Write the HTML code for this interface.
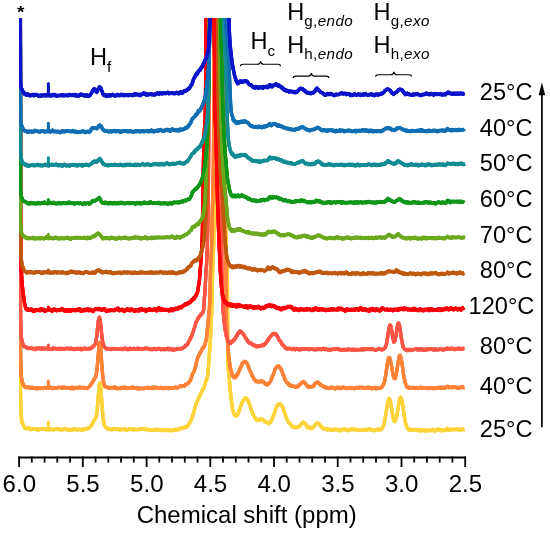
<!DOCTYPE html>
<html lang="en">
<head>
<meta charset="utf-8">
<title>Variable temperature NMR spectra</title>
<style>
html,body{margin:0;padding:0;background:#fff;}
body{width:550px;height:533px;overflow:hidden;}
svg{display:block;}
text{font-family:"Liberation Sans",Arial,Helvetica,sans-serif;font-size:23.6px;fill:#000;}
.sub{font-size:15.2px;letter-spacing:0.4px;}
.it{font-style:italic;}
#curves path{fill:none;stroke-width:3.3;stroke-linejoin:round;stroke-linecap:butt;}
</style>
</head>
<body>
<svg width="550" height="533" viewBox="0 0 550 533">
<rect x="0" y="0" width="550" height="533" fill="#fff"/>
<defs><clipPath id="plot"><rect x="19" y="18" width="448" height="436"/></clipPath></defs>
<g id="curves" clip-path="url(#plot)">
<g stroke="#ffd43a"><path id="c-yellow" d="M20.3 -8.0L20.4 380.2L20.7 404.7L21.1 415.0L21.2 416.2L21.5 418.9L21.9 421.6L22.3 423.3L22.4 423.0L22.7 423.7L23.1 424.8L23.5 425.7L23.9 426.5L24.3 427.0L24.4 427.4L24.7 428.0L25.1 428.0L25.5 428.4L25.9 428.3L26.3 428.5L26.7 428.3L27.1 428.5L27.5 428.1L27.9 428.3L28.3 428.3L28.7 428.4L29.1 428.1L29.5 428.9L29.9 429.3L30.3 429.5L30.7 429.2L31.1 429.4L31.5 429.2L31.9 429.1L32.3 429.3L32.7 428.8L33.1 428.9L33.5 429.1L33.9 428.9L34.3 429.1L34.7 429.2L35.1 429.1L35.5 428.8L35.9 429.0L36.0 429.3L36.3 428.9L36.7 429.6L37.1 429.6L37.5 429.5L37.9 430.0L38.3 429.6L38.7 429.1L39.1 429.4L39.5 429.5L39.9 429.3L40.3 429.4L40.7 429.0L41.1 429.0L41.5 429.0L41.9 428.5L42.3 428.8L42.7 428.7L43.1 428.9L43.5 428.7L43.9 428.8L44.3 428.9L44.7 429.2L45.1 429.4L45.5 429.1L45.9 429.4L46.3 429.8L46.7 429.2L47.1 429.4L47.5 429.3L47.9 429.5L48.3 429.4L48.7 429.2L49.1 429.3L49.5 429.4L49.9 429.7L50.3 429.2L50.7 429.1L51.1 429.1L51.5 429.0L51.9 429.1L52.3 429.1L52.7 429.5L53.1 429.6L53.5 430.0L53.9 429.7L54.3 429.4L54.7 429.3L55.1 429.0L55.5 429.2L55.9 429.1L56.3 429.3L56.7 428.9L57.1 429.2L57.5 428.7L57.9 428.6L58.3 429.1L58.7 429.0L59.1 429.3L59.5 429.8L59.9 429.1L60.3 429.2L60.7 429.5L61.1 429.8L61.5 429.8L61.9 429.9L62.3 429.9L62.7 429.7L63.1 429.1L63.5 429.0L63.9 428.9L64.3 428.7L64.7 429.1L65.1 428.9L65.5 429.4L65.9 429.3L66.3 429.4L66.7 429.4L67.1 429.6L67.5 429.4L67.9 429.7L68.3 430.1L68.7 429.6L69.1 430.1L69.5 429.5L69.9 430.1L70.3 429.7L70.7 430.1L71.1 430.0L71.5 429.6L71.9 430.1L72.3 430.0L72.7 429.4L73.1 429.2L73.5 429.1L73.9 428.9L74.3 429.3L74.7 429.1L75.1 429.3L75.5 429.3L75.9 429.5L76.3 429.4L76.7 430.0L77.1 429.7L77.5 429.8L77.9 429.5L78.3 429.3L78.7 429.4L79.1 429.4L79.5 429.6L79.9 429.5L80.3 429.6L80.7 429.3L81.1 429.4L81.5 429.9L81.9 429.4L82.3 429.3L82.7 429.6L83.1 429.8L83.5 429.1L83.9 429.4L84.3 429.3L84.7 429.0L85.1 429.5L85.5 429.4L85.9 429.3L86.3 428.9L86.7 429.0L87.1 428.6L87.5 428.4L87.9 428.1L88.3 428.0L88.7 428.3L89.1 427.8L89.5 427.7L89.9 427.3L90.3 426.9L90.7 426.4L91.1 426.1L91.5 425.3L91.9 424.6L92.3 423.9L92.7 423.4L93.1 422.5L93.5 421.6L93.9 420.7L94.3 419.8L94.7 419.7L95.1 419.0L95.5 418.0L95.9 417.1L96.3 415.7L96.7 413.5L97.1 410.4L97.5 406.1L97.9 401.6L98.3 395.8L98.7 391.0L99.1 386.6L99.5 383.8L99.9 383.0L100.3 384.0L100.7 386.5L101.1 391.0L101.5 397.2L101.9 402.8L102.3 408.8L102.7 414.1L103.1 417.7L103.5 420.8L103.9 423.5L104.3 425.0L104.7 426.0L105.1 426.7L105.5 427.0L105.9 427.2L106.3 427.8L106.7 427.9L107.1 428.0L107.5 428.7L107.9 428.8L108.3 429.0L108.7 428.8L109.1 429.0L109.5 429.0L109.9 429.1L110.3 429.4L110.7 429.2L111.1 429.5L111.5 429.5L111.9 429.8L112.3 429.0L112.7 429.3L113.1 428.9L113.5 428.8L113.9 428.4L114.3 428.7L114.7 429.0L115.1 429.0L115.5 429.1L115.9 429.1L116.3 429.5L116.7 429.4L117.1 429.0L117.5 429.4L117.9 429.2L118.3 428.8L118.7 429.3L119.1 429.7L119.5 429.3L119.9 429.1L120.3 429.2L120.7 429.7L121.1 429.5L121.5 429.4L121.9 429.3L122.3 429.3L122.7 429.4L123.1 429.4L123.5 429.4L123.9 429.2L124.3 429.5L124.7 429.3L125.1 429.7L125.5 429.2L125.9 429.6L126.3 429.8L126.7 429.7L127.1 430.4L127.5 430.2L127.9 429.6L128.3 429.7L128.7 429.4L129.1 428.7L129.5 429.2L129.9 429.1L130.3 429.2L130.7 428.9L131.1 429.2L131.5 429.2L131.9 429.5L132.3 429.3L132.7 429.2L133.1 429.5L133.5 429.1L133.9 429.2L134.3 428.9L134.7 429.6L135.1 429.5L135.5 429.5L135.9 429.6L136.3 429.6L136.7 429.7L137.1 429.7L137.5 429.6L137.9 429.5L138.3 429.6L138.7 429.2L139.1 428.9L139.5 428.8L139.9 428.8L140.0 429.4L140.3 429.2L140.7 429.1L141.1 429.0L141.5 428.8L141.9 429.0L142.3 429.1L142.7 428.9L143.1 428.9L143.5 429.0L143.9 429.2L144.3 429.0L144.7 429.4L145.1 429.2L145.5 429.6L145.9 429.1L146.3 429.4L146.7 429.6L147.1 429.3L147.5 429.3L147.9 429.6L148.3 429.7L148.7 429.6L149.1 430.0L149.5 430.5L149.9 430.1L150.3 430.2L150.7 430.0L151.1 430.3L151.5 430.0L151.9 429.9L152.3 430.2L152.7 429.7L153.1 430.0L153.5 430.0L153.9 429.8L154.3 429.9L154.7 430.2L155.1 429.7L155.5 429.6L155.9 429.4L156.3 429.7L156.7 429.9L157.1 429.8L157.5 429.4L157.9 429.5L158.3 429.6L158.7 429.8L159.1 429.8L159.5 429.9L159.9 430.0L160.3 429.9L160.7 430.0L161.1 430.1L161.5 430.1L161.9 430.2L162.3 430.4L162.7 430.1L163.1 430.1L163.5 429.8L163.9 430.3L164.3 429.8L164.7 430.0L165.1 430.5L165.5 430.5L165.9 430.4L166.3 430.1L166.7 430.3L167.1 430.0L167.5 430.1L167.9 430.3L168.3 430.0L168.7 430.0L169.1 430.1L169.5 430.4L169.9 430.5L170.0 430.3L170.3 430.6L170.7 430.3L171.1 430.7L171.5 430.6L171.9 430.5L172.3 430.1L172.7 430.3L173.1 430.1L173.5 429.9L173.9 429.8L174.3 429.5L174.7 429.4L175.1 429.9L175.5 429.7L175.9 429.8L176.3 430.0L176.7 429.4L177.1 429.5L177.5 429.7L177.9 429.7L178.3 429.4L178.7 429.6L179.1 429.2L179.5 428.7L179.9 428.5L180.0 428.8L180.3 428.7L180.7 428.1L181.1 428.6L181.5 428.3L181.9 428.3L182.3 427.8L182.7 427.8L183.1 427.5L183.5 428.2L183.9 427.6L184.3 427.8L184.7 427.2L185.1 427.3L185.5 426.8L185.9 427.0L186.3 427.1L186.7 426.5L187.0 426.9L187.1 426.8L187.5 426.2L187.9 425.8L188.3 425.2L188.7 424.6L189.1 423.7L189.5 422.9L189.9 422.3L190.0 422.0L190.3 421.5L190.7 421.1L191.1 420.4L191.5 418.9L191.9 418.2L192.3 416.9L192.5 416.2L192.7 416.0L193.1 414.5L193.5 413.6L193.9 411.6L194.3 410.4L194.7 408.8L195.0 407.6L195.1 407.5L195.2 407.0L195.4 406.5L195.5 406.1L195.6 405.6L195.8 405.3L195.9 405.1L196.0 405.0L196.2 403.9L196.3 403.7L196.4 403.0L196.6 402.9L196.7 402.2L196.8 401.9L197.0 401.9L197.1 402.1L197.2 401.5L197.4 401.1L197.5 400.9L197.6 400.5L197.8 400.2L197.9 399.7L198.0 399.5L198.2 399.4L198.3 399.0L198.4 399.0L198.6 398.3L198.7 397.9L198.8 397.5L199.0 397.8L199.1 397.1L199.2 397.0L199.4 396.5L199.5 396.4L199.6 396.2L199.8 396.1L199.9 395.3L200.0 395.0L200.2 394.6L200.3 394.2L200.4 394.3L200.6 393.9L200.7 393.4L200.8 393.2L201.0 393.1L201.1 393.4L201.2 392.3L201.4 392.7L201.5 392.1L201.6 392.4L201.8 391.7L201.9 391.6L202.0 391.1L202.2 390.7L202.3 390.9L202.4 390.5L202.6 389.9L202.7 389.6L202.8 389.3L203.0 389.4L203.1 389.4L203.2 389.3L203.4 389.1L203.5 388.8L203.6 388.8L203.8 388.4L203.9 388.3L204.0 388.1L204.2 387.0L204.3 386.6L204.4 386.4L204.6 385.7L204.7 385.4L204.8 385.2L205.0 384.2L205.1 384.1L205.2 383.5L205.4 382.8L205.5 382.4L205.6 381.9L205.8 381.3L205.9 381.3L206.0 381.1L206.2 380.9L206.3 380.7L206.4 380.2L206.6 379.9L206.7 379.3L206.8 379.1L207.0 378.5L207.1 377.8L207.2 377.8L207.3 377.5L207.4 376.9L207.5 376.1L207.6 375.4L207.8 373.5L207.9 372.7L208.0 371.7L208.2 370.0L208.3 368.6L208.4 367.7L208.6 365.1L208.7 363.5L208.8 361.9L209.0 359.2L209.1 357.2L209.2 356.2L209.3 354.8L209.4 353.4L209.5 352.1L209.6 350.6L209.8 348.0L209.9 346.8L210.0 345.4L210.2 342.4L210.3 340.5L210.4 339.3L210.6 336.2L210.7 334.4L210.8 332.4L211.0 328.0L211.1 326.3L211.2 323.7L211.4 318.0L211.5 315.9L211.6 312.6L211.7 309.7L211.8 306.6L211.9 303.4L212.0 299.1L212.1 295.2L212.2 291.4L212.3 286.9L212.4 282.0L212.6 273.5L212.7 269.6L212.8 266.7L213.0 261.8L213.1 259.5L213.2 257.3L213.4 252.6L213.5 249.4L213.6 246.3L213.8 238.9L213.9 234.7L214.0 230.4L214.2 220.7L214.3 215.5L214.4 210.6L214.6 199.9L214.7 194.9L214.8 190.9L215.0 182.2L215.1 177.6L215.2 172.0L215.4 159.0L215.5 150.5L215.6 140.3L215.8 82.6L215.9 45.5L216.0 18.2L216.2 -8.0L216.3 -8.0L216.4 -8.0L216.6 -8.0L216.7 -8.0L216.8 -8.0L217.0 -8.0L217.1 -8.0L217.2 -8.0L217.4 -8.0L217.5 -8.0L217.6 -8.0L217.8 -8.0L217.9 -8.0L218.0 -8.0L218.2 -8.0L218.3 -8.0L218.4 -8.0L218.6 -8.0L218.7 -8.0L218.8 -8.0L219.0 -8.0L219.1 -8.0L219.2 -8.0L219.4 -8.0L219.5 -8.0L219.6 -8.0L219.8 -8.0L219.9 -8.0L220.0 -8.0L220.2 -8.0L220.3 -8.0L220.4 -8.0L220.6 -8.0L220.7 -8.0L220.8 -8.0L221.0 -8.0L221.1 -8.0L221.2 -8.0L221.4 -8.0L221.5 -8.0L221.6 -8.0L221.8 -8.0L221.9 -8.0L222.0 -8.0L222.2 -8.0L222.3 -8.0L222.4 -8.0L222.6 -8.0L222.7 -8.0L222.8 -8.0L223.0 -8.0L223.1 -8.0L223.2 -8.0L223.4 -8.0L223.5 -8.0L223.6 -8.0L223.8 -8.0L223.9 -8.0L224.0 -8.0L224.2 18.5L224.3 45.4L224.4 81.0L224.6 140.2L224.7 154.5L224.8 167.0L225.0 185.7L225.1 193.2L225.2 199.9L225.4 212.2L225.5 217.6L225.6 223.1L225.8 232.2L225.9 236.5L226.0 240.0L226.2 247.1L226.3 249.6L226.4 251.8L226.6 255.4L226.7 256.8L226.8 258.3L227.0 260.9L227.1 263.2L227.2 266.1L227.3 270.4L227.4 281.6L227.5 303.3L227.6 328.6L227.8 360.6L227.9 362.5L228.0 364.5L228.2 367.9L228.3 368.9L228.4 369.9L228.6 371.4L228.7 372.7L228.8 373.6L229.0 375.5L229.1 376.7L229.2 377.4L229.4 380.6L229.5 381.6L229.6 383.0L229.8 385.6L229.9 386.7L230.0 387.6L230.2 390.2L230.3 391.1L230.4 392.2L230.6 394.0L230.7 394.9L230.8 395.4L231.0 397.7L231.1 398.2L231.2 399.0L231.4 400.7L231.5 401.0L231.6 401.4L231.8 403.2L231.9 404.0L232.0 405.0L232.2 406.6L232.3 406.9L232.4 408.1L232.6 409.0L232.7 410.0L232.8 410.5L232.9 410.9L233.0 411.2L233.1 411.4L233.2 411.6L233.4 412.1L233.5 412.8L233.6 413.5L233.8 414.1L233.9 414.1L234.0 414.0L234.2 414.0L234.3 414.6L234.4 414.5L234.6 414.9L234.7 415.1L234.8 415.3L235.0 415.3L235.1 415.4L235.2 415.3L235.4 415.6L235.5 416.2L235.6 415.7L235.8 415.7L235.9 415.9L236.0 415.9L236.1 415.5L236.2 415.6L236.3 415.7L236.4 415.5L236.6 415.3L236.7 415.5L236.8 415.0L237.0 415.1L237.1 414.9L237.2 415.3L237.4 414.4L237.5 414.6L237.6 414.5L237.8 414.5L237.9 414.3L238.0 414.2L238.2 413.1L238.3 413.3L238.4 412.8L238.6 412.1L238.7 411.9L238.8 411.3L239.0 410.5L239.1 410.6L239.2 410.2L239.4 410.0L239.5 410.1L239.6 409.9L239.8 409.6L239.9 408.8L240.3 407.2L240.7 406.2L241.0 405.4L241.1 405.1L241.5 404.4L241.9 403.1L242.3 401.7L242.7 401.4L243.1 400.5L243.5 400.1L243.9 399.6L244.3 399.2L244.7 398.4L245.1 398.2L245.4 397.8L245.5 397.8L245.9 398.1L246.3 398.1L246.7 398.9L247.1 399.4L247.5 400.0L247.9 400.3L248.3 401.7L248.7 402.3L249.1 403.1L249.5 404.0L249.9 405.4L250.3 406.6L250.7 407.7L251.0 408.8L251.1 409.1L251.5 410.5L251.9 411.3L252.3 412.4L252.7 413.5L253.1 414.7L253.5 414.8L253.9 415.7L254.3 416.4L254.5 417.1L254.7 417.0L255.1 417.8L255.5 418.5L255.9 418.9L256.3 419.4L256.7 419.9L257.1 419.7L257.2 419.9L257.5 420.1L257.9 420.3L258.3 420.3L258.7 420.0L259.1 420.2L259.5 420.2L259.9 419.9L260.3 419.4L260.7 419.0L261.1 419.1L261.4 418.8L261.5 418.7L261.9 418.8L262.3 419.4L262.7 419.4L263.1 420.0L263.5 420.0L263.9 420.7L264.3 420.6L264.5 420.8L264.7 421.6L265.1 421.6L265.5 421.7L265.9 422.1L266.3 422.4L266.7 422.7L267.1 422.5L267.5 422.4L267.9 422.9L268.3 423.2L268.5 423.3L268.7 423.6L269.1 423.2L269.5 423.1L269.9 422.3L270.3 422.2L270.7 422.0L271.1 421.1L271.5 420.4L271.9 419.6L272.3 419.0L272.7 417.4L273.1 416.5L273.5 415.5L273.9 414.6L274.3 413.3L274.7 412.3L275.0 411.4L275.1 411.0L275.5 409.7L275.9 408.3L276.3 407.4L276.7 406.6L277.1 405.4L277.5 405.0L277.8 405.0L277.9 404.6L278.3 404.7L278.7 404.2L279.1 404.4L279.5 404.5L279.7 404.4L279.9 403.9L280.3 404.3L280.7 404.5L281.1 405.0L281.5 405.7L281.7 405.3L281.9 405.9L282.3 406.3L282.7 407.5L283.1 408.3L283.5 409.4L283.9 410.8L284.3 412.2L284.7 413.3L285.0 414.2L285.1 414.3L285.5 415.1L285.9 416.8L286.3 417.8L286.7 418.7L287.1 419.6L287.5 420.7L287.9 421.2L288.3 421.8L288.5 422.3L288.7 422.8L289.1 422.8L289.5 423.7L289.9 423.7L290.3 423.9L290.7 424.9L291.1 425.2L291.5 425.5L291.9 426.1L292.3 426.7L292.4 426.8L292.7 426.4L293.1 426.6L293.5 426.8L293.9 426.6L294.3 427.1L294.7 427.2L295.1 427.2L295.5 427.3L295.9 427.4L296.3 427.4L296.7 427.2L297.0 427.2L297.1 427.5L297.5 427.1L297.9 427.1L298.3 426.9L298.7 426.6L299.1 426.7L299.5 425.7L299.9 425.7L300.3 425.1L300.7 425.1L301.1 424.6L301.5 423.3L301.9 423.0L302.3 422.9L302.7 422.5L303.1 422.3L303.5 422.2L303.9 422.5L304.3 422.9L304.7 423.1L305.1 423.7L305.5 423.5L305.9 424.8L306.3 425.2L306.7 426.4L307.1 426.9L307.5 427.1L307.9 427.5L308.3 427.1L308.7 427.0L309.1 426.9L309.5 427.4L309.9 427.9L310.3 428.3L310.7 428.3L311.1 428.6L311.5 428.4L311.9 428.1L312.3 428.0L312.7 427.8L313.1 427.2L313.5 426.9L313.9 426.6L314.3 426.3L314.7 425.6L315.1 425.4L315.5 424.4L315.9 424.1L316.3 423.4L316.7 423.4L317.1 423.2L317.5 422.9L317.9 423.5L318.3 423.3L318.7 423.8L319.1 424.1L319.5 424.2L319.9 424.8L320.3 425.6L320.7 426.0L321.1 426.5L321.5 427.0L321.9 427.1L322.3 427.9L322.7 427.8L323.1 428.5L323.5 428.4L323.9 428.5L324.3 428.7L324.7 428.9L325.1 428.8L325.5 428.9L325.9 429.2L326.3 429.1L326.7 429.3L327.1 429.8L327.5 429.3L327.9 429.7L328.3 429.2L328.7 429.6L329.1 429.4L329.5 429.4L329.9 429.6L330.3 429.9L330.7 429.7L331.1 429.8L331.5 429.7L331.9 430.1L332.3 429.8L332.7 429.9L333.1 429.5L333.5 429.8L333.9 429.0L334.3 429.4L334.7 429.8L335.1 429.5L335.5 429.4L335.9 429.5L336.3 429.2L336.7 429.5L337.1 430.0L337.5 429.9L337.9 429.6L338.3 429.8L338.7 430.1L339.1 430.6L339.5 430.3L339.9 430.3L340.3 430.6L340.7 430.6L341.1 430.2L341.5 429.9L341.9 429.7L342.3 429.7L342.7 429.2L343.1 429.7L343.5 429.2L343.9 429.3L344.3 429.5L344.7 429.4L345.1 429.0L345.5 429.6L345.9 429.9L346.3 429.7L346.7 429.9L347.1 430.2L347.5 430.0L347.9 430.6L348.3 429.7L348.7 429.9L349.1 430.0L349.5 429.9L349.9 429.9L350.3 429.8L350.7 429.5L351.1 429.6L351.5 428.9L351.9 429.3L352.3 429.2L352.7 429.5L353.1 429.6L353.5 429.3L353.9 429.4L354.3 429.6L354.7 429.5L355.1 429.3L355.5 430.0L355.9 430.2L356.3 429.5L356.7 430.0L357.1 430.4L357.5 430.1L357.9 430.0L358.3 430.0L358.7 429.9L359.1 430.0L359.5 430.0L359.9 430.3L360.3 430.1L360.7 430.1L361.1 430.0L361.5 430.3L361.9 430.0L362.3 430.1L362.7 430.2L363.1 430.0L363.5 429.9L363.9 429.8L364.3 429.7L364.7 429.7L365.1 429.7L365.5 430.0L365.9 429.6L366.3 430.2L366.7 429.9L367.1 429.7L367.5 429.7L367.9 429.5L368.3 429.6L368.7 429.3L369.1 429.6L369.5 429.2L369.9 429.0L370.3 429.4L370.7 429.2L371.1 429.8L371.5 430.1L371.9 430.2L372.3 429.9L372.7 430.1L373.1 430.6L373.5 430.3L373.9 430.2L374.3 430.2L374.7 430.4L375.1 430.1L375.5 429.8L375.9 429.8L376.3 429.9L376.7 429.6L377.1 429.4L377.5 429.5L377.9 429.2L378.3 429.3L378.7 429.4L379.1 430.0L379.5 429.5L379.9 429.7L380.3 429.7L380.7 429.7L381.1 429.5L381.5 428.9L381.9 428.5L382.3 427.8L382.7 427.4L383.1 426.8L383.5 425.6L383.9 424.0L384.3 422.5L384.7 420.8L385.1 418.9L385.5 416.4L385.9 414.0L386.3 411.1L386.7 408.7L387.1 406.7L387.5 403.6L387.9 401.9L388.3 400.3L388.7 399.1L389.1 398.6L389.5 399.0L389.9 400.0L390.3 401.4L390.7 402.9L391.1 405.4L391.5 407.6L391.9 410.1L392.3 412.8L392.7 415.2L393.1 417.4L393.5 418.8L393.9 420.4L394.3 421.3L394.7 421.5L395.1 421.3L395.5 420.4L395.9 419.4L396.3 418.3L396.7 416.2L397.1 414.5L397.5 412.0L397.9 409.4L398.3 406.4L398.7 404.0L399.1 401.9L399.5 400.1L399.9 398.8L400.0 398.2L400.3 397.7L400.7 397.3L401.1 398.0L401.5 398.9L401.9 400.6L402.3 402.9L402.7 405.0L403.1 407.3L403.5 410.3L403.9 413.0L404.3 415.8L404.7 418.7L405.1 420.7L405.5 422.2L405.9 424.3L406.3 425.7L406.7 426.5L407.1 427.4L407.5 428.2L407.9 428.9L408.3 429.4L408.7 429.8L409.1 430.0L409.5 430.1L409.9 430.1L410.3 430.0L410.7 429.5L411.1 429.7L411.5 429.8L411.9 429.7L412.3 430.0L412.7 429.7L413.1 429.6L413.5 430.1L413.9 430.0L414.3 430.0L414.7 430.2L415.1 430.2L415.5 430.0L415.9 429.4L416.3 429.8L416.7 429.9L417.1 430.0L417.5 430.3L417.9 430.5L418.3 430.1L418.7 429.8L419.1 430.5L419.5 430.0L419.9 430.0L420.3 430.5L420.7 430.7L421.1 430.5L421.5 430.7L421.9 430.3L422.3 430.1L422.7 430.2L423.1 430.4L423.5 430.1L423.9 430.4L424.3 430.4L424.7 431.0L425.1 430.2L425.5 430.6L425.9 430.4L426.3 430.4L426.7 430.6L427.1 430.7L427.5 430.7L427.9 430.4L428.3 430.2L428.7 430.2L429.1 430.4L429.5 430.5L429.9 430.7L430.3 430.5L430.7 430.6L431.1 430.6L431.5 430.2L431.9 429.7L432.3 429.6L432.7 429.5L433.1 430.3L433.5 430.0L433.9 430.7L434.3 430.8L434.7 431.1L435.1 430.9L435.5 430.4L435.9 430.1L436.3 429.8L436.7 429.7L437.1 429.5L437.5 429.6L437.9 429.9L438.3 429.2L438.7 429.6L439.1 429.5L439.5 429.8L439.9 430.2L440.3 430.2L440.7 430.6L441.1 430.1L441.5 430.7L441.9 430.3L442.3 430.6L442.7 430.5L443.1 429.9L443.5 430.1L443.9 430.1L444.3 430.2L444.7 429.9L445.1 430.0L445.5 429.7L445.9 430.4L446.3 430.4L446.7 429.6L447.1 428.9L447.5 428.3L447.9 429.0L448.3 429.8L448.7 429.6L449.1 429.9L449.5 429.9L449.9 429.6L450.3 430.0L450.7 429.3L451.1 429.4L451.5 429.4L451.9 429.5L452.3 429.4L452.7 429.5L453.1 429.4L453.5 429.3L453.9 429.6L454.3 429.5L454.7 429.4L455.1 429.4L455.5 429.6L455.9 429.3L456.3 429.2L456.7 429.0L457.1 429.3L457.5 429.2L457.9 429.5L458.3 428.9L458.7 429.2L459.1 429.6L459.5 429.5L459.9 429.6L460.3 430.1L460.7 429.8L461.1 429.6L461.5 429.4L461.9 429.6L462.3 429.4L462.7 428.9L463.1 429.0L463.5 429.4L463.9 429.6L464.3 429.5"/><use href="#c-yellow" y="0.25"/><use href="#c-yellow" y="-0.25"/></g>
<path d="M48.4 429.8V422.1" stroke="#ffd43a" style="stroke-width:3.0;stroke-linecap:round"/>
<g stroke="#ff8236"><path id="c-orange" d="M20.3 -8.0L20.4 339.9L20.7 363.7L21.1 373.9L21.2 375.1L21.5 377.7L21.9 380.3L22.3 381.7L22.4 381.8L22.7 382.8L23.1 384.2L23.5 384.6L23.9 385.7L24.3 386.3L24.4 386.5L24.7 386.2L25.1 387.1L25.5 386.9L25.9 387.0L26.3 387.2L26.7 387.6L27.1 387.6L27.5 387.6L27.9 387.7L28.3 387.1L28.7 387.0L29.1 387.4L29.5 387.5L29.9 387.8L30.3 387.6L30.7 388.1L31.1 387.9L31.5 388.1L31.9 387.4L32.3 387.7L32.7 387.7L33.1 387.5L33.5 387.8L33.9 388.3L34.3 388.0L34.7 388.0L35.1 388.4L35.5 388.4L35.9 388.4L36.0 388.1L36.3 388.3L36.7 388.6L37.1 388.2L37.5 388.1L37.9 388.4L38.3 388.5L38.7 388.0L39.1 387.8L39.5 388.2L39.9 388.3L40.3 388.4L40.7 388.4L41.1 388.2L41.5 388.0L41.9 388.1L42.3 387.9L42.7 388.0L43.1 387.7L43.5 388.3L43.9 387.9L44.3 387.5L44.7 387.6L45.1 387.7L45.5 387.6L45.9 387.8L46.3 387.9L46.7 388.3L47.1 388.0L47.5 387.9L47.9 387.7L48.3 387.7L48.7 387.9L49.1 387.8L49.5 387.9L49.9 387.3L50.3 387.6L50.7 387.4L51.1 387.6L51.5 387.4L51.9 387.8L52.3 388.3L52.7 388.5L53.1 388.2L53.5 388.2L53.9 387.8L54.3 387.8L54.7 387.7L55.1 388.0L55.5 387.9L55.9 387.8L56.3 387.9L56.7 388.1L57.1 387.9L57.5 387.6L57.9 387.9L58.3 387.4L58.7 387.1L59.1 387.4L59.5 387.4L59.9 387.3L60.3 387.7L60.7 387.6L61.1 387.8L61.5 387.5L61.9 388.2L62.3 387.4L62.7 387.8L63.1 387.3L63.5 387.2L63.9 387.3L64.3 387.5L64.7 387.6L65.1 387.9L65.5 387.6L65.9 387.8L66.3 387.6L66.7 387.9L67.1 387.8L67.5 387.7L67.9 387.7L68.3 387.7L68.7 387.8L69.1 388.0L69.5 388.0L69.9 388.0L70.3 388.4L70.7 387.8L71.1 387.9L71.5 388.2L71.9 387.3L72.3 387.7L72.7 388.0L73.1 387.7L73.5 388.7L73.9 387.7L74.3 388.5L74.7 388.4L75.1 388.2L75.5 388.0L75.9 388.0L76.3 387.7L76.7 388.0L77.1 387.5L77.5 387.5L77.9 387.8L78.3 387.4L78.7 387.6L79.1 387.7L79.5 387.3L79.9 387.9L80.3 387.7L80.7 387.4L81.1 387.7L81.5 387.6L81.9 387.6L82.3 387.7L82.7 387.5L83.1 387.8L83.5 387.5L83.9 388.0L84.3 387.9L84.7 388.2L85.1 388.0L85.5 388.1L85.9 387.9L86.3 388.2L86.7 388.2L87.1 388.3L87.5 387.9L87.9 387.5L88.3 387.3L88.7 387.2L89.1 386.8L89.5 386.7L89.9 386.0L90.3 385.1L90.7 384.6L91.1 384.5L91.5 383.7L91.9 383.0L92.3 382.6L92.7 381.6L93.1 381.0L93.5 380.4L93.9 379.5L94.3 379.5L94.7 378.5L95.1 377.9L95.5 377.0L95.9 376.1L96.3 374.2L96.7 371.8L97.1 368.1L97.5 364.2L97.9 359.0L98.3 354.2L98.7 349.3L99.1 345.1L99.5 343.1L99.9 342.5L100.3 344.4L100.7 348.3L101.1 353.6L101.5 359.8L101.9 365.8L102.3 370.6L102.7 375.5L103.1 378.9L103.5 381.6L103.9 383.4L104.3 384.5L104.7 385.5L105.1 386.7L105.5 386.8L105.9 386.6L106.3 387.2L106.7 387.2L107.1 387.1L107.5 387.2L107.9 387.6L108.3 388.2L108.7 388.2L109.1 388.2L109.5 388.2L109.9 388.2L110.3 387.5L110.7 387.9L111.1 387.8L111.5 387.7L111.9 387.9L112.3 387.9L112.7 387.8L113.1 387.4L113.5 387.4L113.9 387.8L114.3 387.1L114.7 387.0L115.1 387.6L115.5 387.9L115.9 388.2L116.3 388.1L116.7 388.6L117.1 388.3L117.5 388.1L117.9 388.1L118.3 388.1L118.7 388.3L119.1 388.3L119.5 388.3L119.9 388.5L120.3 388.3L120.7 388.4L121.1 387.7L121.5 387.5L121.9 387.9L122.3 387.4L122.7 387.8L123.1 387.9L123.5 387.9L123.9 387.9L124.3 388.2L124.7 387.3L125.1 388.0L125.5 388.3L125.9 387.8L126.3 387.8L126.7 387.9L127.1 388.2L127.5 387.7L127.9 388.0L128.3 388.0L128.7 388.1L129.1 388.0L129.5 388.1L129.9 387.9L130.3 388.0L130.7 387.8L131.1 387.7L131.5 387.7L131.9 387.6L132.3 387.3L132.7 387.9L133.1 387.6L133.5 387.4L133.9 388.1L134.3 387.9L134.7 388.2L135.1 388.2L135.5 388.2L135.9 388.1L136.3 387.9L136.7 388.0L137.1 388.6L137.5 387.8L137.9 388.4L138.3 388.5L138.7 388.2L139.1 388.1L139.5 388.8L139.9 388.2L140.0 388.8L140.3 388.5L140.7 388.3L141.1 388.3L141.5 388.3L141.9 388.4L142.3 388.3L142.7 388.4L143.1 388.5L143.5 388.7L143.9 388.5L144.3 388.1L144.7 388.1L145.1 388.2L145.5 388.0L145.9 387.9L146.3 387.6L146.7 387.6L147.1 387.6L147.5 387.7L147.9 387.6L148.3 388.0L148.7 387.6L149.1 388.3L149.5 387.9L149.9 388.0L150.3 388.0L150.7 387.7L151.1 388.2L151.5 388.2L151.9 388.4L152.3 387.5L152.7 388.2L153.1 387.8L153.5 388.0L153.9 387.3L154.3 387.8L154.7 387.6L155.1 387.7L155.5 387.5L155.9 387.2L156.3 387.7L156.7 387.8L157.1 387.9L157.5 388.2L157.9 388.3L158.3 388.1L158.7 387.8L159.1 387.7L159.5 388.1L159.9 387.9L160.3 387.6L160.7 387.5L161.1 387.6L161.5 387.7L161.9 387.7L162.3 387.7L162.7 388.4L163.1 388.1L163.5 388.0L163.9 388.0L164.3 388.2L164.7 388.4L165.1 388.3L165.5 387.9L165.9 387.9L166.3 387.8L166.7 387.7L167.1 388.1L167.5 387.9L167.9 388.3L168.3 387.7L168.7 388.1L169.1 388.5L169.5 388.4L169.9 388.1L170.0 388.0L170.3 388.0L170.7 387.9L171.1 387.8L171.5 388.1L171.9 388.2L172.3 388.2L172.7 388.1L173.1 387.9L173.5 387.9L173.9 387.8L174.3 387.6L174.7 387.6L175.1 387.4L175.5 387.2L175.9 387.3L176.3 387.7L176.7 387.7L177.1 387.9L177.5 387.6L177.9 387.7L178.3 387.6L178.7 387.2L179.1 386.5L179.5 386.4L179.9 386.3L180.3 386.0L180.7 386.4L181.1 386.4L181.5 386.0L181.9 386.4L182.3 385.8L182.7 385.8L183.1 385.8L183.5 385.7L183.9 386.0L184.3 385.8L184.7 386.0L185.0 385.5L185.1 385.2L185.5 384.8L185.9 384.2L186.3 384.3L186.7 383.9L187.1 384.1L187.5 383.6L187.9 383.7L188.3 383.1L188.7 382.6L189.1 382.0L189.5 381.5L189.7 381.3L189.9 381.2L190.3 380.2L190.7 379.5L191.1 378.9L191.5 377.2L191.9 376.0L192.3 374.7L192.7 373.5L193.1 373.2L193.2 372.8L193.5 372.3L193.9 371.8L194.3 371.0L194.6 369.4L194.7 369.5L195.0 368.4L195.1 368.1L195.2 367.9L195.4 367.2L195.5 367.2L195.6 366.6L195.8 365.6L195.9 365.2L196.0 364.5L196.2 363.5L196.3 363.0L196.4 362.9L196.6 361.8L196.7 361.2L196.8 360.6L197.0 359.9L197.1 359.5L197.2 359.4L197.4 358.9L197.5 358.1L197.6 358.3L197.8 357.8L197.9 357.4L198.0 356.9L198.2 357.0L198.3 356.4L198.4 356.2L198.6 355.9L198.7 355.9L198.8 355.8L199.0 355.4L199.1 354.9L199.2 354.4L199.4 354.1L199.5 353.8L199.6 353.8L199.8 353.2L199.9 353.4L200.0 353.4L200.2 352.8L200.3 352.7L200.4 352.1L200.6 351.6L200.7 351.6L200.8 351.8L201.0 351.4L201.1 350.9L201.2 351.0L201.4 350.2L201.5 350.3L201.6 349.8L201.8 349.3L201.9 349.3L202.0 348.9L202.2 348.6L202.3 348.5L202.4 348.8L202.6 348.5L202.7 348.3L202.8 348.0L203.0 348.1L203.1 347.6L203.2 347.5L203.4 347.8L203.5 347.8L203.6 347.4L203.8 346.5L203.9 346.6L204.0 346.6L204.2 346.1L204.3 346.2L204.4 345.4L204.6 345.3L204.7 344.7L204.8 345.0L205.0 344.4L205.1 344.6L205.2 344.0L205.4 343.2L205.5 342.7L205.6 342.1L205.8 341.0L205.9 341.0L206.0 340.6L206.2 339.6L206.3 339.0L206.4 338.7L206.5 338.1L206.6 337.7L206.7 336.6L206.8 335.6L207.0 333.4L207.1 332.0L207.2 331.3L207.4 328.9L207.5 328.0L207.6 326.8L207.8 324.6L207.9 323.7L208.0 323.1L208.2 320.6L208.3 319.7L208.4 318.9L208.6 316.8L208.7 315.7L208.8 315.0L209.0 313.6L209.1 311.9L209.2 311.3L209.3 310.1L209.4 308.4L209.5 306.2L209.6 303.5L209.8 297.4L209.9 293.6L210.0 290.3L210.2 282.1L210.3 277.7L210.4 273.4L210.5 270.0L210.6 266.9L210.7 264.4L210.8 262.1L211.0 258.0L211.1 256.2L211.2 254.2L211.4 249.7L211.5 246.6L211.6 243.3L211.8 235.9L211.9 231.7L212.0 226.8L212.2 218.5L212.3 213.6L212.4 209.0L212.6 200.1L212.7 195.6L212.8 191.4L213.0 183.7L213.1 178.2L213.2 173.1L213.4 159.7L213.5 149.8L213.6 137.2L213.8 99.7L213.9 58.6L214.0 17.5L214.2 -8.0L214.3 -8.0L214.4 -8.0L214.6 -8.0L214.7 -8.0L214.8 -8.0L215.0 -8.0L215.1 -8.0L215.2 -8.0L215.4 -8.0L215.5 -8.0L215.6 -8.0L215.8 -8.0L215.9 -8.0L216.0 -8.0L216.2 -8.0L216.3 -8.0L216.4 -8.0L216.6 -8.0L216.7 -8.0L216.8 -8.0L217.0 -8.0L217.1 -8.0L217.2 -8.0L217.4 -8.0L217.5 -8.0L217.6 -8.0L217.8 -8.0L217.9 -8.0L218.0 -8.0L218.2 -8.0L218.3 -8.0L218.4 -8.0L218.6 -8.0L218.7 -8.0L218.8 -8.0L219.0 -8.0L219.1 -8.0L219.2 -8.0L219.4 -8.0L219.5 -8.0L219.6 -8.0L219.8 -8.0L219.9 -8.0L220.0 -8.0L220.2 -8.0L220.3 -8.0L220.4 -8.0L220.6 -8.0L220.7 -8.0L220.8 -8.0L221.0 -8.0L221.1 -8.0L221.2 -8.0L221.4 -8.0L221.5 -8.0L221.6 -8.0L221.8 -8.0L221.9 -8.0L222.0 -8.0L222.2 -8.0L222.3 -8.0L222.4 -8.0L222.6 -8.0L222.7 -8.0L222.8 -8.0L223.0 -8.0L223.1 -8.0L223.2 -8.0L223.4 -8.0L223.5 -0.9L223.6 18.9L223.8 78.4L223.9 113.7L224.0 140.5L224.2 175.7L224.3 189.5L224.4 200.1L224.6 215.8L224.7 221.9L224.8 227.6L225.0 238.0L225.1 242.4L225.2 245.9L225.3 249.3L225.4 253.3L225.5 255.6L225.6 258.2L225.8 262.6L225.9 265.7L226.0 269.9L226.2 295.9L226.3 311.1L226.4 319.3L226.6 325.7L226.7 328.5L226.8 330.0L227.0 332.9L227.1 334.7L227.2 336.3L227.4 339.5L227.5 340.9L227.6 342.3L227.8 344.9L227.9 346.3L228.0 347.3L228.2 349.8L228.3 351.0L228.4 352.5L228.6 354.3L228.7 355.1L228.8 356.1L229.0 357.7L229.1 358.7L229.2 359.3L229.4 361.1L229.5 361.8L229.6 362.4L229.8 363.8L229.9 364.9L230.0 365.5L230.2 366.6L230.3 366.9L230.4 367.4L230.6 368.9L230.7 369.5L230.8 369.8L231.0 370.0L231.1 370.5L231.2 370.3L231.4 371.1L231.5 371.6L231.6 371.9L231.8 372.9L231.9 373.2L232.0 374.0L232.2 374.5L232.3 375.2L232.4 375.4L232.5 375.7L232.6 375.6L232.7 375.5L232.8 375.7L233.0 375.7L233.1 376.1L233.2 376.2L233.4 376.3L233.5 376.7L233.6 376.9L233.8 377.0L233.9 377.3L234.0 377.5L234.2 377.2L234.3 377.3L234.4 377.0L234.6 377.6L234.7 377.5L234.8 377.1L235.0 377.5L235.1 377.5L235.2 377.1L235.4 377.1L235.5 376.9L235.6 377.1L235.8 376.5L235.9 376.6L236.0 376.9L236.2 376.0L236.3 375.8L236.4 375.3L236.6 374.8L236.7 375.0L236.8 375.1L237.0 374.8L237.1 375.1L237.2 375.2L237.4 374.9L237.5 374.2L237.6 374.2L237.8 373.7L237.9 374.0L238.0 373.6L238.2 373.1L238.3 372.5L238.4 372.2L238.6 372.1L238.7 371.9L238.8 371.6L239.0 371.5L239.1 371.4L239.2 371.1L239.4 370.3L239.5 369.8L239.6 369.9L239.8 369.5L239.9 369.1L240.0 368.7L240.3 367.9L240.7 367.3L241.1 366.2L241.5 365.3L241.9 364.3L242.3 363.7L242.5 363.5L242.7 363.0L243.1 362.4L243.5 362.2L243.9 362.2L244.3 361.7L244.5 361.9L244.7 361.5L245.1 361.6L245.5 361.6L245.9 362.1L246.3 362.9L246.5 362.9L246.7 363.1L247.1 363.6L247.5 364.2L247.9 365.1L248.3 366.3L248.7 367.6L249.1 368.8L249.5 370.0L249.9 370.8L250.0 370.7L250.3 371.3L250.7 371.9L251.1 373.2L251.5 373.5L251.9 374.8L252.3 376.3L252.7 376.6L253.1 377.2L253.5 378.1L253.9 378.9L254.3 379.1L254.7 379.6L255.1 379.9L255.5 380.2L255.9 381.4L256.3 381.2L256.7 381.4L257.1 381.5L257.2 381.7L257.5 381.7L257.9 381.7L258.3 381.7L258.7 381.5L259.1 382.0L259.5 381.9L259.9 381.8L260.3 381.4L260.7 381.3L261.1 381.1L261.4 381.1L261.5 380.8L261.9 381.2L262.3 381.4L262.7 381.4L263.1 381.8L263.5 382.1L263.9 382.8L264.0 382.2L264.3 382.9L264.7 383.0L265.1 383.6L265.5 384.1L265.9 384.0L266.3 384.3L266.7 384.2L267.0 384.9L267.1 384.7L267.5 384.7L267.9 384.0L268.3 383.7L268.7 383.7L269.1 382.9L269.5 382.5L269.9 382.2L270.0 381.8L270.3 381.8L270.7 380.9L271.1 380.1L271.5 378.8L271.9 377.9L272.3 376.5L272.7 375.8L273.1 374.8L273.5 373.9L273.9 372.9L274.3 371.9L274.7 370.1L275.1 369.8L275.5 368.6L275.9 367.9L276.3 367.3L276.7 366.7L277.1 366.5L277.5 366.5L277.9 366.4L278.3 366.0L278.7 366.1L279.1 367.0L279.5 366.9L279.9 367.9L280.3 368.0L280.7 368.3L281.1 369.4L281.5 370.5L281.9 370.8L282.3 372.5L282.7 373.2L283.1 374.7L283.5 375.3L283.9 376.0L284.3 377.4L284.7 378.5L285.1 379.7L285.5 380.6L285.9 381.3L286.3 381.9L286.7 382.4L287.0 382.7L287.1 382.5L287.5 383.0L287.9 382.9L288.3 384.0L288.7 384.4L289.1 385.3L289.5 385.2L289.9 385.1L290.3 385.5L290.7 385.3L291.0 385.5L291.1 385.2L291.5 386.1L291.9 386.0L292.3 385.7L292.7 386.0L293.1 386.3L293.5 386.2L293.9 386.3L294.3 386.2L294.7 386.5L295.1 386.8L295.5 387.1L295.9 386.7L296.0 386.6L296.3 387.0L296.7 386.6L297.1 387.0L297.5 386.7L297.9 386.6L298.3 386.4L298.7 385.7L299.1 385.3L299.5 384.5L299.9 384.1L300.3 384.0L300.7 383.8L301.1 383.3L301.5 383.1L301.9 382.3L302.3 381.9L302.7 381.9L303.1 381.6L303.5 381.7L303.9 381.8L304.3 382.6L304.7 382.6L305.1 383.4L305.5 383.5L305.9 384.5L306.3 384.5L306.7 385.4L307.1 385.4L307.5 386.2L307.9 386.9L308.3 386.7L308.7 387.0L309.1 386.9L309.5 386.5L309.9 387.0L310.3 387.1L310.7 386.8L311.1 387.1L311.5 386.8L311.9 386.6L312.3 386.7L312.7 386.3L313.1 386.6L313.5 385.5L313.9 385.5L314.3 385.1L314.7 383.9L315.1 383.4L315.5 383.4L315.9 382.8L316.3 382.7L316.7 382.7L317.1 382.4L317.5 382.3L317.9 382.2L318.3 383.1L318.7 383.1L319.1 383.7L319.5 383.9L319.9 383.9L320.3 384.9L320.7 385.1L321.1 385.4L321.5 385.2L321.9 385.6L322.3 385.7L322.7 386.0L323.1 386.1L323.5 386.7L323.9 386.9L324.3 387.2L324.7 387.1L325.1 387.6L325.5 387.4L325.9 386.9L326.3 387.4L326.7 387.7L327.1 388.1L327.5 388.0L327.9 388.1L328.3 388.1L328.7 388.4L329.1 388.1L329.5 388.0L329.9 387.8L330.3 388.0L330.7 387.7L331.1 387.3L331.5 387.7L331.9 387.3L332.3 387.4L332.7 387.4L333.1 387.7L333.5 387.9L333.9 387.9L334.3 388.2L334.7 388.1L335.1 388.8L335.5 388.5L335.9 388.6L336.3 388.2L336.7 387.6L337.1 388.2L337.5 387.6L337.9 387.5L338.3 387.5L338.7 387.7L339.1 387.8L339.5 387.5L339.9 388.2L340.3 388.0L340.7 387.9L341.1 388.4L341.5 388.1L341.9 387.7L342.3 387.3L342.7 387.6L343.1 387.6L343.5 387.5L343.9 387.3L344.3 387.6L344.7 387.7L345.1 388.1L345.5 388.3L345.9 388.3L346.3 387.8L346.7 387.9L347.1 388.0L347.5 387.8L347.9 388.0L348.3 388.5L348.7 388.1L349.1 388.2L349.5 387.8L349.9 387.9L350.3 387.5L350.7 387.9L351.1 388.2L351.5 388.4L351.9 388.2L352.3 388.1L352.7 388.0L353.1 387.9L353.5 388.1L353.9 388.4L354.3 388.2L354.7 388.6L355.1 388.1L355.5 387.8L355.9 387.8L356.3 387.5L356.7 387.4L357.1 387.9L357.5 387.7L357.9 387.8L358.3 388.0L358.7 388.0L359.1 387.5L359.5 387.7L359.9 387.4L360.3 387.3L360.7 387.6L361.1 387.3L361.5 387.5L361.9 387.7L362.3 387.8L362.7 387.5L363.1 387.5L363.5 387.8L363.9 387.9L364.3 387.9L364.7 388.2L365.1 387.9L365.5 387.8L365.9 387.8L366.3 387.6L366.7 387.4L367.1 387.8L367.5 387.4L367.9 387.4L368.3 387.7L368.7 387.9L369.1 387.5L369.5 387.8L369.9 387.5L370.3 387.6L370.7 387.7L371.1 387.9L371.5 388.4L371.9 387.8L372.3 388.5L372.7 387.9L373.1 388.1L373.5 388.2L373.9 388.1L374.3 387.9L374.7 387.5L375.1 388.0L375.5 387.8L375.9 388.7L376.3 388.2L376.7 388.3L377.1 388.0L377.5 388.1L377.9 387.9L378.3 388.3L378.7 388.1L379.1 388.2L379.5 387.9L379.9 388.0L380.3 388.3L380.7 387.8L381.1 387.4L381.5 387.6L381.9 386.8L382.3 386.4L382.7 386.1L383.1 385.1L383.5 384.7L383.9 383.4L384.3 382.5L384.7 380.8L385.1 378.4L385.5 376.0L385.9 373.2L386.3 370.8L386.7 368.3L387.1 365.1L387.5 363.2L387.9 360.6L388.3 359.0L388.7 357.7L389.1 358.0L389.5 357.8L389.9 358.6L390.3 359.8L390.7 361.9L391.1 363.3L391.5 366.0L391.9 368.8L392.3 370.7L392.7 373.0L393.1 375.1L393.5 376.4L393.9 377.7L394.3 378.6L394.7 378.6L395.1 378.3L395.5 377.3L395.9 375.9L396.3 373.9L396.7 371.9L397.1 369.1L397.5 366.2L397.9 363.1L398.3 361.3L398.7 359.1L399.1 357.0L399.5 355.6L399.9 355.3L400.0 355.8L400.3 355.7L400.7 356.8L401.1 358.5L401.5 360.8L401.9 362.9L402.3 365.6L402.7 368.4L403.1 371.7L403.5 374.3L403.9 376.5L404.3 378.4L404.7 380.4L405.1 382.3L405.5 383.3L405.9 384.8L406.3 385.7L406.7 386.4L407.1 387.1L407.5 387.4L407.9 387.3L408.3 387.5L408.7 388.0L409.1 387.3L409.5 387.6L409.9 388.0L410.3 387.8L410.7 387.7L411.1 387.6L411.5 387.9L411.9 388.0L412.3 388.0L412.7 387.7L413.1 387.8L413.5 387.4L413.9 387.7L414.3 387.7L414.7 388.1L415.1 388.4L415.5 388.4L415.9 387.8L416.3 388.1L416.7 387.7L417.1 387.6L417.5 388.0L417.9 387.9L418.3 388.3L418.7 388.3L419.1 388.1L419.5 388.1L419.9 387.6L420.3 387.5L420.7 387.2L421.1 387.6L421.5 387.7L421.9 388.0L422.3 388.2L422.7 388.2L423.1 387.7L423.5 387.7L423.9 387.9L424.3 388.1L424.7 388.1L425.1 388.2L425.5 388.2L425.9 388.0L426.3 387.9L426.7 387.7L427.1 387.9L427.5 388.2L427.9 388.5L428.3 388.5L428.7 388.4L429.1 388.1L429.5 388.1L429.9 387.8L430.3 387.7L430.7 387.8L431.1 387.8L431.5 387.8L431.9 388.3L432.3 388.3L432.7 388.1L433.1 387.9L433.5 388.5L433.9 387.8L434.3 387.9L434.7 388.0L435.1 387.8L435.5 388.1L435.9 388.4L436.3 388.1L436.7 388.0L437.1 387.9L437.5 387.7L437.9 387.8L438.3 387.5L438.7 387.5L439.1 387.6L439.5 387.8L439.9 387.8L440.3 387.9L440.7 387.4L441.1 388.0L441.5 388.2L441.9 387.9L442.3 387.6L442.7 387.5L443.1 387.9L443.5 387.7L443.9 388.1L444.3 387.8L444.7 388.0L445.1 387.9L445.5 387.1L445.9 387.6L446.3 387.3L446.7 386.8L447.1 386.5L447.5 386.4L447.9 386.9L448.3 386.7L448.7 387.3L449.1 387.6L449.5 387.3L449.9 387.4L450.3 387.4L450.7 387.1L451.1 387.4L451.5 387.2L451.9 387.1L452.3 387.5L452.7 387.1L453.1 387.0L453.5 387.3L453.9 386.7L454.3 386.8L454.7 386.9L455.1 387.0L455.5 387.4L455.9 387.3L456.3 387.8L456.7 387.8L457.1 387.7L457.5 387.5L457.9 387.8L458.3 387.9L458.7 387.6L459.1 387.9L459.5 387.9L459.9 387.7L460.3 387.8L460.7 387.5L461.1 386.9L461.5 387.0L461.9 386.7L462.3 387.1L462.7 386.9L463.1 387.4L463.5 387.4L463.9 387.6L464.3 387.4"/><use href="#c-orange" y="0.25"/><use href="#c-orange" y="-0.25"/></g>
<path d="M48.4 388.2V381.1" stroke="#ff8236" style="stroke-width:3.0;stroke-linecap:round"/>
<g stroke="#ff5545"><path id="c-salmon" d="M20.3 -8.0L20.4 300.0L20.7 323.9L21.1 333.9L21.2 335.0L21.5 338.3L21.9 340.0L22.3 341.5L22.4 342.2L22.7 343.2L23.1 344.4L23.5 345.5L23.9 346.3L24.3 346.6L24.4 346.3L24.7 346.6L25.1 346.9L25.5 346.8L25.9 347.3L26.3 347.5L26.7 347.3L27.1 347.8L27.5 348.3L27.9 348.3L28.3 348.1L28.7 348.4L29.1 348.2L29.5 348.0L29.9 348.4L30.3 348.3L30.7 348.3L31.1 348.2L31.5 348.3L31.9 348.2L32.3 348.6L32.7 348.8L33.1 348.7L33.5 349.0L33.9 348.5L34.3 348.9L34.7 349.4L35.1 349.5L35.5 349.1L35.9 348.9L36.0 348.5L36.3 348.6L36.7 348.6L37.1 348.1L37.5 348.5L37.9 348.5L38.3 348.5L38.7 348.2L39.1 348.6L39.5 348.2L39.9 348.8L40.3 348.5L40.7 348.2L41.1 348.7L41.5 348.6L41.9 348.2L42.3 348.9L42.7 348.3L43.1 348.7L43.5 348.9L43.9 348.2L44.3 348.9L44.7 348.6L45.1 348.6L45.5 348.3L45.9 348.5L46.3 348.3L46.7 348.4L47.1 348.5L47.5 348.3L47.9 348.9L48.3 348.3L48.7 348.4L49.1 348.6L49.5 348.7L49.9 348.9L50.3 349.1L50.7 349.0L51.1 349.1L51.5 349.3L51.9 349.3L52.3 349.1L52.7 348.6L53.1 348.0L53.5 348.8L53.9 348.5L54.3 348.4L54.7 348.5L55.1 348.4L55.5 348.4L55.9 348.7L56.3 348.8L56.7 348.8L57.1 348.7L57.5 348.9L57.9 349.1L58.3 348.8L58.7 348.9L59.1 348.5L59.5 349.0L59.9 349.1L60.3 348.8L60.7 348.6L61.1 348.9L61.5 348.5L61.9 348.7L62.3 348.6L62.7 348.9L63.1 348.8L63.5 348.6L63.9 349.0L64.3 348.9L64.7 349.1L65.1 348.7L65.5 348.6L65.9 348.7L66.3 348.5L66.7 348.3L67.1 348.4L67.5 348.3L67.9 348.5L68.3 348.6L68.7 348.6L69.1 348.5L69.5 348.4L69.9 348.8L70.3 348.3L70.7 348.3L71.1 348.3L71.5 348.5L71.9 348.8L72.3 348.6L72.7 348.6L73.1 349.2L73.5 348.9L73.9 349.3L74.3 349.2L74.7 349.4L75.1 349.3L75.5 348.9L75.9 348.6L76.3 348.5L76.7 348.7L77.1 349.0L77.5 348.7L77.9 349.2L78.3 349.1L78.7 349.1L79.1 348.7L79.5 348.7L79.9 348.5L80.3 348.7L80.7 348.5L81.1 349.1L81.5 349.6L81.9 349.4L82.3 349.4L82.7 349.0L83.1 349.2L83.5 348.5L83.9 348.6L84.3 348.4L84.7 348.2L85.1 348.7L85.5 348.5L85.9 348.7L86.3 348.8L86.7 348.8L87.1 348.9L87.5 349.1L87.9 348.9L88.3 349.0L88.7 348.7L89.1 348.4L89.5 348.5L89.9 348.5L90.3 348.5L90.7 348.6L91.1 347.9L91.5 348.0L91.9 347.3L92.3 347.2L92.7 346.9L93.1 346.2L93.5 345.9L93.9 346.0L94.3 345.6L94.7 345.0L95.1 344.1L95.5 343.6L95.9 341.4L96.3 339.0L96.7 336.6L97.1 332.9L97.5 328.8L97.9 325.2L98.3 321.6L98.7 319.1L99.1 317.6L99.5 317.3L99.9 319.1L100.3 321.5L100.7 324.6L101.1 328.5L101.5 332.8L101.9 336.1L102.3 339.3L102.7 341.9L103.1 343.7L103.5 344.7L103.9 346.0L104.3 346.7L104.7 347.2L105.1 347.8L105.5 347.9L105.9 348.3L106.3 348.7L106.7 348.5L107.1 349.0L107.5 349.0L107.9 348.9L108.3 349.2L108.7 349.1L109.1 348.8L109.5 349.2L109.9 349.1L110.3 349.2L110.7 349.2L111.1 349.4L111.5 349.1L111.9 348.7L112.3 348.8L112.7 348.9L113.1 348.7L113.5 348.8L113.9 348.8L114.3 348.7L114.7 348.7L115.1 348.8L115.5 348.9L115.9 348.9L116.3 349.0L116.7 349.1L117.1 349.2L117.5 348.9L117.9 349.1L118.3 349.0L118.7 348.9L119.1 348.8L119.5 348.8L119.9 348.9L120.3 348.7L120.7 349.1L121.1 349.0L121.5 349.1L121.9 349.3L122.3 349.4L122.7 349.1L123.1 349.2L123.5 348.7L123.9 348.5L124.3 348.4L124.7 349.0L125.1 348.2L125.5 348.7L125.9 348.8L126.3 348.5L126.7 349.1L127.1 349.3L127.5 349.2L127.9 349.6L128.3 349.2L128.7 348.8L129.1 348.9L129.5 348.5L129.9 348.3L130.3 348.3L130.7 349.2L131.1 348.8L131.5 349.0L131.9 349.0L132.3 349.2L132.7 349.1L133.1 348.9L133.5 348.6L133.9 348.4L134.3 348.5L134.7 348.7L135.1 349.1L135.5 349.0L135.9 349.2L136.3 348.9L136.7 348.8L137.1 348.5L137.5 348.8L137.9 348.3L138.3 348.6L138.7 349.0L139.1 348.8L139.5 349.0L139.9 348.8L140.0 348.6L140.3 348.7L140.7 348.6L141.1 349.0L141.5 349.3L141.9 348.9L142.3 349.0L142.7 349.1L143.1 349.0L143.5 348.6L143.9 348.8L144.3 348.7L144.7 348.7L145.1 348.3L145.5 348.5L145.9 348.2L146.3 348.7L146.7 348.3L147.1 348.5L147.5 348.6L147.9 348.6L148.3 348.6L148.7 348.6L149.1 349.3L149.5 349.0L149.9 349.0L150.3 349.4L150.7 349.0L151.1 349.2L151.5 349.2L151.9 349.5L152.3 349.4L152.7 349.3L153.1 349.1L153.5 349.2L153.9 349.3L154.3 348.6L154.7 349.0L155.1 349.0L155.5 349.2L155.9 348.9L156.3 349.5L156.7 349.2L157.1 349.2L157.5 349.0L157.9 348.6L158.3 348.8L158.7 348.5L159.1 348.7L159.5 348.9L159.9 349.1L160.3 349.1L160.7 349.1L161.1 349.6L161.5 349.3L161.9 349.0L162.3 349.2L162.7 349.2L163.1 349.3L163.5 349.2L163.9 349.1L164.3 349.6L164.7 349.2L165.1 349.0L165.5 349.0L165.9 349.0L166.3 349.4L166.7 349.2L167.1 349.3L167.5 348.5L167.9 349.2L168.3 349.4L168.7 349.6L169.1 349.1L169.5 348.6L169.9 349.1L170.0 348.8L170.3 348.6L170.7 349.0L171.1 349.4L171.5 349.6L171.9 349.6L172.3 349.4L172.7 350.2L173.1 349.4L173.5 349.6L173.9 349.2L174.3 349.8L174.7 349.6L175.1 349.7L175.5 349.5L175.9 349.5L176.3 349.4L176.7 348.7L177.1 349.1L177.5 348.9L177.9 348.5L178.3 348.6L178.7 348.7L179.1 349.0L179.5 348.9L179.9 348.9L180.0 348.8L180.3 348.7L180.7 348.9L181.1 348.9L181.5 348.7L181.9 348.5L182.3 348.4L182.7 348.1L183.1 347.8L183.5 347.7L183.9 347.4L184.3 347.1L184.7 346.8L185.1 346.0L185.5 346.2L185.6 345.5L185.9 345.7L186.3 345.3L186.7 345.2L187.1 344.6L187.5 343.9L187.9 343.6L188.3 342.7L188.7 341.8L189.0 341.1L189.1 341.0L189.5 340.3L189.9 339.5L190.3 338.4L190.7 337.9L191.1 337.1L191.5 336.5L191.9 335.2L192.3 334.0L192.4 333.9L192.7 332.8L193.1 331.7L193.5 330.6L193.9 329.1L194.3 328.4L194.7 327.1L195.0 326.0L195.1 325.4L195.2 325.3L195.4 324.8L195.5 324.0L195.6 323.5L195.8 323.2L195.9 322.5L196.0 322.1L196.2 322.1L196.3 321.8L196.4 321.7L196.6 321.2L196.7 321.2L196.8 320.9L197.0 320.6L197.1 320.5L197.2 320.6L197.4 320.2L197.5 319.9L197.6 319.6L197.8 318.3L197.9 318.6L198.0 318.6L198.2 318.4L198.3 317.9L198.4 318.3L198.6 317.8L198.7 317.5L198.8 317.5L199.0 317.1L199.1 316.9L199.2 317.0L199.4 316.5L199.5 316.0L199.6 316.0L199.8 315.9L199.9 315.6L200.0 316.0L200.2 315.3L200.3 315.8L200.4 315.5L200.6 314.8L200.7 314.9L200.8 315.0L201.0 314.4L201.1 314.1L201.2 314.3L201.4 314.6L201.5 313.9L201.6 314.3L201.8 313.8L201.9 313.6L202.0 313.3L202.2 313.0L202.3 313.2L202.4 313.1L202.6 312.5L202.7 312.9L202.8 312.1L203.0 312.0L203.1 311.6L203.2 311.5L203.4 310.7L203.5 310.4L203.6 309.7L203.8 308.0L203.9 306.3L204.0 305.0L204.2 301.0L204.3 300.0L204.4 298.6L204.6 295.9L204.7 294.3L204.8 293.0L205.0 289.6L205.1 288.0L205.2 286.9L205.4 282.8L205.5 281.5L205.6 279.1L205.7 277.3L205.8 275.5L205.9 274.0L206.0 272.4L206.2 269.5L206.3 268.2L206.4 266.9L206.6 263.7L206.7 262.0L206.8 259.9L207.0 255.6L207.1 252.7L207.2 250.4L207.4 243.8L207.5 239.6L207.6 235.4L207.8 225.6L207.9 219.7L208.0 213.9L208.2 200.1L208.3 191.6L208.4 181.9L208.6 156.1L208.7 140.3L208.8 116.9L209.0 60.1L209.1 37.4L209.2 18.2L209.4 -8.0L209.5 -8.0L209.6 -8.0L209.8 -8.0L209.9 -8.0L210.0 -8.0L210.2 -8.0L210.3 -8.0L210.4 -8.0L210.6 -8.0L210.7 -8.0L210.8 -8.0L211.0 -8.0L211.1 -8.0L211.2 -8.0L211.4 -8.0L211.5 -8.0L211.6 -8.0L211.8 -8.0L211.9 -8.0L212.0 -8.0L212.2 -8.0L212.3 -8.0L212.4 -8.0L212.6 -8.0L212.7 -8.0L212.8 -8.0L213.0 -8.0L213.1 -8.0L213.2 -8.0L213.4 -8.0L213.5 -8.0L213.6 -8.0L213.8 -8.0L213.9 -8.0L214.0 -8.0L214.2 -8.0L214.3 -8.0L214.4 -8.0L214.6 -8.0L214.7 -8.0L214.8 -8.0L215.0 -8.0L215.1 -8.0L215.2 -8.0L215.4 -8.0L215.5 -8.0L215.6 -8.0L215.8 -8.0L215.9 -8.0L216.0 -8.0L216.2 -8.0L216.3 -8.0L216.4 -8.0L216.6 -8.0L216.7 -8.0L216.8 -8.0L217.0 -8.0L217.1 -8.0L217.2 -8.0L217.4 -8.0L217.5 -8.0L217.6 -8.0L217.8 -8.0L217.9 -8.0L218.0 -8.0L218.2 6.2L218.3 18.3L218.4 29.6L218.6 53.8L218.7 66.3L218.8 78.5L219.0 100.1L219.1 109.5L219.2 118.8L219.4 136.3L219.5 144.4L219.6 152.2L219.8 167.6L219.9 174.9L220.0 181.1L220.2 194.0L220.3 199.9L220.4 204.9L220.6 214.0L220.7 218.8L220.8 222.7L221.0 229.9L221.1 233.9L221.2 237.5L221.4 245.0L221.5 250.2L221.6 254.4L221.8 265.5L221.9 271.0L222.0 276.8L222.2 286.1L222.3 290.1L222.4 293.6L222.6 299.3L222.7 301.8L222.8 304.5L223.0 307.8L223.1 309.7L223.2 310.9L223.4 313.6L223.5 314.7L223.6 315.8L223.8 317.9L223.9 318.8L224.0 319.9L224.2 322.1L224.3 323.0L224.4 323.7L224.6 325.6L224.7 326.4L224.8 327.3L225.0 328.8L225.1 329.4L225.2 329.8L225.3 330.6L225.4 330.9L225.5 331.2L225.6 332.3L225.8 333.0L225.9 333.6L226.0 334.0L226.2 335.3L226.3 335.4L226.4 336.2L226.6 336.7L226.7 336.9L226.8 337.1L227.0 338.1L227.1 338.3L227.2 338.6L227.4 339.3L227.5 339.2L227.6 339.5L227.8 339.8L227.9 340.1L228.0 340.2L228.2 340.4L228.3 341.2L228.4 340.6L228.6 341.4L228.7 341.6L228.8 341.7L229.0 341.6L229.1 341.9L229.2 341.9L229.4 342.1L229.5 342.6L229.6 342.8L229.8 343.0L229.9 343.3L230.0 342.9L230.2 343.3L230.3 343.1L230.4 343.3L230.5 343.2L230.6 343.3L230.7 342.9L230.8 342.8L231.0 342.6L231.1 342.6L231.2 342.6L231.4 342.4L231.5 342.0L231.6 342.1L231.8 341.6L231.9 341.4L232.0 341.6L232.2 341.5L232.3 341.3L232.4 341.2L232.6 341.5L232.7 341.1L232.8 340.8L233.0 341.4L233.1 340.8L233.2 340.6L233.4 340.6L233.5 340.2L233.6 340.6L233.8 339.7L233.9 339.6L234.0 339.8L234.2 339.5L234.3 339.9L234.4 339.2L234.6 339.1L234.7 339.1L234.8 339.0L235.0 338.8L235.1 338.5L235.2 338.7L235.4 337.9L235.5 337.9L235.6 337.9L235.8 337.3L235.9 337.0L236.0 336.8L236.2 336.4L236.3 336.1L236.4 336.1L236.6 335.6L236.7 335.8L236.8 335.3L237.0 335.8L237.1 335.6L237.2 335.3L237.4 334.6L237.5 334.3L237.6 334.5L237.8 333.9L237.9 333.7L238.0 333.3L238.2 333.3L238.3 332.8L238.4 333.0L238.5 332.5L238.6 332.8L238.7 333.1L238.8 332.9L239.0 332.8L239.1 333.0L239.2 332.8L239.4 332.8L239.5 331.9L239.6 332.3L239.8 332.0L239.9 331.3L240.3 331.1L240.7 331.6L241.1 331.5L241.5 332.0L241.9 332.7L242.3 332.9L242.5 333.2L242.7 333.1L243.1 333.8L243.5 334.5L243.9 335.0L244.3 335.3L244.7 336.6L245.1 337.2L245.5 337.7L245.9 338.6L246.0 338.0L246.3 339.1L246.7 339.2L247.1 340.3L247.5 340.6L247.9 341.1L248.3 342.0L248.7 342.4L249.1 342.8L249.5 343.0L249.9 342.7L250.0 342.9L250.3 343.1L250.7 343.1L251.1 343.3L251.5 343.6L251.9 344.3L252.3 344.6L252.7 344.5L253.1 344.6L253.5 345.4L253.9 345.1L254.0 345.5L254.3 345.4L254.7 345.2L255.1 345.7L255.5 345.7L255.9 346.1L256.3 346.5L256.7 346.1L257.1 346.4L257.2 346.5L257.5 346.1L257.9 346.0L258.3 346.4L258.7 345.9L259.1 346.0L259.5 346.0L259.9 346.1L260.3 346.0L260.7 346.2L261.1 346.0L261.5 345.5L261.9 345.1L262.0 345.4L262.3 345.0L262.7 345.1L263.1 345.3L263.5 345.5L263.9 344.9L264.3 344.4L264.7 344.6L265.1 343.6L265.5 343.5L265.9 343.4L266.0 343.0L266.3 342.2L266.7 341.6L267.1 341.6L267.5 340.8L267.9 340.0L268.3 339.5L268.7 338.7L269.1 337.9L269.5 338.0L269.9 337.3L270.0 337.2L270.3 336.7L270.7 336.5L271.1 335.7L271.5 335.4L271.9 334.7L272.3 334.6L272.5 334.2L272.7 334.1L273.1 333.6L273.5 333.6L273.9 333.9L274.1 334.4L274.3 333.5L274.7 333.6L275.1 334.1L275.5 334.4L275.9 334.4L276.0 334.5L276.3 334.3L276.7 335.0L277.1 335.9L277.5 336.8L277.9 337.3L278.3 338.1L278.7 339.1L279.0 339.9L279.1 339.8L279.5 340.1L279.9 340.8L280.3 341.4L280.7 341.6L281.1 342.2L281.5 343.2L281.9 343.9L282.3 344.6L282.5 344.5L282.7 344.6L283.1 345.1L283.5 345.5L283.9 346.0L284.3 346.6L284.7 347.0L285.1 347.7L285.5 347.6L285.9 348.1L286.3 348.2L286.7 348.8L287.1 348.7L287.5 348.6L287.9 348.8L288.3 348.6L288.7 348.4L289.1 348.7L289.5 348.5L289.9 348.7L290.3 348.7L290.7 348.8L291.1 349.0L291.5 348.9L291.9 349.4L292.0 349.3L292.3 349.3L292.7 349.0L293.1 348.6L293.5 348.5L293.9 349.0L294.3 349.4L294.7 349.3L295.1 349.5L295.5 349.7L295.9 349.1L296.3 349.0L296.7 348.7L297.1 349.2L297.5 349.1L297.9 349.1L298.3 349.0L298.7 349.4L299.1 349.7L299.5 349.4L299.9 349.4L300.3 349.6L300.7 349.2L301.1 349.4L301.5 349.4L301.9 348.9L302.3 348.9L302.7 349.1L303.1 349.1L303.5 349.1L303.9 349.3L304.3 349.3L304.7 348.9L305.1 348.8L305.5 349.0L305.9 349.2L306.3 349.2L306.7 348.8L307.1 349.2L307.5 349.1L307.9 349.0L308.3 349.2L308.7 349.3L309.1 349.6L309.5 349.0L309.9 349.2L310.3 349.0L310.7 348.9L311.1 349.2L311.5 349.2L311.9 349.0L312.3 349.2L312.7 349.4L313.1 349.1L313.5 349.5L313.9 349.4L314.3 349.4L314.7 349.4L315.1 349.7L315.5 349.4L315.9 349.3L316.3 349.6L316.7 349.1L317.1 349.0L317.5 348.7L317.9 349.2L318.3 349.2L318.7 349.4L319.1 349.4L319.5 349.2L319.9 349.0L320.3 348.9L320.7 349.1L321.1 349.1L321.5 349.5L321.9 349.0L322.3 349.0L322.7 348.7L323.1 349.0L323.5 348.4L323.9 348.8L324.3 349.1L324.7 349.0L325.1 349.4L325.5 348.9L325.9 349.3L326.3 349.1L326.7 349.4L327.1 349.4L327.5 349.4L327.9 349.8L328.3 349.8L328.7 349.6L329.1 349.6L329.5 349.4L329.9 349.6L330.3 350.1L330.7 349.4L331.1 349.6L331.5 349.3L331.9 349.5L332.3 349.4L332.7 349.2L333.1 348.8L333.5 349.1L333.9 349.4L334.3 349.1L334.7 349.3L335.1 349.1L335.5 348.8L335.9 349.2L336.3 349.2L336.7 349.0L337.1 349.0L337.5 349.2L337.9 349.1L338.3 349.3L338.7 349.3L339.1 349.0L339.5 349.7L339.9 349.8L340.3 349.8L340.7 350.0L341.1 349.8L341.5 349.9L341.9 350.0L342.3 349.8L342.7 349.5L343.1 349.6L343.5 349.9L343.9 349.6L344.3 349.5L344.7 349.6L345.1 349.8L345.5 349.7L345.9 349.9L346.3 349.6L346.7 349.8L347.1 349.8L347.5 349.8L347.9 349.2L348.3 349.5L348.7 349.1L349.1 349.6L349.5 349.6L349.9 349.7L350.3 349.6L350.7 349.5L351.1 349.9L351.5 349.7L351.9 349.8L352.3 349.4L352.7 349.4L353.1 349.6L353.5 349.9L353.9 349.6L354.3 350.1L354.7 350.3L355.1 349.5L355.5 349.8L355.9 349.7L356.3 349.9L356.7 349.7L357.1 349.8L357.5 349.9L357.9 349.9L358.3 349.7L358.7 349.7L359.1 349.7L359.5 349.7L359.9 349.8L360.3 349.6L360.7 349.6L361.1 349.2L361.5 349.5L361.9 349.6L362.3 349.3L362.7 349.0L363.1 349.7L363.5 349.4L363.9 348.9L364.3 349.4L364.7 349.5L365.1 349.3L365.5 349.4L365.9 349.3L366.3 349.2L366.7 348.8L367.1 349.0L367.5 349.3L367.9 349.3L368.3 348.9L368.7 349.0L369.1 349.3L369.5 348.9L369.9 348.9L370.3 349.3L370.7 349.4L371.1 349.2L371.5 348.8L371.9 349.3L372.3 349.0L372.7 349.4L373.1 349.3L373.5 349.4L373.9 349.5L374.3 349.4L374.7 349.8L375.1 350.0L375.5 349.9L375.9 350.1L376.3 349.6L376.7 349.8L377.1 349.5L377.5 349.1L377.9 349.1L378.3 348.8L378.7 348.7L379.1 348.8L379.5 349.0L379.9 348.9L380.3 349.2L380.7 349.1L381.1 349.5L381.5 349.8L381.9 349.8L382.3 349.7L382.7 349.5L383.1 349.3L383.5 349.3L383.9 348.7L384.3 348.3L384.7 348.3L385.1 347.4L385.5 347.2L385.9 345.5L386.3 344.5L386.7 342.4L387.1 340.4L387.5 337.7L387.9 335.2L388.3 332.4L388.7 329.8L389.1 327.8L389.5 326.4L389.9 325.1L390.3 325.3L390.7 325.9L391.1 327.4L391.5 329.9L391.9 331.5L392.3 334.4L392.7 336.6L393.1 339.0L393.5 340.4L393.9 342.1L394.3 341.5L394.7 341.2L395.1 340.0L395.5 337.9L395.9 335.9L396.3 333.6L396.7 330.6L397.1 328.0L397.5 325.9L397.9 323.8L398.3 323.1L398.7 323.3L399.1 324.2L399.5 325.5L399.9 327.9L400.0 328.5L400.3 330.5L400.7 333.5L401.1 336.2L401.5 338.9L401.9 341.0L402.3 343.2L402.7 345.3L403.1 346.3L403.5 347.8L403.9 348.3L404.3 348.8L404.7 349.4L405.1 349.3L405.5 349.5L405.9 349.7L406.3 350.0L406.7 350.6L407.1 349.6L407.5 350.0L407.9 349.9L408.3 350.2L408.7 350.0L409.1 349.6L409.5 350.4L409.9 349.8L410.3 349.9L410.7 349.6L411.1 349.6L411.5 349.8L411.9 350.1L412.3 350.0L412.7 349.7L413.1 349.8L413.5 349.4L413.9 349.4L414.3 349.3L414.7 349.4L415.1 349.2L415.5 349.3L415.9 349.3L416.3 349.3L416.7 349.1L417.1 349.7L417.5 349.3L417.9 349.6L418.3 349.5L418.7 349.7L419.1 348.9L419.5 349.7L419.9 349.1L420.3 348.9L420.7 349.2L421.1 349.7L421.5 349.4L421.9 349.1L422.3 349.4L422.7 349.9L423.1 349.4L423.5 349.6L423.9 349.5L424.3 350.0L424.7 349.5L425.1 349.9L425.5 349.5L425.9 349.5L426.3 349.8L426.7 349.7L427.1 349.1L427.5 349.6L427.9 349.6L428.3 349.3L428.7 349.4L429.1 349.3L429.5 349.0L429.9 348.8L430.3 348.8L430.7 348.9L431.1 348.9L431.5 349.3L431.9 349.1L432.3 349.5L432.7 349.5L433.1 349.3L433.5 349.7L433.9 349.9L434.3 349.7L434.7 349.1L435.1 349.6L435.5 349.3L435.9 349.2L436.3 349.2L436.7 349.4L437.1 349.9L437.5 349.8L437.9 349.6L438.3 349.4L438.7 349.3L439.1 349.4L439.5 349.6L439.9 349.0L440.3 349.3L440.7 349.2L441.1 349.1L441.5 349.4L441.9 349.5L442.3 349.2L442.7 349.4L443.1 349.9L443.5 349.7L443.9 349.6L444.3 349.2L444.7 349.1L445.1 349.3L445.5 349.2L445.9 349.2L446.3 349.4L446.7 349.2L447.1 348.2L447.5 348.3L447.9 348.5L448.3 348.6L448.7 348.9L449.1 349.0L449.5 349.2L449.9 349.1L450.3 348.5L450.7 348.3L451.1 348.6L451.5 348.3L451.9 348.4L452.3 348.5L452.7 348.9L453.1 348.5L453.5 349.1L453.9 348.8L454.3 349.3L454.7 349.5L455.1 349.0L455.5 349.3L455.9 349.1L456.3 349.0L456.7 348.9L457.1 348.6L457.5 348.5L457.9 348.8L458.3 348.7L458.7 348.4L459.1 348.2L459.5 348.9L459.9 348.8L460.3 348.7L460.7 348.6L461.1 348.8L461.5 349.0L461.9 348.7L462.3 349.2L462.7 348.8L463.1 348.8L463.5 348.4L463.9 348.3L464.3 348.3"/><use href="#c-salmon" y="0.25"/><use href="#c-salmon" y="-0.25"/></g>
<path d="M48.4 348.8V345.1" stroke="#ff5545" style="stroke-width:3.0;stroke-linecap:round"/>
<g stroke="#ff0008"><path id="c-red" d="M20.3 -8.0L20.4 18.1L20.7 230.5L21.1 258.8L21.5 273.7L21.9 280.1L22.3 285.4L22.7 289.5L23.1 292.5L23.5 295.5L23.9 298.6L24.1 299.8L24.3 301.5L24.7 304.0L25.1 305.3L25.4 306.9L25.5 307.6L25.9 308.7L26.3 308.3L26.7 308.8L27.1 309.8L27.4 309.7L27.5 309.4L27.9 310.0L28.3 309.7L28.7 309.3L29.1 310.2L29.5 310.2L29.9 310.2L30.3 310.1L30.7 309.7L31.0 309.5L31.1 309.3L31.5 309.1L31.9 309.6L32.3 310.3L32.7 310.4L33.1 311.2L33.5 310.7L33.9 310.3L34.3 311.2L34.7 311.2L35.1 310.2L35.5 309.8L35.9 310.2L36.3 310.3L36.7 309.7L37.1 310.0L37.5 309.9L37.9 309.8L38.3 309.8L38.7 310.3L39.1 310.2L39.5 310.1L39.9 309.3L40.0 310.6L40.3 309.4L40.7 309.4L41.1 308.9L41.5 309.5L41.9 309.0L42.3 309.7L42.7 309.6L43.1 310.1L43.5 309.5L43.9 309.8L44.3 310.2L44.7 311.3L45.1 310.3L45.5 310.9L45.9 310.6L46.3 310.7L46.7 310.6L47.1 310.2L47.5 310.0L47.9 309.8L48.3 309.4L48.7 309.6L49.1 309.2L49.5 309.6L49.9 309.4L50.3 309.6L50.7 310.1L51.1 310.2L51.5 310.6L51.9 311.0L52.3 310.0L52.7 310.8L53.1 310.2L53.5 309.8L53.9 309.1L54.3 309.6L54.7 309.8L55.1 309.9L55.5 309.7L55.9 310.1L56.3 310.3L56.7 310.6L57.1 310.3L57.5 309.9L57.9 309.8L58.3 309.9L58.7 310.0L59.1 309.9L59.5 310.3L59.9 309.8L60.3 309.6L60.7 309.9L61.1 309.5L61.5 309.4L61.9 308.7L62.3 309.7L62.7 309.5L63.1 309.7L63.5 310.2L63.9 310.3L64.3 310.1L64.7 311.0L65.1 310.1L65.5 310.4L65.9 310.7L66.3 309.9L66.7 310.2L67.1 310.0L67.5 310.8L67.9 310.5L68.3 310.2L68.7 311.0L69.1 310.7L69.5 310.0L69.9 310.5L70.3 310.1L70.7 310.9L71.1 310.7L71.5 309.9L71.9 310.0L72.3 309.8L72.7 310.1L73.1 310.2L73.5 310.4L73.9 310.2L74.3 309.6L74.7 309.7L75.1 310.5L75.5 310.5L75.9 310.1L76.3 310.1L76.7 310.1L77.1 310.1L77.5 309.5L77.9 310.4L78.3 309.8L78.7 309.9L79.1 309.0L79.5 309.8L79.9 310.3L80.3 309.3L80.7 311.0L81.1 310.9L81.5 310.7L81.9 310.4L82.3 311.1L82.7 310.6L83.1 310.5L83.5 310.0L83.9 309.8L84.3 310.4L84.7 309.7L85.1 310.3L85.5 309.5L85.9 309.8L86.3 309.6L86.7 310.3L87.1 309.0L87.5 308.9L87.9 309.4L88.3 309.4L88.7 310.3L89.1 310.6L89.5 310.4L89.9 310.4L90.3 309.4L90.7 309.6L91.1 309.9L91.5 310.3L91.9 310.4L92.3 310.9L92.7 311.0L93.1 311.4L93.5 310.8L93.9 310.1L94.3 309.8L94.7 309.7L95.1 309.3L95.5 309.3L95.9 308.7L96.3 309.3L96.7 309.2L97.1 308.9L97.5 308.8L97.9 308.7L98.3 309.4L98.7 308.9L99.1 308.6L99.5 308.8L99.9 309.5L100.3 309.6L100.7 309.6L101.1 309.8L101.5 309.8L101.9 309.4L102.3 309.8L102.7 309.3L103.1 309.6L103.5 309.0L103.9 309.3L104.3 309.2L104.7 308.8L105.1 310.0L105.5 310.5L105.9 310.2L106.3 311.0L106.7 311.2L107.1 310.8L107.5 310.9L107.9 310.4L108.3 310.5L108.7 310.2L109.1 310.2L109.5 310.5L109.9 310.7L110.3 310.5L110.7 310.2L111.1 309.9L111.5 310.0L111.9 309.9L112.3 310.3L112.7 310.4L113.1 310.4L113.5 310.4L113.9 310.4L114.3 310.6L114.7 310.3L115.1 309.5L115.5 309.8L115.9 309.5L116.3 309.5L116.7 309.2L117.1 308.8L117.5 308.5L117.9 308.2L118.3 309.4L118.7 310.2L119.1 309.8L119.5 310.5L119.9 310.3L120.3 310.4L120.7 309.9L121.1 310.1L121.5 310.2L121.9 309.5L122.3 310.4L122.7 310.4L123.1 309.7L123.5 311.0L123.9 311.0L124.3 311.2L124.7 311.3L125.1 310.8L125.5 310.2L125.9 309.9L126.3 309.4L126.7 310.0L127.1 309.7L127.5 309.0L127.9 309.3L128.3 309.8L128.7 310.0L129.1 309.7L129.5 309.6L129.9 310.6L130.3 310.2L130.7 309.3L131.1 309.1L131.5 309.2L131.9 309.5L132.3 309.7L132.7 309.7L133.1 309.7L133.5 310.7L133.9 311.1L134.3 311.0L134.7 310.8L135.1 311.0L135.5 310.6L135.9 310.1L136.3 310.5L136.7 309.9L137.1 310.6L137.5 310.4L137.9 309.9L138.3 310.3L138.7 310.7L139.1 309.5L139.5 310.1L139.9 310.5L140.0 309.2L140.3 309.5L140.7 309.0L141.1 309.4L141.5 308.6L141.9 308.9L142.3 309.3L142.7 309.7L143.1 309.9L143.5 309.9L143.9 310.1L144.3 309.9L144.7 309.9L145.1 309.5L145.5 309.9L145.9 311.2L146.3 310.9L146.7 310.4L147.1 310.3L147.5 310.3L147.9 309.6L148.3 310.1L148.7 309.1L149.1 309.1L149.5 310.0L149.9 308.9L150.3 310.0L150.7 309.5L151.1 310.0L151.5 310.2L151.9 310.0L152.3 310.2L152.7 309.8L153.1 310.0L153.5 309.5L153.9 309.6L154.3 309.1L154.7 309.7L155.1 309.0L155.5 309.9L155.9 309.7L156.3 310.0L156.7 310.7L157.1 310.5L157.5 309.6L157.9 310.0L158.3 308.2L158.7 308.8L159.1 308.4L159.5 308.1L159.9 308.9L160.3 309.1L160.7 310.2L161.1 309.3L161.5 310.0L161.9 309.6L162.3 308.9L162.7 309.0L163.1 309.9L163.5 309.6L163.9 310.0L164.3 310.0L164.7 309.7L165.1 310.1L165.5 309.8L165.9 309.5L166.3 309.6L166.7 310.2L167.1 310.1L167.5 309.8L167.9 310.1L168.3 310.4L168.7 310.8L169.1 310.4L169.5 310.0L169.9 309.8L170.0 310.1L170.3 310.5L170.7 309.3L171.1 308.8L171.5 310.0L171.9 309.9L172.3 310.1L172.7 310.5L173.1 309.9L173.5 309.2L173.9 308.8L174.3 309.3L174.7 308.9L175.1 309.4L175.5 308.7L175.9 308.9L176.3 308.4L176.7 308.7L177.1 308.5L177.5 308.7L177.9 308.8L178.3 307.9L178.7 307.4L179.1 308.0L179.5 307.2L179.9 307.3L180.3 307.4L180.7 307.8L181.1 307.8L181.3 307.7L181.5 307.5L181.9 306.6L182.3 306.3L182.7 306.1L183.1 305.9L183.5 305.6L183.9 305.5L184.3 305.0L184.7 304.6L185.1 304.0L185.5 304.7L185.9 304.5L186.3 303.9L186.7 304.3L187.1 304.0L187.5 303.7L187.9 302.8L188.3 302.9L188.7 302.9L188.8 303.6L189.1 302.4L189.5 302.3L189.9 301.8L190.3 301.9L190.7 302.0L191.1 300.8L191.5 300.1L191.9 300.8L192.0 300.2L192.3 299.5L192.7 299.7L193.1 299.5L193.5 298.3L193.9 298.7L194.3 298.9L194.4 298.1L194.7 297.7L195.0 297.6L195.1 296.9L195.2 296.4L195.4 296.3L195.5 295.9L195.6 296.4L195.8 295.3L195.9 296.1L196.0 295.0L196.2 295.2L196.3 294.6L196.4 294.7L196.6 294.7L196.7 294.4L196.8 294.1L197.0 293.1L197.1 293.0L197.2 292.8L197.4 292.5L197.5 291.8L197.6 291.9L197.8 290.7L197.9 290.4L198.0 289.6L198.2 288.5L198.3 287.3L198.4 286.8L198.6 285.1L198.7 284.8L198.8 284.2L198.9 284.1L199.0 282.9L199.1 283.9L199.2 282.0L199.4 280.6L199.5 279.4L199.6 276.9L199.8 275.2L199.9 274.3L200.0 271.5L200.2 270.1L200.3 268.4L200.4 267.6L200.6 265.2L200.7 263.2L200.8 262.4L201.0 258.9L201.1 257.3L201.2 256.2L201.4 254.3L201.5 251.8L201.6 250.4L201.7 248.5L201.8 246.4L201.9 244.9L202.0 243.4L202.2 238.4L202.3 235.8L202.4 230.8L202.6 216.6L202.7 206.9L202.8 200.5L203.0 188.4L203.1 182.4L203.2 176.2L203.4 165.3L203.5 160.4L203.6 155.3L203.8 145.8L203.9 141.7L204.0 138.7L204.2 133.7L204.3 131.3L204.4 129.8L204.6 126.9L204.7 126.5L204.8 124.2L205.0 119.7L205.1 117.3L205.2 114.5L205.3 110.3L205.4 103.8L205.5 96.0L205.6 85.4L205.8 59.5L205.9 38.8L206.0 17.5L206.2 -8.0L206.3 -8.0L206.4 -8.0L206.6 -8.0L206.7 -8.0L206.8 -8.0L207.0 -8.0L207.1 -8.0L207.2 -8.0L207.4 -8.0L207.5 -8.0L207.6 -8.0L207.8 -8.0L207.9 -8.0L208.0 -8.0L208.2 -8.0L208.3 -8.0L208.4 -8.0L208.6 -8.0L208.7 -8.0L208.8 -8.0L209.0 -8.0L209.1 -8.0L209.2 -8.0L209.4 -8.0L209.5 -8.0L209.6 -8.0L209.8 -8.0L209.9 -8.0L210.0 -8.0L210.2 -8.0L210.3 -8.0L210.4 -8.0L210.6 -8.0L210.7 -8.0L210.8 -8.0L211.0 -8.0L211.1 -8.0L211.2 -8.0L211.4 -8.0L211.5 -8.0L211.6 -8.0L211.8 -8.0L211.9 -8.0L212.0 -8.0L212.2 -8.0L212.3 -8.0L212.4 -8.0L212.6 -8.0L212.7 -8.0L212.8 -8.0L213.0 -8.0L213.1 -8.0L213.2 -8.0L213.4 -8.0L213.5 -8.0L213.6 -8.0L213.8 -8.0L213.9 1.3L214.0 19.0L214.2 34.4L214.3 39.7L214.4 45.6L214.6 60.3L214.7 71.3L214.8 86.2L215.0 109.8L215.1 114.1L215.2 118.6L215.4 124.0L215.5 126.3L215.6 129.0L215.8 134.4L215.9 136.3L216.0 139.7L216.2 147.0L216.3 150.5L216.4 155.3L216.6 163.6L216.7 168.1L216.8 171.8L217.0 180.5L217.1 184.3L217.2 189.3L217.4 196.8L217.5 200.5L217.6 204.0L217.8 209.6L217.9 212.6L218.0 215.9L218.2 221.8L218.3 223.6L218.4 226.6L218.6 231.2L218.7 233.4L218.8 236.0L219.0 240.2L219.1 242.5L219.2 245.6L219.4 250.2L219.5 252.4L219.6 254.7L219.8 259.5L219.9 261.5L220.0 264.3L220.2 268.5L220.3 270.8L220.4 272.4L220.6 275.5L220.7 276.5L220.8 278.0L221.0 280.5L221.1 283.0L221.2 283.2L221.4 285.8L221.5 287.1L221.6 287.2L221.7 288.3L221.8 289.3L221.9 289.7L222.0 290.3L222.2 291.9L222.3 293.3L222.4 293.9L222.6 295.0L222.7 295.7L222.8 295.6L223.0 297.2L223.1 297.4L223.2 297.1L223.4 298.2L223.5 298.4L223.6 298.7L223.8 299.1L223.9 299.4L224.0 299.5L224.2 300.3L224.3 300.5L224.4 300.7L224.6 301.0L224.7 301.2L224.8 302.3L225.0 301.2L225.1 302.4L225.2 302.0L225.4 302.0L225.5 301.8L225.6 301.9L225.8 301.8L225.9 301.9L226.0 302.5L226.2 302.3L226.3 303.5L226.4 303.8L226.6 302.6L226.7 303.4L226.8 304.1L227.0 304.2L227.1 304.1L227.2 304.1L227.4 304.3L227.5 304.4L227.6 304.9L227.8 304.5L227.9 305.1L228.0 304.3L228.2 304.9L228.3 304.3L228.4 305.1L228.6 305.4L228.7 304.7L228.8 304.1L229.0 304.6L229.1 304.7L229.2 304.7L229.4 305.1L229.5 305.0L229.6 303.6L229.8 304.9L229.9 304.1L230.0 304.0L230.2 304.8L230.3 304.3L230.4 304.2L230.6 304.5L230.7 305.3L230.8 305.8L231.0 305.9L231.1 305.0L231.2 304.5L231.4 305.1L231.5 304.5L231.6 305.6L231.8 305.7L231.9 306.0L232.0 306.0L232.2 306.2L232.3 305.8L232.4 305.6L232.5 305.6L232.6 305.1L232.7 305.2L232.8 305.0L233.0 304.7L233.1 304.6L233.2 304.5L233.4 305.2L233.5 304.7L233.6 304.7L233.8 305.2L233.9 305.8L234.0 305.6L234.2 305.7L234.3 305.6L234.4 305.7L234.6 305.8L234.7 305.9L234.8 305.4L235.0 305.7L235.1 305.2L235.2 306.3L235.4 306.4L235.5 306.4L235.6 306.0L235.8 306.5L235.9 306.2L236.0 306.3L236.2 305.9L236.3 306.2L236.4 306.3L236.6 306.8L236.7 306.9L236.8 305.9L237.0 305.9L237.1 305.6L237.2 305.1L237.4 304.7L237.5 305.1L237.6 304.9L237.8 305.3L237.9 305.4L238.0 305.3L238.2 305.3L238.3 305.7L238.4 305.4L238.6 306.3L238.7 305.6L238.8 306.2L239.0 306.0L239.1 305.2L239.2 304.6L239.4 305.4L239.5 305.2L239.6 305.9L239.8 306.2L239.9 306.0L240.3 306.0L240.7 306.3L241.1 306.0L241.5 305.7L241.9 306.2L242.3 306.5L242.7 306.6L243.1 306.7L243.5 306.6L243.9 306.6L244.3 306.3L244.7 306.2L245.1 307.2L245.5 306.5L245.9 306.7L246.3 306.0L246.7 306.5L247.1 306.3L247.5 307.8L247.9 306.7L248.3 306.9L248.7 307.6L249.1 307.5L249.5 306.2L249.9 306.8L250.3 307.0L250.7 306.2L251.1 306.9L251.5 306.6L251.9 306.5L252.3 306.8L252.7 307.0L253.1 306.9L253.5 308.2L253.9 307.2L254.3 306.9L254.7 307.4L255.1 307.1L255.5 307.8L255.9 307.5L256.3 307.9L256.7 307.6L257.1 307.3L257.5 306.8L257.9 306.6L258.3 307.2L258.7 306.6L259.1 307.0L259.5 307.5L259.9 308.2L260.3 308.4L260.7 308.8L261.1 307.9L261.5 308.3L261.9 308.0L262.0 308.0L262.3 308.1L262.7 307.4L263.1 308.3L263.5 308.3L263.9 307.8L264.3 308.1L264.7 308.1L265.1 306.9L265.5 306.7L265.9 306.3L266.0 305.8L266.3 305.7L266.7 305.9L267.1 306.4L267.5 306.0L267.9 305.4L268.0 306.1L268.3 305.7L268.7 305.4L269.1 305.6L269.5 305.0L269.9 304.8L270.3 305.9L270.4 305.1L270.7 306.3L271.1 305.8L271.5 306.5L271.9 306.4L272.3 306.3L272.7 305.6L273.1 306.3L273.5 306.4L273.9 306.1L274.0 306.3L274.3 306.7L274.7 306.3L275.1 306.9L275.5 306.6L275.9 307.3L276.3 307.4L276.7 308.1L277.1 307.7L277.5 307.7L277.9 308.3L278.3 307.7L278.7 308.5L279.1 307.9L279.5 308.0L279.9 308.7L280.3 308.8L280.7 309.6L281.1 308.9L281.5 309.6L281.9 309.2L282.3 309.0L282.7 308.0L283.0 308.6L283.1 308.2L283.5 307.7L283.9 307.6L284.3 307.8L284.7 308.6L285.1 308.0L285.5 307.8L285.9 307.8L286.3 307.5L286.7 307.4L287.1 307.5L287.2 307.2L287.5 307.2L287.9 306.5L288.3 306.9L288.7 306.9L289.1 307.1L289.5 307.0L289.9 306.6L290.3 306.5L290.7 306.9L291.1 306.6L291.5 306.7L291.9 307.7L292.0 308.1L292.3 308.0L292.7 308.4L293.1 308.4L293.5 309.1L293.9 310.0L294.3 310.1L294.7 309.8L295.1 309.3L295.5 308.4L295.9 308.7L296.3 308.7L296.7 309.0L297.1 309.7L297.5 309.5L297.9 310.0L298.3 309.5L298.7 310.4L299.1 310.2L299.5 310.2L299.9 309.7L300.0 309.4L300.3 309.5L300.7 308.7L301.1 309.3L301.5 309.6L301.9 309.1L302.3 309.1L302.7 309.7L303.1 309.6L303.5 309.8L303.9 309.8L304.3 309.4L304.7 309.7L305.1 309.9L305.5 309.3L305.9 309.2L306.3 308.8L306.7 309.4L307.1 309.8L307.5 308.7L307.9 309.5L308.3 309.5L308.7 309.0L309.1 309.1L309.5 309.0L309.9 309.1L310.3 309.6L310.7 309.9L311.1 309.9L311.5 310.3L311.9 310.1L312.3 309.6L312.7 310.3L313.1 310.0L313.5 309.1L313.9 309.8L314.3 309.2L314.7 308.9L315.1 309.4L315.5 307.9L315.9 308.3L316.3 309.3L316.7 309.2L317.1 309.2L317.5 310.0L317.9 309.6L318.3 308.9L318.7 309.1L319.1 309.5L319.5 309.9L319.9 308.7L320.3 309.6L320.7 309.5L321.1 309.1L321.5 309.7L321.9 309.1L322.3 309.2L322.7 309.8L323.1 309.3L323.5 309.5L323.9 309.6L324.3 309.7L324.7 310.1L325.1 309.6L325.5 310.0L325.9 310.4L326.3 309.8L326.7 309.7L327.1 310.0L327.5 310.0L327.9 309.3L328.3 309.4L328.7 310.1L329.1 310.2L329.5 309.9L329.9 310.2L330.3 309.9L330.7 309.3L331.1 309.8L331.5 309.0L331.9 308.7L332.3 309.0L332.7 309.9L333.1 309.5L333.5 309.1L333.9 309.6L334.3 309.6L334.7 309.4L335.1 309.7L335.5 309.7L335.9 309.6L336.3 309.5L336.7 309.9L337.1 308.9L337.5 309.6L337.9 309.1L338.3 309.0L338.7 308.1L339.1 309.6L339.5 308.5L339.9 308.8L340.3 309.3L340.7 308.8L341.1 309.0L341.5 308.5L341.9 309.3L342.3 309.7L342.7 309.8L343.1 309.4L343.5 309.6L343.9 309.8L344.3 309.8L344.7 310.0L345.1 311.1L345.5 310.1L345.9 310.5L346.3 309.7L346.7 309.9L347.1 309.0L347.5 309.4L347.9 309.4L348.3 309.5L348.7 309.9L349.1 309.6L349.5 309.9L349.9 309.7L350.3 310.1L350.7 309.8L351.1 309.5L351.5 309.8L351.9 309.8L352.3 309.4L352.7 310.0L353.1 309.7L353.5 309.9L353.9 309.5L354.3 309.7L354.7 310.1L355.1 309.1L355.5 309.5L355.9 309.3L356.3 309.1L356.7 309.4L357.1 309.1L357.5 309.7L357.9 309.3L358.3 309.2L358.7 310.0L359.1 309.1L359.5 308.4L359.9 309.2L360.3 308.5L360.7 307.6L361.1 308.9L361.5 309.4L361.9 309.4L362.3 310.0L362.7 309.5L363.1 309.8L363.5 309.2L363.9 309.5L364.3 309.8L364.7 309.5L365.1 309.5L365.5 309.0L365.9 309.8L366.3 309.7L366.7 310.4L367.1 309.8L367.5 310.1L367.9 309.7L368.3 310.7L368.7 309.8L369.1 310.3L369.5 311.0L369.9 309.9L370.3 309.2L370.7 309.4L371.1 309.5L371.5 309.5L371.9 308.7L372.3 309.5L372.7 308.8L373.1 310.3L373.5 309.8L373.9 309.7L374.3 310.2L374.7 310.2L375.1 309.6L375.5 310.5L375.9 309.6L376.3 308.9L376.7 309.9L377.1 310.0L377.5 310.0L377.9 309.9L378.3 309.6L378.7 310.3L379.1 310.7L379.5 310.4L379.9 310.7L380.3 309.8L380.7 310.3L381.1 309.9L381.5 308.6L381.9 308.2L382.3 308.1L382.7 308.3L383.1 308.6L383.5 308.7L383.9 309.2L384.3 309.4L384.7 309.6L385.1 309.8L385.5 309.7L385.9 309.4L386.3 309.5L386.7 309.2L387.1 309.6L387.5 309.2L387.9 310.0L388.3 309.6L388.7 309.9L389.1 309.7L389.5 309.7L389.9 309.8L390.3 309.6L390.7 309.4L391.1 309.3L391.5 309.9L391.9 310.1L392.3 310.3L392.7 310.6L393.1 310.1L393.5 309.4L393.9 310.0L394.3 309.3L394.7 309.3L395.1 309.9L395.5 309.7L395.9 309.3L396.3 309.4L396.7 309.7L397.1 309.2L397.5 309.9L397.9 309.5L398.3 310.1L398.7 308.9L399.1 309.4L399.5 308.8L399.9 309.4L400.3 308.8L400.7 309.3L401.1 308.7L401.5 308.4L401.9 308.6L402.3 308.9L402.7 309.0L403.1 309.6L403.5 309.5L403.9 308.3L404.3 309.0L404.7 308.3L405.1 308.9L405.5 309.3L405.9 308.6L406.3 308.8L406.7 309.2L407.1 309.1L407.5 309.7L407.9 309.2L408.3 309.3L408.7 309.7L409.1 309.1L409.5 309.4L409.9 309.3L410.3 309.8L410.7 310.2L411.1 310.2L411.5 309.6L411.9 309.2L412.3 309.1L412.7 308.9L413.1 309.5L413.5 309.9L413.9 308.5L414.3 308.6L414.7 309.8L415.1 308.8L415.5 309.6L415.9 309.2L416.3 310.1L416.7 310.2L417.1 310.1L417.5 310.4L417.9 310.1L418.3 310.2L418.7 310.5L419.1 310.1L419.5 309.3L419.9 309.1L420.3 309.2L420.7 309.2L421.1 309.5L421.5 309.5L421.9 310.3L422.3 310.4L422.7 310.7L423.1 310.6L423.5 310.7L423.9 309.7L424.3 310.4L424.7 309.7L425.1 309.6L425.5 309.5L425.9 309.7L426.3 309.7L426.7 309.6L427.1 309.5L427.5 309.1L427.9 309.9L428.3 309.7L428.7 309.6L429.1 310.5L429.5 309.0L429.9 309.7L430.3 310.1L430.7 310.0L431.1 310.0L431.5 309.0L431.9 309.0L432.3 309.5L432.7 309.4L433.1 310.3L433.5 309.9L433.9 310.0L434.3 310.1L434.7 309.9L435.1 310.0L435.5 309.6L435.9 309.8L436.3 309.6L436.7 310.0L437.1 309.4L437.5 309.4L437.9 310.0L438.3 309.7L438.7 309.0L439.1 309.2L439.5 309.0L439.9 310.2L440.3 309.0L440.7 310.2L441.1 309.2L441.5 309.6L441.9 309.4L442.3 309.5L442.7 310.0L443.1 309.9L443.5 309.4L443.9 308.9L444.3 309.6L444.7 309.0L445.1 308.5L445.5 308.4L445.9 308.8L446.3 308.9L446.7 309.3L447.1 308.2L447.5 308.4L447.9 308.4L448.3 309.4L448.7 309.7L449.1 308.9L449.5 308.9L449.9 309.0L450.3 308.3L450.7 308.0L451.1 308.6L451.5 308.5L451.9 308.4L452.3 309.3L452.7 309.2L453.1 308.8L453.5 309.6L453.9 309.3L454.3 309.6L454.7 308.7L455.0 308.5L455.1 308.8L455.5 308.8L455.9 308.3L456.3 308.9L456.7 308.8L457.1 309.5L457.5 309.8L457.9 308.6L458.3 308.6L458.7 308.6L459.1 308.8L459.5 308.9L459.9 309.3L460.3 309.7L460.7 308.9L461.0 308.8L461.1 308.8L461.5 309.7L461.9 309.5L462.3 308.2L462.7 307.7L463.1 307.9L463.5 308.0L463.9 307.9L464.3 307.6"/><use href="#c-red" y="0.25"/><use href="#c-red" y="-0.25"/></g>
<path d="M48.4 310.0V307.1" stroke="#ff0008" style="stroke-width:3.0;stroke-linecap:round"/>
<g stroke="#c05810"><path id="c-brown" d="M20.3 -8.0L20.5 239.9L20.7 249.2L21.1 257.0L21.2 257.7L21.5 261.0L21.9 263.5L22.3 265.6L22.4 265.7L22.7 266.7L23.1 268.3L23.5 269.6L23.9 269.7L24.3 270.8L24.4 271.1L24.7 270.9L25.1 271.3L25.5 271.9L25.9 271.8L26.3 272.0L26.7 272.7L27.1 272.3L27.5 272.3L27.9 272.0L28.3 272.2L28.7 272.0L29.1 272.6L29.5 272.4L29.9 271.8L30.3 272.4L30.7 272.1L31.1 272.0L31.5 272.4L31.9 272.5L32.3 272.4L32.7 272.3L33.1 272.6L33.5 272.8L33.9 272.8L34.3 272.7L34.7 272.9L35.1 272.3L35.5 272.5L35.9 272.0L36.0 272.0L36.3 271.8L36.7 272.2L37.1 272.1L37.5 271.9L37.9 272.2L38.3 272.1L38.7 272.2L39.1 272.1L39.5 272.0L39.9 272.3L40.3 272.0L40.7 272.5L41.1 273.1L41.5 273.3L41.9 273.1L42.3 273.0L42.7 272.9L43.1 272.7L43.5 272.0L43.9 272.1L44.3 272.6L44.7 272.6L45.1 272.4L45.5 272.2L45.9 272.2L46.3 272.2L46.7 272.2L47.1 272.1L47.5 272.6L47.9 272.4L48.3 272.4L48.7 272.7L49.1 272.5L49.5 272.3L49.9 272.8L50.3 272.5L50.7 273.0L51.1 272.8L51.5 272.5L51.9 272.6L52.3 272.7L52.7 272.3L53.1 272.2L53.5 272.8L53.9 272.3L54.3 272.5L54.7 271.9L55.1 272.1L55.5 272.0L55.9 272.4L56.3 272.4L56.7 272.4L57.1 272.9L57.5 272.7L57.9 272.1L58.3 272.5L58.7 272.4L59.1 272.3L59.5 272.5L59.9 272.6L60.3 272.7L60.7 272.6L61.1 272.3L61.5 272.6L61.9 272.8L62.3 272.2L62.7 272.5L63.1 272.5L63.5 272.3L63.9 272.7L64.3 272.7L64.7 273.0L65.1 273.0L65.5 273.4L65.9 273.5L66.3 273.0L66.7 273.3L67.1 272.5L67.5 272.7L67.9 272.6L68.3 273.1L68.7 272.6L69.1 272.7L69.5 271.9L69.9 272.3L70.3 272.2L70.7 271.9L71.1 271.3L71.5 271.9L71.9 272.0L72.3 272.2L72.7 272.0L73.1 271.6L73.5 272.0L73.9 272.4L74.3 272.0L74.7 272.4L75.1 272.3L75.5 272.5L75.9 272.7L76.3 272.4L76.7 273.1L77.1 272.5L77.5 272.5L77.9 272.2L78.3 272.3L78.7 272.3L79.1 272.2L79.5 272.4L79.9 273.0L80.3 273.0L80.7 272.5L81.1 272.6L81.5 273.0L81.9 273.0L82.3 273.2L82.7 272.9L83.1 273.3L83.5 273.0L83.9 272.8L84.3 272.6L84.7 272.5L85.1 272.2L85.5 272.1L85.9 271.8L86.3 271.9L86.7 271.8L87.1 272.1L87.5 272.2L87.9 272.4L88.3 272.7L88.7 272.7L89.1 272.8L89.5 272.7L89.9 273.0L90.3 272.9L90.7 273.2L91.1 273.1L91.5 273.1L91.9 272.7L92.3 272.3L92.7 272.1L93.1 272.9L93.5 272.6L93.9 272.7L94.3 272.6L94.7 272.5L95.1 273.1L95.5 271.9L95.9 271.8L96.3 271.4L96.7 270.8L97.1 270.5L97.5 270.4L97.9 270.3L98.3 270.2L98.7 270.5L99.1 270.2L99.5 270.7L99.9 271.2L100.3 271.4L100.7 271.3L101.1 271.2L101.5 272.3L101.9 272.4L102.3 272.3L102.7 272.7L103.1 272.3L103.5 272.4L103.9 272.0L104.3 272.2L104.7 272.0L105.1 271.9L105.5 272.2L105.9 272.0L106.3 271.6L106.7 272.2L107.1 272.4L107.5 272.3L107.9 272.5L108.3 272.6L108.7 272.4L109.1 272.3L109.5 272.2L109.9 271.9L110.3 272.5L110.7 272.0L111.1 272.2L111.5 273.0L111.9 273.3L112.3 272.9L112.7 273.0L113.1 272.9L113.5 273.4L113.9 273.1L114.3 272.8L114.7 272.9L115.1 273.0L115.5 272.8L115.9 273.0L116.3 272.8L116.7 272.7L117.1 272.6L117.5 272.8L117.9 273.0L118.3 272.8L118.7 272.6L119.1 272.3L119.5 272.4L119.9 272.6L120.3 272.5L120.7 272.5L121.1 273.4L121.5 273.3L121.9 273.1L122.3 273.2L122.7 272.9L123.1 272.3L123.5 272.4L123.9 272.0L124.3 272.3L124.7 272.4L125.1 272.7L125.5 272.5L125.9 272.6L126.3 272.4L126.7 272.4L127.1 272.2L127.5 272.8L127.9 272.6L128.3 272.4L128.7 272.6L129.1 272.4L129.5 272.3L129.9 272.6L130.3 272.9L130.7 272.6L131.1 272.4L131.5 272.7L131.9 273.3L132.3 272.8L132.7 273.3L133.1 272.9L133.5 273.0L133.9 272.7L134.3 272.2L134.7 272.3L135.1 272.9L135.5 272.5L135.9 272.9L136.3 272.9L136.7 273.0L137.1 273.1L137.5 273.0L137.9 273.3L138.3 272.7L138.7 272.6L139.1 272.5L139.5 272.4L139.9 272.4L140.0 272.9L140.3 272.3L140.7 272.9L141.1 272.7L141.5 272.4L141.9 272.1L142.3 272.4L142.7 272.5L143.1 272.8L143.5 272.4L143.9 272.6L144.3 272.9L144.7 272.9L145.1 272.9L145.5 272.6L145.9 272.6L146.3 272.6L146.7 272.6L147.1 272.7L147.5 272.9L147.9 272.8L148.3 272.5L148.7 272.9L149.1 272.5L149.5 272.4L149.9 273.0L150.3 272.2L150.7 272.3L151.1 272.3L151.5 272.7L151.9 272.3L152.3 272.8L152.7 272.6L153.1 272.5L153.5 273.0L153.9 273.0L154.3 272.7L154.7 272.6L155.1 272.5L155.5 272.7L155.9 272.5L156.3 272.3L156.7 272.4L157.1 272.4L157.5 272.8L157.9 272.6L158.3 272.5L158.7 272.6L159.1 272.6L159.5 272.3L159.9 272.3L160.3 271.7L160.7 272.1L161.1 272.4L161.5 272.3L161.9 272.7L162.3 272.6L162.7 272.4L163.1 273.0L163.5 272.4L163.9 273.0L164.3 272.7L164.7 272.5L165.1 272.5L165.5 272.5L165.9 272.5L166.3 272.9L166.7 272.5L167.1 273.2L167.5 273.1L167.9 273.1L168.3 272.5L168.7 272.2L169.1 272.6L169.5 272.8L169.9 272.9L170.0 272.7L170.3 272.7L170.7 272.7L171.1 272.3L171.5 273.0L171.9 272.3L172.3 272.6L172.7 272.8L173.1 272.3L173.5 272.5L173.9 273.0L174.3 272.7L174.7 273.2L175.1 273.2L175.5 273.3L175.9 273.5L176.3 273.4L176.7 273.3L177.1 273.5L177.5 273.2L177.9 273.0L178.3 272.4L178.7 272.5L179.1 272.7L179.5 272.5L179.9 272.3L180.0 272.1L180.3 272.0L180.7 272.3L181.1 272.5L181.5 272.2L181.9 272.4L182.3 271.9L182.7 272.2L183.1 271.5L183.5 271.7L183.9 271.3L184.0 271.7L184.3 271.5L184.7 271.0L185.1 270.8L185.5 270.6L185.9 270.1L186.3 269.8L186.7 269.3L187.1 269.1L187.5 268.6L187.9 267.7L188.3 267.3L188.7 267.1L188.8 266.9L189.1 266.8L189.5 266.9L189.9 266.5L190.3 266.1L190.7 265.5L191.0 265.4L191.1 264.7L191.5 264.0L191.9 262.9L192.1 262.8L192.3 262.8L192.7 262.3L193.1 262.2L193.5 261.7L193.9 261.0L194.3 260.5L194.7 261.0L195.0 260.5L195.1 261.0L195.2 260.7L195.4 260.6L195.5 261.0L195.6 260.9L195.8 260.9L195.9 260.5L196.0 260.6L196.2 260.3L196.3 259.8L196.4 260.2L196.6 259.6L196.7 259.8L196.8 259.4L197.0 259.3L197.1 260.2L197.2 260.1L197.4 260.0L197.5 259.3L197.6 259.7L197.8 259.4L197.9 259.1L198.0 258.9L198.1 258.4L198.2 258.3L198.3 258.0L198.4 258.1L198.6 258.2L198.7 258.0L198.8 258.1L199.0 258.0L199.1 257.9L199.2 257.9L199.4 257.3L199.5 257.0L199.6 256.3L199.8 256.1L199.9 256.2L200.0 255.7L200.2 255.5L200.3 255.2L200.4 255.5L200.6 254.4L200.7 253.8L200.8 253.5L201.0 252.8L201.1 252.4L201.2 252.3L201.4 251.9L201.5 251.8L201.6 251.7L201.8 251.2L201.9 250.9L202.0 250.6L202.2 249.6L202.3 249.1L202.4 248.7L202.6 247.8L202.7 247.1L202.8 246.8L203.0 245.7L203.1 244.9L203.2 244.7L203.4 243.2L203.5 242.5L203.6 241.9L203.8 240.8L203.9 239.9L204.0 239.4L204.2 237.2L204.3 235.9L204.4 234.9L204.6 232.5L204.7 231.0L204.8 229.6L205.0 227.5L205.1 226.2L205.2 225.2L205.4 222.7L205.5 221.6L205.6 220.3L205.8 217.7L205.9 216.7L206.0 215.4L206.2 213.2L206.3 211.4L206.4 209.9L206.5 207.3L206.6 204.6L206.7 201.1L206.8 196.6L207.0 186.6L207.1 180.8L207.2 175.7L207.3 169.9L207.4 164.3L207.5 157.8L207.6 150.6L207.8 136.3L207.9 128.4L208.0 119.6L208.2 101.2L208.3 91.2L208.4 80.8L208.6 59.4L208.7 49.6L208.8 38.7L209.0 17.5L209.1 5.7L209.2 -5.0L209.3 -8.0L209.4 -8.0L209.5 -8.0L209.6 -8.0L209.8 -8.0L209.9 -8.0L210.0 -8.0L210.2 -8.0L210.3 -8.0L210.4 -8.0L210.6 -8.0L210.7 -8.0L210.8 -8.0L211.0 -8.0L211.1 -8.0L211.2 -8.0L211.4 -8.0L211.5 -8.0L211.6 -8.0L211.8 -8.0L211.9 -8.0L212.0 -8.0L212.2 -8.0L212.3 -8.0L212.4 -8.0L212.6 -8.0L212.7 -8.0L212.8 -8.0L213.0 -8.0L213.1 -8.0L213.2 -8.0L213.4 -8.0L213.5 -8.0L213.6 -8.0L213.8 -8.0L213.9 -8.0L214.0 -8.0L214.2 -8.0L214.3 -8.0L214.4 -8.0L214.6 -8.0L214.7 -8.0L214.8 -8.0L215.0 -8.0L215.1 -8.0L215.2 -8.0L215.4 -8.0L215.5 -8.0L215.6 -8.0L215.8 -8.0L215.9 -8.0L216.0 -8.0L216.2 -8.0L216.3 -8.0L216.4 -8.0L216.6 -8.0L216.7 -8.0L216.8 -8.0L217.0 -8.0L217.1 -8.0L217.2 -8.0L217.4 -8.0L217.5 -8.0L217.6 -8.0L217.8 -8.0L217.9 -2.1L218.0 17.9L218.1 60.0L218.2 76.5L218.3 88.5L218.4 97.3L218.6 110.3L218.7 115.5L218.8 119.8L219.0 127.0L219.1 130.6L219.2 134.0L219.4 139.6L219.5 142.9L219.6 146.6L219.8 153.2L219.9 156.3L220.0 159.3L220.2 165.1L220.3 167.5L220.4 170.0L220.6 174.4L220.7 176.1L220.8 178.4L220.9 179.7L221.0 181.3L221.1 182.6L221.2 184.3L221.4 186.5L221.5 187.1L221.6 188.1L221.8 190.0L221.9 190.9L222.0 191.9L222.2 193.6L222.3 194.7L222.4 195.4L222.6 198.2L222.7 199.4L222.8 201.7L223.0 205.2L223.1 207.0L223.2 209.1L223.4 213.4L223.5 215.2L223.6 216.7L223.8 221.0L223.9 222.4L224.0 224.7L224.2 228.1L224.3 230.2L224.4 231.9L224.6 234.7L224.7 236.2L224.8 237.5L225.0 239.9L225.1 240.9L225.2 241.6L225.4 244.3L225.5 245.7L225.6 246.8L225.8 248.4L225.9 249.7L226.0 250.7L226.2 252.1L226.3 253.3L226.4 253.9L226.6 255.6L226.7 256.4L226.8 257.5L227.0 258.1L227.1 258.5L227.2 259.2L227.3 259.3L227.4 259.8L227.5 259.6L227.6 260.5L227.8 261.0L227.9 261.1L228.0 262.1L228.2 262.3L228.3 262.6L228.4 262.7L228.6 263.0L228.7 263.4L228.8 263.4L229.0 264.2L229.1 264.5L229.2 264.3L229.4 264.3L229.5 264.6L229.6 264.5L229.8 265.0L229.9 265.1L230.0 265.2L230.2 265.6L230.3 266.0L230.4 266.4L230.6 266.1L230.7 266.4L230.8 266.2L231.0 266.1L231.1 266.6L231.2 266.3L231.4 266.2L231.5 266.3L231.6 266.1L231.8 266.0L231.9 266.8L232.0 266.8L232.2 266.9L232.3 267.3L232.4 267.4L232.6 267.0L232.7 267.1L232.8 266.8L233.0 267.0L233.1 266.8L233.2 267.4L233.4 266.8L233.5 267.0L233.6 266.9L233.8 266.7L233.9 267.0L234.0 266.9L234.2 266.9L234.3 267.1L234.4 266.9L234.6 267.3L234.7 267.0L234.8 266.9L235.0 266.3L235.1 266.5L235.2 266.2L235.4 266.3L235.5 266.5L235.6 266.3L235.8 266.3L235.9 266.7L236.0 266.8L236.2 267.0L236.3 266.1L236.4 266.6L236.6 266.3L236.7 266.2L236.8 266.5L237.0 266.2L237.1 265.9L237.2 266.0L237.4 266.0L237.5 266.4L237.6 265.9L237.8 266.0L237.9 265.9L238.0 266.4L238.2 266.4L238.3 266.4L238.4 266.0L238.6 266.1L238.7 265.8L238.8 266.3L239.0 266.0L239.1 265.7L239.2 266.6L239.4 266.5L239.5 266.6L239.6 266.7L239.8 266.5L239.9 267.0L240.0 266.4L240.3 266.9L240.7 266.4L241.1 266.0L241.5 266.7L241.9 267.1L242.3 266.7L242.7 267.1L243.1 266.9L243.5 266.9L243.9 266.6L244.3 267.6L244.7 267.3L245.1 267.5L245.5 267.2L245.9 267.3L246.0 267.9L246.3 267.7L246.7 267.9L247.1 267.9L247.5 268.4L247.9 268.6L248.3 268.3L248.7 268.4L249.1 268.2L249.5 268.7L249.9 268.3L250.3 268.4L250.7 268.9L251.1 268.7L251.5 268.7L251.9 269.1L252.3 269.4L252.7 270.0L253.1 269.6L253.4 269.3L253.5 269.3L253.9 269.3L254.3 268.8L254.7 269.5L255.1 269.6L255.5 269.8L255.9 269.4L256.3 270.1L256.7 270.4L257.1 270.1L257.5 270.7L257.9 270.1L258.3 269.8L258.7 270.1L259.1 270.0L259.5 270.2L259.9 270.0L260.3 270.4L260.7 270.0L261.1 270.1L261.5 269.8L261.9 269.9L262.3 270.3L262.7 270.2L263.1 270.4L263.5 270.6L263.9 270.7L264.3 270.8L264.7 270.8L265.1 270.8L265.5 270.5L265.9 270.1L266.3 269.6L266.7 269.5L267.1 268.8L267.5 267.9L267.9 268.2L268.3 267.3L268.5 267.9L268.7 268.2L269.1 268.4L269.5 269.2L269.9 268.7L270.3 268.4L270.5 268.9L270.7 268.3L271.1 267.9L271.5 267.7L271.9 267.4L272.3 267.4L272.6 267.4L272.7 267.0L273.1 267.6L273.5 268.3L273.9 267.8L274.3 268.1L274.7 268.4L275.1 268.6L275.5 268.4L275.9 268.5L276.0 268.6L276.3 269.2L276.7 269.5L277.1 269.1L277.5 269.5L277.9 270.2L278.3 270.6L278.7 271.4L279.1 271.7L279.5 272.4L279.9 272.3L280.3 272.2L280.6 272.4L280.7 271.8L281.1 271.5L281.5 271.6L281.9 271.6L282.3 270.9L282.7 271.4L283.1 271.3L283.5 270.9L283.9 270.9L284.0 270.7L284.3 270.7L284.7 270.7L285.1 270.2L285.5 270.5L285.9 270.4L286.3 270.3L286.7 269.5L287.1 269.4L287.5 270.0L287.6 269.7L287.9 269.6L288.3 269.7L288.7 269.6L289.1 270.0L289.5 270.1L289.9 270.3L290.3 270.8L290.7 270.7L291.1 271.4L291.5 270.9L291.9 272.3L292.0 271.5L292.3 272.1L292.7 272.3L293.1 272.1L293.5 272.2L293.9 271.9L294.3 271.5L294.7 272.1L295.1 272.3L295.5 272.0L295.9 271.8L296.3 272.0L296.7 272.3L297.1 272.2L297.5 272.4L297.9 272.3L298.3 272.4L298.7 272.0L299.1 273.1L299.5 272.7L299.9 272.8L300.0 272.5L300.3 272.3L300.7 272.1L301.1 272.3L301.5 272.1L301.9 271.7L302.3 271.9L302.7 271.2L303.1 271.4L303.5 271.2L303.9 271.6L304.3 271.3L304.7 271.5L305.1 271.6L305.5 270.8L305.9 272.0L306.3 271.8L306.7 271.9L307.1 271.9L307.5 272.6L307.9 272.3L308.3 273.0L308.7 273.1L309.1 273.7L309.5 273.1L309.9 273.3L310.3 273.3L310.7 273.4L311.1 273.0L311.5 273.3L311.9 273.0L312.3 273.2L312.7 273.3L313.1 273.2L313.5 272.8L313.9 272.8L314.3 273.0L314.7 272.7L315.1 272.6L315.5 272.4L315.9 272.7L316.3 272.5L316.7 272.0L317.1 271.8L317.5 272.1L317.9 271.8L318.3 271.5L318.7 271.4L319.1 271.6L319.5 272.2L319.9 271.5L320.3 272.4L320.7 271.9L321.1 272.1L321.5 272.8L321.9 272.8L322.3 273.2L322.7 273.0L323.1 272.9L323.5 272.9L323.9 273.1L324.3 272.8L324.7 272.5L325.1 273.2L325.5 273.1L325.9 273.1L326.3 273.0L326.7 272.6L327.1 273.4L327.5 272.9L327.9 273.2L328.3 273.4L328.7 273.4L329.1 273.3L329.5 273.2L329.9 273.2L330.0 273.3L330.3 273.2L330.7 273.0L331.1 273.2L331.5 273.3L331.9 273.4L332.3 273.3L332.7 273.5L333.1 273.2L333.5 273.3L333.9 273.0L334.3 272.8L334.7 272.6L335.1 272.8L335.5 273.1L335.9 273.5L336.3 273.4L336.7 273.5L337.1 273.5L337.5 273.8L337.9 273.4L338.3 273.0L338.7 273.2L339.1 272.7L339.5 273.0L339.9 273.1L340.3 273.2L340.7 273.1L341.1 273.6L341.5 273.6L341.9 272.7L342.3 272.9L342.7 273.0L343.1 273.4L343.5 272.9L343.9 272.9L344.3 273.1L344.7 273.5L345.1 272.9L345.5 272.8L345.9 273.1L346.3 272.2L346.7 272.3L347.1 273.3L347.5 273.5L347.9 273.3L348.3 274.0L348.7 274.1L349.1 274.2L349.5 274.0L349.9 274.1L350.3 273.9L350.7 273.9L351.1 273.6L351.5 273.8L351.9 273.3L352.3 272.8L352.7 273.3L353.1 273.6L353.5 273.4L353.9 273.7L354.3 273.4L354.7 273.6L355.1 273.3L355.5 273.8L355.9 273.4L356.3 274.0L356.7 273.3L357.1 273.0L357.5 273.4L357.9 273.1L358.3 273.2L358.7 273.5L359.1 273.6L359.5 273.6L359.9 274.1L360.3 274.2L360.7 274.2L361.1 274.5L361.5 273.7L361.9 273.6L362.3 273.6L362.7 273.2L363.1 273.0L363.5 273.2L363.9 273.7L364.3 273.5L364.7 273.8L365.1 273.6L365.5 274.0L365.9 273.9L366.3 273.9L366.7 274.1L367.1 273.9L367.5 273.9L367.9 273.0L368.3 273.4L368.7 273.6L369.1 273.6L369.5 273.1L369.9 273.0L370.3 273.0L370.7 273.3L371.1 273.3L371.5 273.5L371.9 273.7L372.3 273.3L372.7 273.2L373.1 273.1L373.5 273.0L373.9 273.3L374.3 273.4L374.7 274.0L375.1 273.6L375.5 273.6L375.9 273.9L376.3 273.5L376.7 273.7L377.1 273.8L377.5 273.7L377.9 273.7L378.3 273.6L378.7 273.4L379.1 273.6L379.5 273.5L379.9 273.6L380.3 273.3L380.7 273.3L381.1 272.8L381.5 273.5L381.9 273.2L382.3 273.1L382.7 273.2L383.1 273.5L383.5 273.9L383.9 273.8L384.3 273.3L384.7 273.5L385.1 273.4L385.5 272.9L385.9 272.8L386.3 272.3L386.7 272.3L387.1 271.6L387.5 271.7L387.9 271.5L388.3 271.3L388.7 271.2L389.1 271.6L389.5 271.2L389.9 271.4L390.3 271.5L390.7 271.6L391.1 271.7L391.5 271.6L391.9 271.5L392.3 271.7L392.7 271.8L393.1 271.9L393.5 271.8L393.9 272.0L394.3 271.6L394.7 272.0L395.1 271.6L395.5 271.1L395.9 271.1L396.3 270.0L396.7 270.8L397.1 270.6L397.5 270.8L397.9 270.6L398.3 271.9L398.7 271.6L399.1 271.9L399.5 272.5L399.9 272.4L400.3 272.3L400.7 272.7L401.1 272.4L401.5 273.0L401.9 273.1L402.3 273.5L402.7 273.1L403.1 273.8L403.5 273.5L403.9 273.9L404.3 273.3L404.7 273.9L405.1 273.8L405.5 273.9L405.9 273.7L406.3 274.1L406.7 274.2L407.1 273.8L407.5 273.8L407.9 273.8L408.3 274.2L408.7 273.8L409.1 273.8L409.5 273.4L409.9 273.2L410.3 273.2L410.7 273.2L411.1 273.7L411.5 273.7L411.9 273.8L412.3 273.5L412.7 273.8L413.1 273.5L413.5 273.5L413.9 273.9L414.3 273.6L414.7 273.9L415.1 274.3L415.5 274.5L415.9 274.1L416.3 274.3L416.7 274.1L417.1 273.7L417.5 273.4L417.9 273.4L418.3 273.9L418.7 273.9L419.1 273.7L419.5 273.9L419.9 274.1L420.3 274.1L420.7 274.1L421.1 274.5L421.5 273.7L421.9 273.8L422.3 273.5L422.7 273.4L423.1 273.3L423.5 273.4L423.9 273.4L424.3 273.6L424.7 273.6L425.1 273.3L425.5 273.9L425.9 273.3L426.3 273.7L426.7 274.2L427.1 273.7L427.5 274.2L427.9 274.3L428.3 274.1L428.7 273.6L429.1 274.3L429.5 273.9L429.9 273.6L430.3 273.8L430.7 273.2L431.1 273.5L431.5 273.1L431.9 273.4L432.3 273.2L432.7 273.5L433.1 273.5L433.5 273.5L433.9 273.5L434.3 273.2L434.7 273.1L435.1 273.3L435.5 273.0L435.9 272.8L436.3 273.3L436.7 273.6L437.1 274.0L437.5 274.2L437.9 274.3L438.3 274.2L438.7 274.4L439.1 273.9L439.5 274.4L439.9 274.0L440.3 273.9L440.7 273.7L441.1 273.8L441.5 273.7L441.9 274.0L442.3 273.5L442.7 273.9L443.1 273.8L443.5 274.1L443.9 273.8L444.3 273.8L444.7 273.9L445.1 273.9L445.5 273.9L445.9 273.6L446.3 273.5L446.7 273.3L447.1 272.8L447.5 272.3L447.9 272.6L448.3 273.1L448.7 273.5L449.1 273.3L449.5 273.5L449.9 273.5L450.3 273.4L450.7 273.0L451.1 273.0L451.5 272.6L451.9 272.8L452.3 273.0L452.7 272.5L453.1 273.0L453.5 273.0L453.9 272.6L454.3 273.0L454.7 272.6L455.1 272.9L455.5 273.3L455.9 273.5L456.3 273.5L456.7 273.3L457.1 273.8L457.5 273.2L457.9 273.0L458.3 273.0L458.7 272.8L459.1 272.6L459.5 272.4L459.9 272.2L460.3 273.0L460.7 272.6L461.1 272.6L461.5 272.9L461.9 272.8L462.3 273.6L462.7 273.3L463.1 273.5L463.5 273.6L463.9 273.4L464.3 273.3"/><use href="#c-brown" y="0.25"/><use href="#c-brown" y="-0.25"/></g>
<path d="M48.4 272.5V270.0" stroke="#c05810" style="stroke-width:3.0;stroke-linecap:round"/>
<g stroke="#6aa81e"><path id="c-olive" d="M20.3 -8.0L20.5 225.3L20.7 228.7L21.1 231.6L21.4 232.2L21.5 232.8L21.9 233.5L22.3 234.3L22.7 235.0L23.1 235.5L23.4 236.1L23.5 235.9L23.9 236.5L24.3 236.4L24.7 236.7L25.1 237.0L25.5 237.7L25.9 237.2L26.3 237.3L26.7 237.8L26.9 238.3L27.1 237.8L27.5 238.2L27.9 237.9L28.3 238.4L28.7 238.1L29.1 237.9L29.5 237.9L29.9 238.1L30.3 238.4L30.7 238.4L31.1 238.4L31.5 238.2L31.9 238.3L32.3 238.0L32.7 238.2L33.1 237.6L33.5 238.3L33.9 238.4L34.3 238.7L34.7 238.4L35.0 238.0L35.1 238.1L35.5 238.6L35.9 238.4L36.3 238.5L36.7 238.5L37.1 238.5L37.5 238.3L37.9 237.9L38.3 237.9L38.7 238.3L39.1 238.4L39.5 238.1L39.9 238.1L40.3 238.5L40.7 238.1L41.1 237.8L41.5 238.0L41.9 238.2L42.3 238.4L42.7 238.1L43.1 238.5L43.5 238.4L43.9 238.7L44.3 238.4L44.7 238.2L45.1 237.8L45.5 237.9L45.9 237.8L46.3 237.0L46.7 238.0L47.1 237.9L47.5 238.0L47.9 238.2L48.3 238.4L48.7 238.5L49.1 238.1L49.5 238.3L49.9 238.1L50.3 238.0L50.7 237.6L51.1 237.9L51.5 237.8L51.9 238.3L52.3 238.7L52.7 238.7L53.1 238.4L53.5 238.3L53.9 238.2L54.3 238.2L54.7 237.9L55.1 237.8L55.5 237.3L55.9 237.6L56.3 237.7L56.7 237.8L57.1 238.3L57.5 237.9L57.9 238.1L58.3 238.7L58.7 238.5L59.1 238.7L59.5 238.7L59.9 238.5L60.3 238.2L60.7 238.5L61.1 238.5L61.5 237.9L61.9 238.1L62.3 238.4L62.7 238.2L63.1 238.1L63.5 238.3L63.9 238.6L64.3 238.2L64.7 238.3L65.1 238.2L65.5 237.9L65.9 238.0L66.3 238.0L66.7 238.0L67.1 238.0L67.5 237.4L67.9 238.0L68.3 238.0L68.7 238.3L69.1 238.2L69.5 238.8L69.9 238.9L70.3 238.6L70.7 239.1L71.1 238.5L71.5 238.3L71.9 238.4L72.3 238.0L72.7 238.1L73.1 237.8L73.5 237.9L73.9 238.0L74.3 237.8L74.7 238.0L75.1 237.9L75.5 237.5L75.9 237.8L76.3 237.7L76.7 237.7L77.1 237.9L77.5 238.0L77.9 237.9L78.3 237.5L78.7 237.9L79.1 237.8L79.5 237.8L79.9 237.9L80.3 237.7L80.7 238.1L81.1 237.9L81.5 237.9L81.9 238.1L82.3 238.1L82.7 238.2L83.1 238.1L83.5 238.0L83.9 238.0L84.3 237.5L84.7 237.6L85.1 238.1L85.5 237.9L85.9 238.4L86.3 238.4L86.7 237.7L87.1 238.0L87.5 238.5L87.9 237.5L88.3 237.7L88.7 237.6L89.1 237.7L89.5 237.9L89.9 238.1L90.3 238.3L90.7 237.8L91.1 237.7L91.5 237.1L91.9 237.1L92.3 236.9L92.7 236.5L93.1 236.6L93.5 236.3L93.9 236.1L94.3 236.4L94.7 235.5L95.1 235.8L95.5 235.6L95.9 234.9L96.3 234.9L96.7 234.5L97.1 233.6L97.5 233.7L97.9 233.5L98.3 233.3L98.7 233.8L99.1 234.1L99.5 234.2L99.9 234.4L100.3 235.5L100.7 235.8L101.1 236.1L101.5 236.9L101.9 237.1L102.3 237.9L102.7 238.6L103.1 237.7L103.5 238.3L103.9 237.9L104.3 237.9L104.7 237.8L105.1 238.3L105.5 238.3L105.9 238.2L106.3 238.0L106.7 238.2L107.1 238.4L107.5 237.8L107.9 238.2L108.3 238.2L108.7 237.8L109.1 238.5L109.5 238.2L109.9 238.6L110.3 238.3L110.7 237.6L111.1 237.6L111.5 237.4L111.9 237.5L112.3 238.0L112.7 237.8L113.1 237.8L113.5 237.9L113.9 238.2L114.3 238.4L114.7 238.5L115.1 238.6L115.5 238.8L115.9 239.3L116.3 238.4L116.7 238.4L117.1 238.6L117.5 238.3L117.9 238.3L118.3 238.2L118.7 238.2L119.1 237.6L119.5 238.0L119.9 237.9L120.3 238.3L120.7 238.3L121.1 238.5L121.5 238.1L121.9 238.2L122.3 238.0L122.7 237.9L123.1 237.9L123.5 237.7L123.9 238.1L124.3 237.9L124.7 238.0L125.1 237.5L125.5 237.3L125.9 237.7L126.3 237.9L126.7 238.2L127.1 238.3L127.5 238.4L127.9 238.6L128.3 238.5L128.7 238.5L129.1 238.4L129.5 238.7L129.9 238.3L130.3 238.2L130.7 238.4L131.1 238.3L131.5 238.4L131.9 238.0L132.3 238.3L132.7 238.1L133.1 237.8L133.5 237.6L133.9 237.5L134.3 237.3L134.7 237.9L135.1 237.3L135.5 237.7L135.9 237.4L136.3 237.3L136.7 237.3L137.1 237.5L137.5 237.9L137.9 237.9L138.3 237.9L138.7 237.6L139.1 237.5L139.5 238.4L139.9 237.9L140.0 237.8L140.3 238.5L140.7 237.9L141.1 238.5L141.5 238.5L141.9 238.4L142.3 238.5L142.7 237.9L143.1 237.9L143.5 238.1L143.9 238.1L144.3 237.9L144.7 237.8L145.1 237.4L145.5 236.9L145.9 237.5L146.3 237.5L146.7 238.0L147.1 238.6L147.5 238.4L147.9 238.5L148.3 238.1L148.7 238.4L149.1 238.1L149.5 238.0L149.9 238.1L150.3 237.8L150.7 238.2L151.1 238.2L151.5 238.4L151.9 237.5L152.3 237.8L152.7 238.2L153.1 237.5L153.5 237.5L153.9 237.9L154.3 238.1L154.7 237.6L155.1 237.5L155.5 237.5L155.9 237.6L156.3 237.4L156.7 237.3L157.1 237.5L157.5 237.5L157.9 237.6L158.3 237.6L158.7 237.3L159.1 237.7L159.5 237.6L159.9 237.4L160.3 237.5L160.7 237.7L161.1 237.6L161.5 237.5L161.9 237.6L162.3 237.7L162.7 237.4L163.1 237.5L163.5 237.3L163.9 237.6L164.3 237.7L164.7 237.6L165.1 237.3L165.5 237.2L165.9 237.0L166.3 237.2L166.7 237.0L167.0 237.4L167.1 237.4L167.5 237.2L167.9 237.5L168.3 237.4L168.7 237.5L169.1 237.2L169.5 237.3L169.9 237.5L170.3 237.2L170.7 237.3L171.1 236.9L171.5 236.8L171.9 236.3L172.3 236.6L172.7 236.5L173.1 237.1L173.5 237.1L173.9 237.7L174.3 238.0L174.7 238.1L175.1 237.4L175.5 237.4L175.9 237.8L176.3 237.4L176.7 237.2L177.1 236.6L177.5 237.1L177.9 237.5L178.3 237.4L178.7 237.4L179.1 237.5L179.5 237.3L179.9 237.4L180.0 236.8L180.3 237.7L180.7 236.9L181.1 236.6L181.5 236.9L181.9 236.6L182.3 236.6L182.7 236.1L183.1 236.2L183.5 236.1L183.9 235.5L184.3 235.4L184.7 235.1L185.0 234.8L185.1 234.6L185.5 234.3L185.9 234.5L186.3 234.3L186.7 234.4L187.1 233.9L187.5 233.5L187.9 233.0L188.3 232.9L188.7 232.3L189.0 232.4L189.1 232.2L189.5 231.7L189.9 230.9L190.3 230.5L190.7 230.5L191.1 229.9L191.3 230.1L191.5 229.4L191.9 228.3L192.3 227.5L192.7 227.2L192.8 226.7L193.1 227.0L193.5 226.5L193.9 226.7L194.3 226.5L194.7 226.6L195.0 226.4L195.1 226.5L195.2 226.2L195.4 225.6L195.5 225.3L195.6 225.3L195.8 225.4L195.9 225.4L196.0 225.2L196.2 225.5L196.3 225.3L196.4 224.8L196.6 224.5L196.7 224.5L196.8 224.5L197.0 224.4L197.1 224.1L197.2 224.3L197.4 224.0L197.5 224.5L197.6 224.6L197.8 224.2L197.9 224.5L198.0 224.2L198.2 224.0L198.3 224.5L198.4 224.1L198.6 223.7L198.7 223.2L198.8 223.1L199.0 222.7L199.1 222.7L199.2 222.3L199.4 222.3L199.5 222.1L199.6 221.7L199.8 222.1L199.9 221.7L200.0 221.2L200.2 220.8L200.3 220.9L200.4 220.9L200.5 220.9L200.6 220.7L200.7 220.8L200.8 220.8L201.0 220.6L201.1 219.9L201.2 220.2L201.4 219.6L201.5 219.4L201.6 219.3L201.8 218.8L201.9 218.9L202.0 218.7L202.2 217.9L202.3 217.6L202.4 217.7L202.6 217.0L202.7 216.2L202.8 215.6L203.0 215.0L203.1 214.7L203.2 213.9L203.4 213.5L203.5 212.7L203.6 212.6L203.8 211.2L203.9 210.6L204.0 209.7L204.2 208.3L204.3 207.6L204.4 206.4L204.6 204.8L204.7 204.0L204.8 202.8L205.0 200.5L205.1 197.9L205.2 196.8L205.4 191.8L205.5 190.0L205.6 188.0L205.8 183.2L205.9 180.3L206.0 178.0L206.2 172.7L206.3 169.9L206.4 167.0L206.6 160.7L206.7 157.5L206.8 153.6L207.0 147.2L207.1 143.1L207.2 140.0L207.4 132.7L207.5 129.1L207.6 126.2L207.8 118.5L207.9 114.7L208.0 109.9L208.2 100.3L208.3 95.3L208.4 89.8L208.6 79.6L208.7 74.6L208.8 70.0L209.0 60.2L209.1 55.6L209.2 49.8L209.4 38.6L209.5 33.1L209.6 26.1L209.7 17.6L209.8 1.3L209.9 -8.0L210.0 -8.0L210.2 -8.0L210.3 -8.0L210.4 -8.0L210.6 -8.0L210.7 -8.0L210.8 -8.0L211.0 -8.0L211.1 -8.0L211.2 -8.0L211.4 -8.0L211.5 -8.0L211.6 -8.0L211.8 -8.0L211.9 -8.0L212.0 -8.0L212.2 -8.0L212.3 -8.0L212.4 -8.0L212.6 -8.0L212.7 -8.0L212.8 -8.0L213.0 -8.0L213.1 -8.0L213.2 -8.0L213.4 -8.0L213.5 -8.0L213.6 -8.0L213.8 -8.0L213.9 -8.0L214.0 -8.0L214.2 -8.0L214.3 -8.0L214.4 -8.0L214.6 -8.0L214.7 -8.0L214.8 -8.0L215.0 -8.0L215.1 -8.0L215.2 -8.0L215.4 -8.0L215.5 -8.0L215.6 -8.0L215.8 -8.0L215.9 -8.0L216.0 -8.0L216.2 -8.0L216.3 -8.0L216.4 -8.0L216.6 -8.0L216.7 -8.0L216.8 -8.0L217.0 -8.0L217.1 -8.0L217.2 -8.0L217.4 -8.0L217.5 -8.0L217.6 -8.0L217.8 -8.0L217.9 -8.0L218.0 -8.0L218.2 -8.0L218.3 -8.0L218.4 -8.0L218.6 -8.0L218.7 -8.0L218.8 -8.0L219.0 -8.0L219.1 -8.0L219.2 -8.0L219.4 -8.0L219.5 -8.0L219.6 -8.0L219.7 -8.0L219.8 -1.0L219.9 17.6L220.0 40.4L220.1 59.8L220.2 68.7L220.3 76.7L220.4 82.5L220.6 92.2L220.7 96.6L220.8 100.6L220.9 105.2L221.0 110.1L221.1 114.6L221.2 118.5L221.4 126.3L221.5 129.7L221.6 133.1L221.8 139.8L221.9 142.8L222.0 145.5L222.2 151.0L222.3 154.1L222.4 156.4L222.6 160.8L222.7 163.0L222.8 165.3L223.0 168.7L223.1 170.4L223.2 171.5L223.4 174.4L223.5 175.7L223.6 177.0L223.8 180.1L223.9 181.4L224.0 182.2L224.2 184.5L224.3 185.3L224.4 185.9L224.6 187.3L224.7 188.8L224.8 189.7L225.0 190.9L225.1 192.4L225.2 192.8L225.4 194.3L225.5 195.2L225.6 195.7L225.8 197.9L225.9 198.6L226.0 200.2L226.2 202.2L226.3 203.0L226.4 204.7L226.6 206.8L226.7 208.6L226.8 210.1L227.0 212.4L227.1 213.2L227.2 214.4L227.4 216.2L227.5 216.9L227.6 218.0L227.8 219.5L227.9 220.1L228.0 220.3L228.2 221.6L228.3 222.3L228.4 222.9L228.6 223.3L228.7 224.0L228.8 224.9L229.0 225.1L229.1 225.7L229.2 226.2L229.4 227.3L229.5 227.6L229.6 227.8L229.8 227.9L229.9 228.5L230.0 228.4L230.2 228.6L230.3 228.9L230.4 229.3L230.5 229.0L230.6 229.3L230.7 229.5L230.8 229.6L231.0 229.2L231.1 229.8L231.2 230.3L231.4 230.1L231.5 230.6L231.6 229.9L231.8 230.7L231.9 231.1L232.0 231.0L232.2 230.5L232.3 230.3L232.4 230.5L232.6 230.1L232.7 230.2L232.8 229.9L233.0 230.3L233.1 230.4L233.2 230.8L233.4 230.7L233.5 230.6L233.6 230.9L233.8 230.7L233.9 230.9L234.0 230.7L234.2 230.7L234.3 230.6L234.4 229.9L234.6 230.4L234.7 230.5L234.8 230.0L235.0 230.7L235.1 230.0L235.2 230.8L235.4 230.4L235.5 230.5L235.6 230.4L235.8 230.6L235.9 230.1L236.0 230.1L236.2 229.7L236.3 230.3L236.4 230.0L236.6 230.2L236.7 230.0L236.8 229.4L237.0 229.7L237.1 229.6L237.2 229.6L237.4 229.7L237.5 229.6L237.6 229.5L237.8 229.7L237.9 229.2L238.0 229.1L238.2 229.2L238.3 229.6L238.4 229.3L238.6 229.9L238.7 228.9L238.8 229.5L239.0 229.7L239.1 229.8L239.2 230.0L239.4 229.5L239.5 229.3L239.6 229.7L239.8 229.8L239.9 229.0L240.3 229.8L240.7 230.0L241.1 229.9L241.5 230.2L241.9 230.6L242.3 230.8L242.7 230.9L243.1 230.8L243.5 231.3L243.9 231.2L244.3 231.5L244.7 231.4L245.0 231.7L245.1 231.8L245.5 231.9L245.9 232.2L246.3 232.0L246.7 232.6L247.1 232.6L247.5 232.4L247.9 232.4L248.3 231.7L248.7 232.4L249.1 232.5L249.5 232.5L249.9 233.4L250.3 233.2L250.7 233.4L251.1 233.3L251.5 233.4L251.9 233.4L252.3 233.4L252.7 233.7L253.1 233.9L253.4 233.3L253.5 233.9L253.9 233.7L254.3 233.5L254.7 233.9L255.1 233.7L255.5 233.3L255.9 233.3L256.3 233.9L256.7 233.7L257.1 233.9L257.5 233.5L257.9 233.9L258.3 234.2L258.7 234.0L259.1 234.1L259.5 234.6L259.9 234.5L260.3 234.6L260.7 234.5L261.1 234.6L261.5 234.0L261.9 234.2L262.3 234.1L262.7 234.9L263.1 234.5L263.5 234.4L263.9 234.2L264.3 234.2L264.7 233.8L265.1 234.9L265.5 234.3L265.9 234.1L266.3 233.6L266.7 233.4L267.1 232.9L267.5 232.2L267.9 231.9L268.3 231.6L268.5 232.0L268.7 232.2L269.1 232.3L269.5 232.2L269.9 231.9L270.3 231.6L270.7 231.9L271.0 231.8L271.1 231.9L271.5 232.3L271.9 231.7L272.3 231.8L272.7 231.8L273.1 231.6L273.4 231.3L273.5 231.4L273.9 231.6L274.3 231.5L274.7 231.5L275.1 231.9L275.5 231.9L275.9 232.1L276.3 232.5L276.7 232.7L277.0 232.7L277.1 233.0L277.5 233.7L277.9 233.4L278.3 233.7L278.7 233.9L279.1 234.5L279.5 234.5L279.9 235.2L280.3 235.5L280.7 235.3L281.1 235.3L281.5 235.1L281.7 235.3L281.9 235.0L282.3 235.2L282.7 235.3L283.1 235.3L283.5 235.6L283.9 235.7L284.3 234.8L284.7 235.0L285.0 235.2L285.1 234.8L285.5 234.8L285.9 234.8L286.3 234.8L286.7 234.6L287.1 234.2L287.5 234.3L287.9 234.3L288.3 234.4L288.7 234.2L289.1 234.2L289.5 234.5L289.9 234.9L290.3 235.0L290.7 234.6L291.1 235.2L291.5 235.2L291.9 235.6L292.0 235.3L292.3 235.8L292.7 235.7L293.1 236.2L293.5 236.5L293.9 236.1L294.3 236.7L294.7 237.3L295.1 237.0L295.5 237.4L295.9 237.3L296.3 237.2L296.7 237.4L297.0 237.6L297.1 237.6L297.5 237.6L297.9 236.9L298.3 237.2L298.7 236.5L299.1 236.6L299.5 236.5L299.9 236.7L300.3 236.7L300.7 236.9L301.1 236.5L301.5 236.6L301.9 236.3L302.3 236.1L302.7 235.7L303.1 236.1L303.5 236.0L303.9 236.0L304.3 235.6L304.7 235.4L305.1 235.5L305.5 235.6L305.9 235.9L306.3 236.4L306.7 236.1L307.1 236.9L307.5 236.0L307.9 237.0L308.3 236.7L308.7 237.3L309.1 236.8L309.5 237.4L309.9 237.2L310.3 237.4L310.7 237.9L311.1 238.0L311.5 237.6L311.9 238.2L312.3 237.5L312.7 237.9L313.1 237.2L313.5 237.1L313.9 237.2L314.3 236.9L314.7 237.2L315.1 236.5L315.5 236.8L315.9 236.5L316.3 236.2L316.7 236.2L317.1 235.8L317.5 235.5L317.9 235.5L318.3 235.2L318.7 235.2L319.1 235.5L319.5 235.4L319.9 235.9L320.3 235.9L320.7 236.4L321.1 236.6L321.5 236.6L321.9 236.5L322.3 236.8L322.7 237.1L323.1 237.7L323.5 237.7L323.9 237.7L324.3 237.9L324.7 238.0L325.1 238.2L325.5 237.9L325.9 238.4L326.3 238.7L326.7 238.5L327.1 238.7L327.5 238.4L327.9 238.4L328.3 238.4L328.7 237.8L329.1 237.9L329.5 237.8L329.9 237.9L330.0 237.6L330.3 237.9L330.7 237.7L331.1 238.0L331.5 238.4L331.9 238.4L332.3 238.4L332.7 238.2L333.1 238.2L333.5 238.2L333.9 237.7L334.3 237.7L334.7 237.7L335.1 238.4L335.5 237.8L335.9 237.6L336.3 237.7L336.7 237.7L337.1 237.0L337.5 237.3L337.9 237.1L338.3 237.6L338.7 238.3L339.1 238.1L339.5 238.0L339.9 238.0L340.3 238.0L340.7 237.9L341.1 237.7L341.5 237.8L341.9 238.7L342.3 238.2L342.7 238.7L343.1 238.3L343.5 238.7L343.9 238.4L344.3 238.1L344.7 238.4L345.1 237.7L345.5 237.9L345.9 237.6L346.3 237.5L346.7 237.5L347.1 237.3L347.5 237.5L347.9 237.9L348.3 237.3L348.7 237.5L349.1 237.7L349.5 237.9L349.9 238.4L350.3 238.4L350.7 238.3L351.1 238.2L351.5 238.6L351.9 237.8L352.3 237.8L352.7 238.1L353.1 238.2L353.5 238.2L353.9 237.9L354.3 237.7L354.7 237.7L355.1 237.5L355.5 237.5L355.9 237.3L356.3 237.9L356.7 237.7L357.1 238.1L357.5 237.5L357.9 237.7L358.3 237.6L358.7 237.7L359.1 237.7L359.5 237.8L359.9 237.5L360.3 238.0L360.7 238.2L361.1 237.6L361.5 237.9L361.9 238.0L362.3 238.1L362.7 237.8L363.1 237.9L363.5 238.3L363.9 238.2L364.3 237.9L364.7 237.8L365.1 238.2L365.5 237.9L365.9 237.7L366.3 237.8L366.7 238.0L367.1 237.9L367.5 237.9L367.9 237.9L368.3 237.6L368.7 238.3L369.1 238.1L369.5 238.2L369.9 237.9L370.3 238.1L370.7 238.2L371.1 238.3L371.5 237.6L371.9 238.1L372.3 237.7L372.7 237.9L373.1 237.8L373.5 238.4L373.9 238.1L374.3 237.9L374.7 238.1L375.1 237.5L375.5 237.3L375.9 237.4L376.3 237.5L376.7 237.8L377.1 238.0L377.5 237.7L377.9 237.5L378.3 237.6L378.7 237.4L379.1 237.5L379.5 237.4L379.9 237.1L380.3 237.3L380.7 237.3L381.1 238.0L381.5 237.9L381.9 237.7L382.3 237.5L382.7 237.7L383.1 237.5L383.5 237.6L383.9 237.3L384.3 237.3L384.7 238.0L385.1 237.5L385.5 237.5L385.9 237.5L386.3 236.4L386.7 236.5L387.1 236.0L387.5 235.7L387.9 235.5L388.3 235.0L388.7 234.6L389.1 235.4L389.5 234.8L389.9 235.1L390.3 235.2L390.7 235.2L391.1 235.5L391.5 235.9L391.9 236.6L392.3 236.7L392.7 237.1L393.1 236.8L393.5 236.8L393.9 236.8L394.3 236.7L394.7 236.5L395.1 236.6L395.5 236.1L395.9 235.7L396.3 235.8L396.7 235.1L397.1 234.7L397.5 234.4L397.9 234.1L398.3 233.9L398.7 234.4L399.1 234.9L399.5 235.3L399.9 236.0L400.3 236.3L400.7 236.5L401.1 236.4L401.5 236.9L401.9 237.4L402.3 237.3L402.7 237.5L403.1 237.5L403.5 238.0L403.9 237.8L404.3 238.1L404.7 238.4L405.1 238.0L405.5 238.3L405.9 238.4L406.3 238.7L406.7 238.2L407.1 238.5L407.5 238.2L407.9 238.2L408.3 237.6L408.7 237.8L409.1 238.2L409.5 238.0L409.9 238.1L410.3 238.8L410.7 238.4L411.1 238.0L411.5 238.1L411.9 238.0L412.3 238.3L412.7 237.8L413.1 238.1L413.5 238.3L413.9 237.9L414.3 238.0L414.7 237.5L415.1 237.9L415.5 237.5L415.9 237.9L416.3 238.5L416.7 238.4L417.1 238.3L417.5 238.4L417.9 238.8L418.3 238.4L418.7 238.5L419.1 238.3L419.5 238.4L419.9 238.4L420.3 238.6L420.7 238.5L421.1 238.9L421.5 238.8L421.9 238.6L422.3 238.3L422.7 237.6L423.1 238.0L423.5 238.1L423.9 238.2L424.3 237.4L424.7 237.7L425.1 238.4L425.5 238.3L425.9 238.5L426.3 238.4L426.7 238.5L427.1 237.7L427.5 237.7L427.9 238.0L428.3 237.9L428.7 237.8L429.1 238.2L429.5 238.2L429.9 237.9L430.3 238.2L430.7 238.1L431.1 237.9L431.5 238.2L431.9 237.7L432.3 238.2L432.7 238.0L433.1 237.9L433.5 238.0L433.9 238.5L434.3 238.2L434.7 238.3L435.1 238.2L435.5 238.0L435.9 238.3L436.3 238.5L436.7 238.2L437.1 238.0L437.5 238.0L437.9 237.8L438.3 237.7L438.7 237.5L439.1 238.1L439.5 237.8L439.9 237.8L440.3 237.9L440.7 238.2L441.1 238.0L441.5 238.2L441.9 238.2L442.3 238.5L442.7 237.9L443.1 238.3L443.5 238.1L443.9 238.1L444.3 238.6L444.7 238.3L445.1 238.0L445.5 238.0L445.9 237.7L446.3 237.7L446.7 237.0L447.1 236.7L447.5 236.5L447.9 237.0L448.3 237.4L448.7 237.5L449.1 237.6L449.5 237.8L449.9 237.4L450.3 237.5L450.7 237.8L451.1 237.5L451.5 237.9L451.9 237.7L452.3 237.0L452.7 237.2L453.1 237.1L453.5 237.5L453.9 237.6L454.3 237.2L454.7 237.4L455.1 237.5L455.5 237.4L455.9 237.6L456.3 237.6L456.7 237.5L457.1 237.5L457.5 237.4L457.9 237.1L458.3 236.9L458.7 236.9L459.1 237.3L459.5 237.4L459.9 237.5L460.3 237.4L460.7 237.5L461.1 237.7L461.5 237.9L461.9 237.7L462.3 237.7L462.7 237.5L463.1 237.7L463.5 237.7L463.9 237.2L464.3 237.7"/><use href="#c-olive" y="0.25"/><use href="#c-olive" y="-0.25"/></g>
<path d="M48.4 238.1V234.2" stroke="#6aa81e" style="stroke-width:3.0;stroke-linecap:round"/>
<g stroke="#109618"><path id="c-green" d="M20.3 -8.0L20.5 189.4L20.7 192.4L21.1 195.3L21.4 196.8L21.5 197.0L21.9 197.7L22.3 198.9L22.7 200.0L23.1 200.6L23.4 200.9L23.5 201.1L23.9 201.2L24.3 201.6L24.7 201.5L25.1 201.6L25.5 201.8L25.9 202.0L26.3 202.3L26.7 202.6L26.9 202.6L27.1 203.2L27.5 203.0L27.9 203.5L28.3 203.6L28.7 203.2L29.1 203.7L29.5 203.1L29.9 203.7L30.3 203.4L30.7 203.0L31.1 202.7L31.5 203.2L31.9 203.0L32.3 203.5L32.7 203.0L33.1 203.2L33.5 203.4L33.9 203.4L34.3 203.5L34.7 203.4L35.0 203.7L35.1 203.3L35.5 203.7L35.9 203.3L36.3 203.6L36.7 203.3L37.1 203.4L37.5 203.5L37.9 203.5L38.3 202.8L38.7 203.0L39.1 202.9L39.5 203.5L39.9 203.1L40.3 203.6L40.7 203.4L41.1 203.1L41.5 203.3L41.9 202.9L42.3 203.2L42.7 203.1L43.1 203.2L43.5 202.6L43.9 203.1L44.3 202.9L44.7 202.3L45.1 203.2L45.5 203.2L45.9 202.7L46.3 203.2L46.7 203.0L47.1 203.5L47.5 203.6L47.9 203.6L48.3 203.2L48.7 203.2L49.1 202.8L49.5 203.0L49.9 203.0L50.3 202.8L50.7 203.2L51.1 203.2L51.5 203.2L51.9 203.4L52.3 202.8L52.7 202.9L53.1 202.4L53.5 202.8L53.9 202.9L54.3 203.4L54.7 203.3L55.1 203.4L55.5 203.6L55.9 203.6L56.3 203.8L56.7 203.5L57.1 203.3L57.5 203.2L57.9 203.5L58.3 202.8L58.7 202.8L59.1 202.7L59.5 203.2L59.9 203.1L60.3 203.6L60.7 203.2L61.1 203.4L61.5 203.4L61.9 203.5L62.3 202.9L62.7 203.1L63.1 203.1L63.5 202.7L63.9 203.3L64.3 203.2L64.7 203.3L65.1 203.0L65.5 203.3L65.9 203.3L66.3 203.4L66.7 202.9L67.1 203.0L67.5 203.2L67.9 202.5L68.3 202.4L68.7 202.4L69.1 202.1L69.5 202.5L69.9 203.0L70.3 202.6L70.7 202.9L71.1 203.3L71.5 203.2L71.9 203.2L72.3 203.1L72.7 203.3L73.1 203.4L73.5 203.6L73.9 203.5L74.3 203.7L74.7 203.1L75.1 203.7L75.5 203.3L75.9 203.4L76.3 203.1L76.7 203.2L77.1 202.9L77.5 203.1L77.9 202.9L78.3 203.3L78.7 203.7L79.1 203.7L79.5 203.3L79.9 203.3L80.3 203.1L80.7 203.1L81.1 203.1L81.5 203.6L81.9 203.7L82.3 204.1L82.7 204.3L83.1 203.6L83.5 203.8L83.9 203.4L84.3 203.0L84.7 203.1L85.1 203.2L85.5 203.8L85.9 203.5L86.3 203.4L86.7 203.4L87.1 203.2L87.5 203.3L87.9 203.3L88.3 203.0L88.7 203.2L89.1 204.1L89.5 203.5L89.9 203.3L90.3 203.4L90.7 202.8L91.1 202.8L91.5 202.6L91.9 201.5L92.3 201.2L92.7 200.9L93.1 200.8L93.5 200.6L93.9 200.8L94.3 201.0L94.7 200.8L95.1 200.8L95.5 200.7L95.9 200.1L96.3 200.1L96.7 199.7L97.1 199.6L97.5 199.1L97.9 198.7L98.3 198.7L98.7 198.0L99.1 197.6L99.5 198.1L99.9 198.6L100.3 199.2L100.7 200.2L101.1 201.4L101.5 201.8L101.9 202.4L102.3 202.6L102.7 203.0L103.1 202.9L103.5 202.8L103.9 202.9L104.3 203.3L104.7 202.5L105.1 202.5L105.5 203.0L105.9 202.6L106.3 203.4L106.7 202.7L107.1 202.8L107.5 203.0L107.9 203.5L108.3 203.6L108.7 203.6L109.1 203.5L109.5 203.5L109.9 202.6L110.3 202.9L110.7 203.1L111.1 202.7L111.5 203.2L111.9 203.6L112.3 203.6L112.7 203.3L113.1 203.6L113.5 203.2L113.9 203.2L114.3 202.7L114.7 202.9L115.1 203.0L115.5 203.6L115.9 202.8L116.3 202.9L116.7 203.5L117.1 203.4L117.5 202.8L117.9 203.4L118.3 203.3L118.7 203.5L119.1 202.6L119.5 202.7L119.9 203.0L120.3 203.0L120.7 202.7L121.1 202.9L121.5 202.6L121.9 203.2L122.3 202.9L122.7 203.3L123.1 203.2L123.5 203.0L123.9 203.3L124.3 203.5L124.7 203.4L125.1 203.6L125.5 203.5L125.9 203.2L126.3 203.2L126.7 202.8L127.1 202.8L127.5 203.0L127.9 202.9L128.3 202.6L128.7 202.9L129.1 202.9L129.5 203.0L129.9 203.5L130.3 203.1L130.7 203.1L131.1 203.3L131.5 203.1L131.9 203.1L132.3 202.7L132.7 203.0L133.1 202.9L133.5 202.9L133.9 203.0L134.3 203.2L134.7 203.6L135.1 204.0L135.5 203.6L135.9 203.8L136.3 203.3L136.7 202.8L137.1 203.0L137.5 203.2L137.9 203.2L138.3 202.7L138.7 203.4L139.1 202.8L139.5 202.8L139.9 202.9L140.0 203.5L140.3 203.4L140.7 203.7L141.1 203.1L141.5 203.5L141.9 203.4L142.3 203.5L142.7 203.1L143.1 203.3L143.5 202.8L143.9 202.5L144.3 202.3L144.7 203.0L145.1 202.9L145.5 202.8L145.9 203.4L146.3 203.3L146.7 203.4L147.1 203.2L147.5 203.3L147.9 203.3L148.3 203.1L148.7 202.8L149.1 202.9L149.5 202.7L149.9 202.1L150.3 202.4L150.7 202.1L151.1 202.8L151.5 202.7L151.9 203.0L152.3 203.1L152.7 203.0L153.1 203.2L153.5 202.8L153.9 203.0L154.3 203.2L154.7 203.1L155.1 203.1L155.5 203.0L155.9 202.9L156.3 203.2L156.7 203.1L157.1 203.3L157.5 203.2L157.9 202.7L158.3 202.6L158.7 202.7L159.1 202.8L159.5 202.6L159.9 203.5L160.3 203.3L160.7 203.8L161.1 203.1L161.5 203.4L161.9 203.3L162.3 203.3L162.7 203.6L163.1 203.4L163.5 203.5L163.9 203.5L164.3 202.9L164.7 203.1L165.1 203.0L165.5 203.5L165.9 203.3L166.3 203.4L166.7 203.5L167.1 203.4L167.5 203.9L167.9 203.5L168.3 203.3L168.7 203.7L169.1 203.8L169.5 203.5L169.9 203.4L170.0 203.3L170.3 203.2L170.7 202.9L171.1 203.2L171.5 203.0L171.9 203.7L172.3 203.1L172.7 203.5L173.1 203.2L173.5 202.8L173.9 202.3L174.3 202.6L174.7 202.3L175.1 202.3L175.5 202.4L175.9 202.5L176.3 202.5L176.7 202.2L177.1 202.2L177.5 202.5L177.9 202.4L178.3 202.7L178.7 202.1L179.1 202.3L179.5 202.4L179.9 202.0L180.0 202.4L180.3 202.2L180.7 202.1L181.1 202.2L181.5 201.4L181.9 201.3L182.3 201.1L182.7 201.4L183.1 201.7L183.5 201.3L183.9 201.4L184.3 200.8L184.7 201.0L185.1 200.5L185.5 200.3L185.9 200.5L186.0 200.0L186.3 200.0L186.7 199.8L187.1 199.9L187.5 199.7L187.9 199.3L188.3 199.5L188.7 199.4L189.0 199.2L189.1 199.0L189.5 199.1L189.9 198.1L190.3 197.7L190.7 197.1L191.1 196.2L191.3 195.8L191.5 195.8L191.9 194.3L192.3 192.6L192.5 191.9L192.7 191.9L193.1 191.5L193.5 191.1L193.9 190.8L194.0 190.6L194.3 190.5L194.7 190.3L195.0 189.1L195.1 189.6L195.2 189.0L195.4 189.0L195.5 189.0L195.6 188.9L195.8 189.0L195.9 189.3L196.0 189.1L196.2 189.0L196.3 188.5L196.4 188.8L196.6 188.1L196.7 188.5L196.8 187.8L197.0 187.9L197.1 188.0L197.2 187.4L197.4 187.4L197.5 187.6L197.6 187.6L197.8 187.4L197.9 186.9L198.0 186.8L198.1 186.2L198.2 186.3L198.3 186.6L198.4 186.2L198.6 186.1L198.7 185.8L198.8 186.0L199.0 185.3L199.1 185.5L199.2 185.4L199.4 184.8L199.5 184.5L199.6 184.2L199.8 184.1L199.9 183.6L200.0 183.5L200.2 183.7L200.3 182.8L200.4 182.7L200.5 182.3L200.6 182.7L200.7 182.2L200.8 181.7L201.0 181.3L201.1 181.5L201.2 181.0L201.4 180.4L201.5 179.9L201.6 179.8L201.8 179.4L201.9 179.1L202.0 178.4L202.2 177.8L202.3 177.7L202.4 177.7L202.6 176.7L202.7 176.4L202.8 176.3L203.0 175.3L203.1 174.8L203.2 174.8L203.4 173.7L203.5 173.4L203.6 172.9L203.8 171.9L203.9 170.9L204.0 170.2L204.2 168.7L204.3 168.5L204.4 167.9L204.6 167.2L204.7 166.6L204.8 166.1L205.0 164.5L205.1 163.6L205.2 162.6L205.4 161.0L205.5 160.0L205.6 159.3L205.8 157.2L205.9 156.5L206.0 155.4L206.2 152.8L206.3 151.7L206.4 151.0L206.5 149.9L206.6 148.6L206.7 147.6L206.8 145.8L207.0 142.8L207.1 141.6L207.2 140.1L207.4 136.5L207.5 133.8L207.6 131.6L207.8 126.3L207.9 123.7L208.0 120.2L208.2 112.6L208.3 108.5L208.4 103.8L208.6 93.8L208.7 88.5L208.8 82.6L209.0 70.2L209.1 62.9L209.2 54.1L209.4 35.4L209.5 25.9L209.6 17.4L209.8 -0.8L209.9 -7.7L210.0 -8.0L210.2 -8.0L210.3 -8.0L210.4 -8.0L210.6 -8.0L210.7 -8.0L210.8 -8.0L211.0 -8.0L211.1 -8.0L211.2 -8.0L211.4 -8.0L211.5 -8.0L211.6 -8.0L211.8 -8.0L211.9 -8.0L212.0 -8.0L212.2 -8.0L212.3 -8.0L212.4 -8.0L212.6 -8.0L212.7 -8.0L212.8 -8.0L213.0 -8.0L213.1 -8.0L213.2 -8.0L213.4 -8.0L213.5 -8.0L213.6 -8.0L213.8 -8.0L213.9 -8.0L214.0 -8.0L214.2 -8.0L214.3 -8.0L214.4 -8.0L214.6 -8.0L214.7 -8.0L214.8 -8.0L215.0 -8.0L215.1 -8.0L215.2 -8.0L215.4 -8.0L215.5 -8.0L215.6 -8.0L215.8 -8.0L215.9 -8.0L216.0 -8.0L216.2 -8.0L216.3 -8.0L216.4 -8.0L216.6 -8.0L216.7 -8.0L216.8 -8.0L217.0 -8.0L217.1 -8.0L217.2 -8.0L217.4 -8.0L217.5 -8.0L217.6 -8.0L217.8 -8.0L217.9 -8.0L218.0 -8.0L218.2 -8.0L218.3 -8.0L218.4 -8.0L218.6 -8.0L218.7 -8.0L218.8 -8.0L219.0 -8.0L219.1 -8.0L219.2 -8.0L219.4 -8.0L219.5 -8.0L219.6 -8.0L219.8 -8.0L219.9 -8.0L220.0 -8.0L220.2 -3.2L220.3 4.8L220.4 12.0L220.5 18.1L220.6 22.4L220.7 26.6L220.8 30.1L221.0 36.7L221.1 40.0L221.2 43.3L221.4 50.0L221.5 52.9L221.6 56.4L221.7 60.3L221.8 63.7L221.9 67.9L222.0 72.0L222.2 80.2L222.3 84.5L222.4 88.7L222.6 96.7L222.7 100.2L222.8 104.5L223.0 110.2L223.1 112.8L223.2 115.1L223.4 119.8L223.5 122.3L223.6 123.8L223.8 128.8L223.9 130.7L224.0 133.0L224.2 136.9L224.3 138.3L224.4 140.1L224.6 144.1L224.7 145.4L224.8 147.2L225.0 150.2L225.1 151.9L225.2 153.3L225.4 155.8L225.5 156.9L225.6 158.0L225.8 159.8L225.9 161.3L226.0 161.9L226.2 164.0L226.3 165.3L226.4 166.5L226.6 169.2L226.7 170.5L226.8 171.8L227.0 173.6L227.1 174.6L227.2 175.7L227.4 177.5L227.5 178.6L227.6 180.0L227.7 180.2L227.8 181.0L227.9 181.9L228.0 182.4L228.2 183.7L228.3 183.8L228.4 184.1L228.6 185.3L228.7 185.2L228.8 185.9L229.0 187.0L229.1 187.3L229.2 188.3L229.4 189.2L229.5 190.0L229.6 190.2L229.8 190.6L229.9 191.7L230.0 191.3L230.2 192.4L230.3 192.5L230.4 192.8L230.5 193.1L230.6 193.5L230.7 193.4L230.8 193.7L231.0 194.5L231.1 194.6L231.2 195.0L231.4 195.4L231.5 195.5L231.6 195.5L231.8 195.7L231.9 196.0L232.0 196.1L232.2 196.3L232.3 195.8L232.4 196.1L232.6 196.2L232.7 196.1L232.8 195.8L233.0 196.5L233.1 196.3L233.2 196.0L233.4 195.9L233.5 196.0L233.6 195.7L233.7 195.7L233.8 195.9L233.9 196.1L234.0 196.0L234.2 196.2L234.3 195.8L234.4 195.4L234.6 196.3L234.7 196.1L234.8 196.0L235.0 196.4L235.1 196.0L235.2 196.1L235.4 196.2L235.5 196.7L235.6 196.5L235.8 195.8L235.9 196.5L236.0 196.1L236.2 196.1L236.3 195.8L236.4 196.3L236.6 195.9L236.7 196.1L236.8 195.8L237.0 196.3L237.1 196.3L237.2 196.3L237.4 196.1L237.5 195.9L237.6 195.6L237.8 195.5L237.9 195.5L238.0 195.7L238.2 195.3L238.3 195.6L238.4 196.0L238.6 195.9L238.7 196.3L238.8 196.4L239.0 196.4L239.1 196.5L239.2 196.6L239.4 196.6L239.5 196.4L239.6 196.4L239.8 196.0L239.9 195.8L240.3 195.9L240.7 195.7L241.1 195.9L241.5 195.3L241.9 195.1L242.3 195.4L242.5 195.4L242.7 195.5L243.1 196.2L243.5 196.5L243.9 196.3L244.3 196.2L244.7 196.5L245.1 196.7L245.5 196.6L245.9 197.4L246.3 197.5L246.7 197.9L247.0 197.5L247.1 197.6L247.5 197.8L247.9 197.8L248.3 199.0L248.7 198.4L249.1 198.8L249.5 199.1L249.9 198.9L250.3 199.5L250.7 199.5L251.1 200.0L251.5 200.3L251.9 200.5L252.3 200.6L252.7 200.5L253.1 200.5L253.4 200.5L253.5 200.1L253.9 200.1L254.3 200.2L254.7 200.6L255.1 200.6L255.5 200.8L255.9 200.6L256.3 201.3L256.7 200.6L257.1 201.2L257.5 201.0L257.9 201.0L258.3 200.8L258.7 200.7L259.1 200.6L259.5 200.6L259.9 200.5L260.3 200.7L260.7 200.1L261.1 200.4L261.5 200.6L261.9 200.6L262.0 200.0L262.3 200.2L262.7 200.2L263.1 200.1L263.5 199.6L263.9 200.2L264.3 199.7L264.7 200.4L265.1 199.9L265.5 199.6L265.9 199.6L266.3 199.5L266.7 199.5L267.1 199.6L267.5 199.7L267.9 199.4L268.0 199.6L268.3 199.4L268.7 198.7L269.1 197.8L269.5 197.1L269.9 196.8L270.3 197.3L270.7 197.4L271.1 197.6L271.5 197.8L271.9 197.9L272.0 197.4L272.3 197.1L272.7 197.8L273.1 197.4L273.5 197.5L273.9 197.3L274.3 197.2L274.7 197.1L275.1 197.1L275.5 197.6L275.9 197.4L276.3 197.3L276.7 197.1L277.1 197.5L277.5 197.7L277.9 198.0L278.3 197.7L278.7 198.5L279.0 198.9L279.1 198.4L279.5 198.6L279.9 198.7L280.3 198.4L280.7 198.8L281.1 198.7L281.5 199.1L281.9 199.5L282.3 199.8L282.7 200.1L283.1 200.0L283.5 200.5L283.9 200.1L284.3 200.5L284.7 200.2L285.0 200.0L285.1 200.2L285.5 200.0L285.9 200.2L286.3 200.5L286.7 201.0L287.1 201.3L287.5 201.4L287.9 201.4L288.3 201.1L288.7 201.4L289.1 201.2L289.5 201.2L289.9 201.2L290.0 201.3L290.3 201.7L290.7 201.5L291.1 201.9L291.5 202.2L291.9 201.8L292.3 201.7L292.7 201.8L293.1 201.8L293.5 201.9L293.9 202.1L294.3 201.7L294.7 201.6L295.0 201.1L295.1 201.0L295.5 201.1L295.9 200.9L296.3 201.5L296.7 201.2L297.1 201.3L297.5 201.1L297.9 201.1L298.3 201.0L298.7 201.1L299.1 200.8L299.5 201.2L299.9 201.4L300.3 200.4L300.7 201.0L301.1 200.5L301.5 200.6L301.9 200.2L302.3 201.0L302.7 200.5L303.1 200.8L303.5 201.2L303.9 200.7L304.3 200.6L304.7 201.2L305.1 201.3L305.5 201.5L305.9 201.7L306.3 201.7L306.7 202.4L307.1 202.4L307.5 202.0L307.9 202.3L308.3 202.3L308.7 202.6L309.1 201.9L309.5 202.3L309.9 201.8L310.3 201.7L310.7 201.9L311.1 201.9L311.5 202.6L311.9 202.2L312.3 202.0L312.7 202.0L313.1 202.2L313.5 201.6L313.9 201.4L314.3 202.1L314.7 202.0L315.1 201.7L315.5 201.6L315.9 201.6L316.3 200.4L316.7 201.0L317.1 200.6L317.5 200.8L317.9 200.8L318.3 201.7L318.7 201.1L319.1 201.6L319.5 200.9L319.9 201.6L320.3 201.9L320.7 201.6L321.1 201.6L321.5 202.3L321.9 202.6L322.3 202.8L322.7 202.5L323.1 202.8L323.5 202.5L323.9 203.3L324.3 202.7L324.7 203.1L325.1 202.7L325.5 202.7L325.9 203.1L326.3 202.5L326.7 202.9L327.1 202.4L327.5 202.1L327.9 202.0L328.3 202.4L328.7 202.1L329.1 202.1L329.5 202.0L329.9 202.7L330.0 202.8L330.3 202.7L330.7 203.0L331.1 202.3L331.5 202.9L331.9 203.0L332.3 202.8L332.7 202.5L333.1 202.5L333.5 202.2L333.9 202.1L334.3 202.0L334.7 202.4L335.1 202.3L335.5 202.3L335.9 202.7L336.3 202.3L336.7 202.2L337.1 201.8L337.5 202.0L337.9 202.3L338.3 202.2L338.7 202.0L339.1 201.9L339.5 201.9L339.9 202.1L340.3 202.1L340.7 201.9L341.1 203.1L341.5 203.0L341.9 202.6L342.3 202.8L342.7 202.0L343.1 202.5L343.5 202.3L343.9 202.5L344.3 202.4L344.7 202.6L345.1 202.9L345.5 203.0L345.9 202.9L346.3 202.8L346.7 202.5L347.1 202.9L347.5 202.6L347.9 202.6L348.3 202.7L348.7 202.6L349.1 202.6L349.5 202.2L349.9 202.5L350.3 202.3L350.7 202.4L351.1 202.2L351.5 202.5L351.9 202.5L352.3 202.8L352.7 202.3L353.1 202.3L353.5 203.0L353.9 202.8L354.3 202.3L354.7 202.9L355.1 203.0L355.5 202.9L355.9 202.1L356.3 202.6L356.7 202.3L357.1 202.3L357.5 202.0L357.9 202.7L358.3 202.3L358.7 202.6L359.1 202.7L359.5 202.6L359.9 202.4L360.3 202.1L360.7 202.2L361.1 202.2L361.5 201.9L361.9 202.8L362.3 202.5L362.7 202.6L363.1 202.6L363.5 202.4L363.9 202.4L364.3 202.2L364.7 202.7L365.1 202.7L365.5 202.4L365.9 202.1L366.3 202.6L366.7 202.2L367.1 201.9L367.5 201.7L367.9 202.0L368.3 202.2L368.7 201.7L369.1 201.7L369.5 201.9L369.9 202.0L370.3 202.2L370.7 202.4L371.1 202.2L371.5 202.6L371.9 202.2L372.3 202.6L372.7 202.5L373.1 202.4L373.5 202.5L373.9 202.5L374.3 202.9L374.7 202.3L375.1 202.8L375.5 202.7L375.9 202.4L376.3 202.8L376.7 201.9L377.1 202.4L377.5 202.2L377.9 202.1L378.3 202.2L378.7 201.9L379.1 201.9L379.5 202.2L379.9 201.8L380.3 201.6L380.7 202.0L381.1 202.0L381.5 202.0L381.9 202.4L382.3 202.1L382.7 202.1L383.1 202.2L383.5 202.1L383.9 202.1L384.3 201.6L384.7 202.1L385.1 201.6L385.5 201.3L385.9 201.0L386.3 200.1L386.7 200.4L387.1 199.4L387.5 199.3L387.9 198.6L388.3 199.1L388.7 198.9L389.1 199.3L389.5 200.0L389.9 200.2L390.3 199.9L390.7 200.3L391.1 200.8L391.5 200.9L391.9 201.3L392.3 201.2L392.7 201.2L393.1 201.6L393.5 201.9L393.9 202.2L394.3 202.2L394.7 202.2L395.1 201.8L395.5 201.4L395.9 201.3L396.3 200.9L396.7 200.5L397.1 200.2L397.5 200.3L397.9 200.2L398.3 200.0L398.7 199.1L399.1 199.5L399.5 198.8L399.9 199.0L400.3 199.4L400.7 199.3L401.1 199.7L401.5 200.1L401.9 200.9L402.3 201.1L402.7 200.9L403.1 201.4L403.5 201.7L403.9 201.9L404.3 201.9L404.7 202.4L405.1 202.1L405.5 202.4L405.9 201.8L406.3 202.3L406.7 202.3L407.1 202.7L407.5 202.0L407.9 202.8L408.3 202.9L408.7 202.6L409.1 202.8L409.5 202.9L409.9 202.6L410.3 202.6L410.7 202.8L411.1 202.7L411.5 203.0L411.9 202.8L412.3 202.4L412.7 202.1L413.1 202.4L413.5 202.1L413.9 201.8L414.3 202.1L414.7 202.6L415.1 202.0L415.5 202.3L415.9 202.7L416.3 202.8L416.7 202.4L417.1 202.6L417.5 202.8L417.9 203.1L418.3 202.8L418.7 202.3L419.1 203.1L419.5 202.9L419.9 202.9L420.3 202.8L420.7 203.2L421.1 202.9L421.5 202.9L421.9 202.9L422.3 202.9L422.7 203.0L423.1 203.1L423.5 202.5L423.9 202.6L424.3 202.3L424.7 202.7L425.1 202.2L425.5 202.0L425.9 202.4L426.3 202.2L426.7 202.2L427.1 202.3L427.5 202.1L427.9 202.1L428.3 203.0L428.7 202.6L429.1 202.4L429.5 202.7L429.9 202.8L430.3 202.2L430.7 202.6L431.1 202.8L431.5 202.7L431.9 203.1L432.3 202.8L432.7 202.9L433.1 202.9L433.5 203.0L433.9 202.9L434.3 202.9L434.7 203.1L435.1 202.9L435.5 203.9L435.9 203.2L436.3 203.1L436.7 203.1L437.1 203.0L437.5 202.7L437.9 202.3L438.3 202.0L438.7 202.4L439.1 202.2L439.5 202.3L439.9 202.5L440.3 202.6L440.7 203.0L441.1 202.8L441.5 202.5L441.9 203.0L442.3 202.9L442.7 202.1L443.1 202.5L443.5 202.3L443.9 202.3L444.3 202.6L444.7 202.8L445.1 203.0L445.5 203.2L445.9 202.8L446.3 202.5L446.7 202.4L447.1 200.8L447.5 200.5L447.9 200.6L448.3 201.2L448.7 201.6L449.1 201.2L449.5 202.0L449.9 201.6L450.3 202.5L450.7 201.8L451.1 202.2L451.5 201.8L451.9 201.9L452.3 201.4L452.7 201.5L453.1 201.4L453.5 201.5L453.9 201.8L454.3 201.6L454.7 201.7L455.1 201.5L455.5 201.7L455.9 201.6L456.3 201.8L456.7 201.6L457.1 201.3L457.5 201.5L457.9 201.8L458.3 201.5L458.7 201.4L459.1 202.2L459.5 201.8L459.9 201.8L460.3 202.2L460.7 201.4L461.1 201.7L461.5 201.4L461.9 202.0L462.3 202.1L462.7 202.0L463.1 202.0L463.5 202.2L463.9 202.2L464.3 202.5"/><use href="#c-green" y="0.25"/><use href="#c-green" y="-0.25"/></g>
<path d="M48.4 203.2V199.5" stroke="#109618" style="stroke-width:3.0;stroke-linecap:round"/>
<g stroke="#128c94"><path id="c-teal" d="M20.3 -8.0L20.5 151.5L20.7 154.8L21.1 157.7L21.4 158.7L21.5 159.6L21.9 161.2L22.3 162.1L22.7 163.1L23.1 163.2L23.4 163.7L23.5 163.7L23.9 163.3L24.3 163.6L24.7 164.1L25.1 164.9L25.5 164.5L25.9 164.5L26.3 164.9L26.7 164.8L26.9 164.7L27.1 165.1L27.5 165.9L27.9 165.3L28.3 165.4L28.7 165.8L29.1 165.5L29.5 165.8L29.9 165.3L30.3 165.4L30.7 165.5L31.1 165.2L31.5 165.2L31.9 165.0L32.3 165.2L32.7 165.0L33.1 165.1L33.5 165.4L33.9 165.7L34.3 165.7L34.7 165.5L35.0 165.3L35.1 165.2L35.5 165.1L35.9 165.3L36.3 165.2L36.7 165.4L37.1 164.9L37.5 165.0L37.9 165.2L38.3 164.6L38.7 165.0L39.1 165.3L39.5 165.4L39.9 165.1L40.3 165.6L40.7 165.6L41.1 165.5L41.5 165.6L41.9 165.2L42.3 165.7L42.7 165.4L43.1 165.1L43.5 165.4L43.9 165.3L44.3 164.9L44.7 164.6L45.1 164.7L45.5 165.0L45.9 164.5L46.3 165.3L46.7 165.3L47.1 165.1L47.5 165.5L47.9 165.4L48.3 165.3L48.7 165.8L49.1 165.7L49.5 165.2L49.9 164.9L50.3 164.8L50.7 165.0L51.1 164.6L51.5 165.2L51.9 164.4L52.3 164.6L52.7 164.6L53.1 164.6L53.5 165.0L53.9 164.8L54.3 165.1L54.7 164.8L55.1 164.5L55.5 164.8L55.9 164.4L56.3 164.2L56.7 164.7L57.1 164.6L57.5 164.9L57.9 165.4L58.3 165.3L58.7 165.5L59.1 165.1L59.5 165.4L59.9 165.3L60.3 164.8L60.7 165.2L61.1 165.3L61.5 165.4L61.9 165.7L62.3 166.2L62.7 165.3L63.1 165.2L63.5 165.1L63.9 164.9L64.3 164.4L64.7 165.0L65.1 165.2L65.5 165.5L65.9 165.2L66.3 165.2L66.7 165.8L67.1 165.5L67.5 165.6L67.9 165.4L68.3 165.4L68.7 165.3L69.1 165.5L69.5 165.2L69.9 165.9L70.3 165.4L70.7 165.0L71.1 164.8L71.5 164.9L71.9 164.8L72.3 164.7L72.7 165.2L73.1 165.1L73.5 164.7L73.9 165.1L74.3 165.0L74.7 165.2L75.1 164.8L75.5 165.5L75.9 165.1L76.3 165.6L76.7 165.1L77.1 165.6L77.5 165.3L77.9 165.7L78.3 165.2L78.7 164.9L79.1 164.8L79.5 164.7L79.9 164.9L80.3 164.8L80.7 164.9L81.1 165.3L81.5 165.6L81.9 165.1L82.3 165.5L82.7 165.7L83.1 164.9L83.5 164.8L83.9 165.0L84.3 165.0L84.7 164.8L85.1 164.8L85.5 165.1L85.9 164.9L86.3 164.5L86.7 164.5L87.1 164.8L87.5 165.2L87.9 165.2L88.3 165.2L88.7 165.5L89.1 165.0L89.5 164.7L89.9 164.5L90.3 164.5L90.7 164.0L91.1 163.9L91.5 163.6L91.9 163.6L92.3 162.6L92.7 162.2L93.1 161.9L93.5 162.1L93.9 161.8L94.3 161.1L94.7 161.3L95.1 161.6L95.5 161.7L95.9 162.0L96.3 161.8L96.7 161.4L97.1 161.8L97.5 161.6L97.9 160.5L98.3 159.9L98.7 159.7L99.1 158.9L99.5 159.0L99.9 158.6L100.3 159.3L100.7 159.5L101.1 160.3L101.5 161.2L101.9 161.9L102.3 162.4L102.7 163.4L103.1 163.3L103.5 164.2L103.9 164.0L104.3 164.2L104.7 164.6L105.1 164.9L105.5 165.0L105.9 164.7L106.3 164.9L106.7 165.3L107.1 165.4L107.5 165.3L107.9 165.6L108.3 165.2L108.7 165.4L109.1 165.4L109.5 165.2L109.9 165.0L110.3 165.2L110.7 165.1L111.1 165.1L111.5 164.7L111.9 165.0L112.3 165.2L112.7 164.8L113.1 164.9L113.5 164.8L113.9 165.0L114.3 164.4L114.7 165.1L115.1 164.8L115.5 164.6L115.9 164.8L116.3 165.0L116.7 165.0L117.1 165.1L117.5 165.3L117.9 165.1L118.3 165.2L118.7 165.3L119.1 165.0L119.5 164.6L119.9 164.8L120.3 165.0L120.7 164.5L121.1 164.8L121.5 165.0L121.9 165.2L122.3 165.0L122.7 165.1L123.1 165.5L123.5 165.2L123.9 164.9L124.3 165.2L124.7 165.1L125.1 165.4L125.5 164.6L125.9 164.9L126.3 165.1L126.7 164.5L127.1 164.6L127.5 164.8L127.9 164.8L128.3 164.7L128.7 164.8L129.1 164.4L129.5 164.5L129.9 165.1L130.3 164.6L130.7 164.9L131.1 164.9L131.5 165.1L131.9 164.9L132.3 164.9L132.7 165.1L133.1 165.0L133.5 164.7L133.9 164.9L134.3 165.4L134.7 165.2L135.1 164.9L135.5 164.5L135.9 164.7L136.3 165.3L136.7 165.1L137.1 165.2L137.5 164.5L137.9 164.6L138.3 164.9L138.7 164.7L139.1 165.1L139.5 164.9L139.9 165.2L140.0 165.0L140.3 164.8L140.7 164.9L141.1 164.7L141.5 164.4L141.9 164.1L142.3 164.2L142.7 163.8L143.1 164.0L143.5 164.5L143.9 164.8L144.3 165.2L144.7 164.9L145.1 164.6L145.5 164.6L145.9 164.4L146.3 164.6L146.7 164.4L147.1 164.2L147.5 164.2L147.9 164.4L148.3 164.5L148.7 164.3L149.1 164.9L149.5 164.6L149.9 165.0L150.3 164.9L150.7 165.2L151.1 164.8L151.5 164.8L151.9 164.7L152.3 164.8L152.7 164.5L153.1 164.1L153.5 164.2L153.9 164.5L154.3 164.4L154.7 164.4L155.1 164.0L155.5 164.0L155.9 164.0L156.3 163.7L156.7 164.6L157.1 164.1L157.5 164.6L157.9 164.3L158.3 164.5L158.7 164.5L159.1 164.3L159.5 164.0L159.9 164.1L160.3 164.5L160.7 164.3L161.1 164.3L161.5 164.4L161.9 163.6L162.3 164.2L162.7 164.5L163.1 164.7L163.5 164.6L163.9 164.4L164.3 164.7L164.7 164.7L165.1 164.0L165.5 163.8L165.9 163.7L166.3 163.5L166.7 163.0L167.0 162.9L167.1 163.2L167.5 163.4L167.9 163.7L168.3 163.6L168.7 163.8L169.1 164.1L169.5 164.5L169.9 164.1L170.3 163.8L170.7 164.2L171.1 164.1L171.5 164.1L171.9 164.1L172.3 163.9L172.7 163.3L173.1 163.3L173.5 163.6L173.9 163.8L174.3 164.3L174.7 164.1L175.1 163.9L175.5 163.9L175.9 163.8L176.3 163.5L176.7 163.3L177.1 163.2L177.5 163.2L177.9 162.8L178.3 162.8L178.7 162.6L179.1 162.6L179.5 162.5L179.9 162.7L180.0 162.8L180.3 162.5L180.7 163.4L181.1 163.5L181.5 163.5L181.9 163.7L182.3 163.5L182.7 163.7L183.1 163.6L183.5 163.9L183.9 163.7L184.3 163.1L184.7 162.9L185.0 163.0L185.1 162.7L185.5 162.5L185.9 162.0L186.3 161.8L186.7 161.7L187.1 161.5L187.5 161.1L187.9 160.5L188.3 160.2L188.7 159.6L189.1 158.8L189.5 158.2L189.7 157.9L189.9 157.5L190.3 157.2L190.7 156.6L191.1 155.8L191.5 154.7L191.9 154.1L192.3 153.8L192.5 153.5L192.7 153.4L193.1 153.2L193.5 152.6L193.9 152.9L194.3 151.9L194.7 151.4L195.0 151.6L195.1 151.0L195.2 151.3L195.4 150.9L195.5 150.7L195.6 150.4L195.8 149.9L195.9 149.9L196.0 150.1L196.2 149.8L196.3 149.5L196.4 149.4L196.6 149.3L196.7 149.4L196.8 149.6L197.0 149.6L197.1 149.4L197.2 149.6L197.4 149.2L197.5 149.2L197.6 148.5L197.8 148.7L197.9 148.8L198.0 148.2L198.2 148.6L198.3 148.3L198.4 148.1L198.6 147.6L198.7 147.6L198.8 147.1L199.0 146.9L199.1 147.1L199.2 147.1L199.4 146.5L199.5 147.0L199.6 147.0L199.8 146.9L199.9 146.5L200.0 146.9L200.2 146.5L200.3 146.4L200.4 145.9L200.6 145.5L200.7 145.3L200.8 145.1L201.0 145.1L201.1 144.4L201.2 144.1L201.4 143.7L201.5 143.2L201.6 142.5L201.8 142.4L201.9 142.4L202.0 142.8L202.2 142.3L202.3 141.7L202.4 141.5L202.5 141.4L202.6 141.3L202.7 140.9L202.8 141.0L203.0 140.2L203.1 140.3L203.2 140.2L203.4 138.8L203.5 139.1L203.6 139.0L203.8 138.7L203.9 138.5L204.0 138.3L204.2 137.7L204.3 137.2L204.4 136.6L204.6 135.9L204.7 135.2L204.8 134.7L205.0 133.6L205.1 133.2L205.2 133.0L205.4 131.3L205.5 131.0L205.6 129.9L205.8 129.4L205.9 128.7L206.0 127.8L206.2 126.6L206.3 125.5L206.4 125.3L206.6 124.2L206.7 123.5L206.8 122.7L207.0 121.6L207.1 120.3L207.2 119.3L207.4 116.5L207.5 115.2L207.6 114.0L207.8 109.7L207.9 107.1L208.0 105.1L208.2 100.5L208.3 97.5L208.4 94.0L208.6 87.3L208.7 83.1L208.8 79.5L209.0 70.1L209.1 65.0L209.2 59.0L209.4 45.8L209.5 39.3L209.6 32.1L209.8 17.8L209.9 9.8L210.0 1.0L210.2 -8.0L210.3 -8.0L210.4 -8.0L210.6 -8.0L210.7 -8.0L210.8 -8.0L211.0 -8.0L211.1 -8.0L211.2 -8.0L211.4 -8.0L211.5 -8.0L211.6 -8.0L211.8 -8.0L211.9 -8.0L212.0 -8.0L212.2 -8.0L212.3 -8.0L212.4 -8.0L212.6 -8.0L212.7 -8.0L212.8 -8.0L213.0 -8.0L213.1 -8.0L213.2 -8.0L213.4 -8.0L213.5 -8.0L213.6 -8.0L213.8 -8.0L213.9 -8.0L214.0 -8.0L214.2 -8.0L214.3 -8.0L214.4 -8.0L214.6 -8.0L214.7 -8.0L214.8 -8.0L215.0 -8.0L215.1 -8.0L215.2 -8.0L215.4 -8.0L215.5 -8.0L215.6 -8.0L215.8 -8.0L215.9 -8.0L216.0 -8.0L216.2 -8.0L216.3 -8.0L216.4 -8.0L216.6 -8.0L216.7 -8.0L216.8 -8.0L217.0 -8.0L217.1 -8.0L217.2 -8.0L217.4 -8.0L217.5 -8.0L217.6 -8.0L217.8 -8.0L217.9 -8.0L218.0 -8.0L218.2 -8.0L218.3 -8.0L218.4 -8.0L218.6 -8.0L218.7 -8.0L218.8 -8.0L219.0 -8.0L219.1 -8.0L219.2 -8.0L219.4 -8.0L219.5 -8.0L219.6 -8.0L219.8 -8.0L219.9 -8.0L220.0 -8.0L220.2 -8.0L220.3 -8.0L220.4 -8.0L220.6 -8.0L220.7 -8.0L220.8 -8.0L221.0 -8.0L221.1 -8.0L221.2 -8.0L221.4 -8.0L221.5 -8.0L221.6 -8.0L221.8 -8.0L221.9 -8.0L222.0 -8.0L222.2 -8.0L222.3 -8.0L222.4 -8.0L222.6 -8.0L222.7 -8.0L222.8 -8.0L223.0 -8.0L223.1 -8.0L223.2 -3.2L223.4 12.6L223.5 18.1L223.6 21.3L223.8 27.1L223.9 28.7L224.0 31.5L224.2 35.9L224.3 37.2L224.4 38.9L224.6 42.7L224.7 44.4L224.8 46.2L225.0 49.6L225.1 51.7L225.2 53.5L225.4 57.8L225.5 60.0L225.6 62.9L225.8 68.6L225.9 72.2L226.0 75.7L226.2 82.9L226.3 86.1L226.4 90.3L226.6 97.5L226.7 101.1L226.8 104.0L227.0 110.2L227.1 113.1L227.2 116.2L227.4 121.1L227.5 124.0L227.6 126.3L227.8 131.2L227.9 132.9L228.0 134.3L228.2 137.3L228.3 138.4L228.4 139.6L228.6 141.3L228.7 142.0L228.8 142.7L229.0 144.4L229.1 145.0L229.2 145.9L229.4 146.9L229.5 146.9L229.6 147.1L229.8 148.3L229.9 148.7L230.0 148.8L230.2 149.6L230.3 150.4L230.4 150.7L230.6 150.9L230.7 151.6L230.8 151.7L231.0 152.1L231.1 152.4L231.2 152.5L231.4 153.2L231.5 152.8L231.6 152.8L231.8 153.3L231.9 153.9L232.0 154.4L232.2 154.4L232.3 154.3L232.4 154.2L232.6 154.0L232.7 154.0L232.8 153.7L233.0 154.3L233.1 154.4L233.2 154.7L233.4 154.9L233.5 155.3L233.6 155.5L233.8 156.0L233.9 155.9L234.0 156.0L234.2 156.1L234.3 156.1L234.4 155.7L234.6 156.1L234.7 156.2L234.8 156.9L235.0 156.6L235.1 157.2L235.2 156.7L235.4 156.8L235.5 156.4L235.6 156.4L235.8 156.4L235.9 156.4L236.0 156.2L236.2 156.3L236.3 156.3L236.4 156.1L236.6 155.8L236.7 155.6L236.8 156.2L237.0 155.6L237.1 156.4L237.2 156.3L237.4 155.8L237.5 156.1L237.6 155.7L237.8 156.1L237.9 155.6L238.0 155.5L238.2 155.6L238.3 155.9L238.4 155.7L238.6 156.4L238.7 155.7L238.8 156.2L239.0 155.6L239.1 155.5L239.2 155.4L239.4 155.3L239.5 155.6L239.6 155.9L239.8 155.8L239.9 155.6L240.3 155.8L240.7 155.4L241.1 154.7L241.5 155.2L241.9 154.7L242.3 155.0L242.7 155.3L243.1 155.1L243.5 155.1L243.9 155.3L244.3 155.1L244.6 155.1L244.7 154.8L245.1 154.9L245.5 155.4L245.9 155.2L246.3 155.8L246.7 156.2L247.1 156.6L247.5 157.1L247.9 157.4L248.3 158.0L248.7 158.0L249.0 158.4L249.1 158.1L249.5 158.8L249.9 159.0L250.3 159.0L250.7 159.2L251.1 159.6L251.5 160.1L251.9 159.9L252.3 160.4L252.7 161.1L253.1 161.1L253.5 161.0L253.9 160.8L254.3 161.1L254.7 160.7L255.1 161.0L255.5 160.8L255.9 161.3L256.3 160.7L256.7 161.3L257.1 161.2L257.5 161.3L257.9 161.6L258.3 161.3L258.7 161.8L259.1 161.3L259.5 161.2L259.9 161.9L260.3 161.4L260.7 161.5L261.1 161.5L261.5 161.3L261.9 161.5L262.0 161.5L262.3 160.9L262.7 160.9L263.1 160.8L263.5 160.5L263.9 160.4L264.3 160.5L264.7 160.3L265.1 160.6L265.5 160.7L265.9 160.6L266.3 160.6L266.7 160.4L267.1 160.4L267.5 160.4L267.9 160.2L268.0 159.9L268.3 159.8L268.7 159.1L269.1 158.0L269.5 157.5L269.9 157.2L270.3 157.4L270.7 158.5L271.1 158.7L271.5 158.7L271.9 158.3L272.0 158.6L272.3 158.3L272.7 158.3L273.1 157.8L273.5 157.8L273.9 158.1L274.3 157.8L274.7 157.9L275.1 158.3L275.5 158.4L275.9 158.4L276.3 158.9L276.7 158.4L277.1 158.9L277.5 159.0L277.9 159.6L278.3 159.6L278.7 159.2L279.0 159.4L279.1 159.6L279.5 159.7L279.9 159.9L280.3 160.2L280.7 160.5L281.1 160.2L281.5 160.0L281.9 160.4L282.3 160.8L282.7 161.1L283.1 161.6L283.5 161.8L283.9 161.8L284.3 161.6L284.7 161.6L285.0 161.4L285.1 161.7L285.5 161.9L285.9 162.4L286.3 162.4L286.7 162.5L287.1 162.7L287.5 162.5L287.9 162.9L288.3 163.0L288.7 162.7L289.1 163.3L289.5 163.0L289.9 163.0L290.0 163.1L290.3 162.9L290.7 163.3L291.1 163.5L291.5 163.0L291.9 163.5L292.3 163.7L292.7 163.8L293.1 163.9L293.5 164.0L293.9 163.8L294.3 164.1L294.7 163.9L295.0 164.0L295.1 163.9L295.5 163.6L295.9 163.5L296.3 163.4L296.7 163.3L297.1 162.6L297.5 162.6L297.9 162.4L298.3 162.5L298.7 162.2L299.1 162.2L299.5 162.0L299.9 162.2L300.3 161.7L300.7 161.5L301.1 161.2L301.5 161.1L301.9 161.0L302.3 160.9L302.7 160.9L303.1 161.0L303.5 161.8L303.9 162.1L304.3 162.5L304.7 163.0L305.1 163.3L305.5 163.8L305.9 163.8L306.3 163.4L306.7 163.6L307.1 163.5L307.5 163.6L307.9 163.7L308.3 164.4L308.7 164.1L309.1 163.9L309.5 164.0L309.9 164.1L310.3 164.1L310.7 164.6L311.1 163.9L311.5 164.2L311.9 164.3L312.3 164.3L312.7 163.6L313.1 164.2L313.5 163.9L313.9 164.0L314.3 163.6L314.7 163.7L315.1 163.7L315.5 162.9L315.9 162.2L316.3 161.7L316.7 162.2L317.1 162.2L317.5 161.6L317.9 161.9L318.3 161.3L318.7 161.5L319.1 161.9L319.5 161.7L319.9 162.3L320.3 162.6L320.7 162.6L321.1 163.2L321.5 163.9L321.9 164.1L322.3 164.6L322.7 164.7L323.1 164.3L323.5 165.0L323.9 164.9L324.3 164.8L324.7 165.0L325.1 164.9L325.5 164.9L325.9 164.7L326.3 164.8L326.7 164.8L327.1 164.9L327.5 164.6L327.9 164.4L328.3 164.1L328.7 164.4L329.1 163.7L329.5 164.2L329.9 164.7L330.0 164.4L330.3 164.6L330.7 164.8L331.1 164.7L331.5 164.4L331.9 164.9L332.3 164.8L332.7 165.3L333.1 165.4L333.5 165.1L333.9 165.2L334.3 165.0L334.7 165.4L335.1 164.9L335.5 164.8L335.9 164.8L336.3 164.9L336.7 164.8L337.1 164.7L337.5 164.7L337.9 164.9L338.3 165.0L338.7 164.8L339.1 164.8L339.5 164.8L339.9 165.0L340.3 164.7L340.7 164.5L341.1 164.6L341.5 164.6L341.9 164.8L342.3 164.6L342.7 164.7L343.1 165.3L343.5 165.2L343.9 165.0L344.3 165.5L344.7 165.1L345.1 165.0L345.5 165.2L345.9 164.7L346.3 164.9L346.7 165.0L347.1 165.0L347.5 164.7L347.9 164.7L348.3 164.8L348.7 165.1L349.1 164.4L349.5 164.9L349.9 164.8L350.3 165.0L350.7 164.6L351.1 165.1L351.5 164.7L351.9 165.0L352.3 164.8L352.7 164.4L353.1 164.9L353.5 165.1L353.9 165.4L354.3 165.2L354.7 165.3L355.1 165.7L355.5 165.5L355.9 165.6L356.3 165.5L356.7 164.9L357.1 164.7L357.5 164.5L357.9 164.3L358.3 164.9L358.7 165.2L359.1 165.4L359.5 165.1L359.9 165.5L360.3 164.9L360.7 165.0L361.1 164.9L361.5 164.9L361.9 165.0L362.3 164.8L362.7 164.9L363.1 165.1L363.5 165.1L363.9 164.9L364.3 165.2L364.7 165.0L365.1 165.3L365.5 165.3L365.9 164.9L366.3 165.0L366.7 165.3L367.1 164.8L367.5 164.6L367.9 164.3L368.3 164.2L368.7 164.2L369.1 164.1L369.5 164.7L369.9 164.4L370.3 164.7L370.7 164.9L371.1 165.0L371.5 165.3L371.9 165.4L372.3 164.7L372.7 164.5L373.1 164.6L373.5 164.5L373.9 164.8L374.3 164.5L374.7 165.0L375.1 164.4L375.5 164.9L375.9 164.9L376.3 165.3L376.7 164.7L377.1 165.1L377.5 165.2L377.9 164.8L378.3 165.0L378.7 164.8L379.1 164.7L379.5 164.6L379.9 164.9L380.3 164.7L380.7 164.4L381.1 164.7L381.5 164.2L381.9 164.6L382.3 164.4L382.7 164.2L383.1 164.1L383.5 164.2L383.9 164.0L384.3 164.0L384.7 163.7L385.1 164.0L385.5 162.7L385.9 162.7L386.3 162.6L386.7 162.3L387.1 162.1L387.5 161.3L387.9 161.6L388.3 160.9L388.7 161.6L389.1 162.0L389.5 162.1L389.9 161.9L390.3 162.3L390.7 162.3L391.1 162.9L391.5 163.0L391.9 163.4L392.3 163.3L392.7 163.6L393.1 163.5L393.5 163.5L393.9 164.0L394.3 163.9L394.7 163.3L395.1 163.8L395.5 163.5L395.9 163.4L396.3 162.9L396.7 162.1L397.1 162.0L397.5 161.2L397.9 161.1L398.3 161.0L398.7 161.5L399.1 161.4L399.5 161.7L399.9 162.2L400.3 162.2L400.7 162.9L401.1 163.0L401.5 162.9L401.9 163.2L402.3 163.5L402.7 163.8L403.1 164.1L403.5 163.9L403.9 164.0L404.3 164.7L404.7 165.2L405.1 165.0L405.5 164.8L405.9 164.8L406.3 165.0L406.7 164.9L407.1 164.7L407.5 165.3L407.9 165.6L408.3 164.8L408.7 164.8L409.1 164.7L409.5 164.4L409.9 164.8L410.3 164.2L410.7 164.6L411.1 164.5L411.5 164.6L411.9 164.1L412.3 164.6L412.7 164.7L413.1 164.9L413.5 164.9L413.9 164.7L414.3 165.1L414.7 165.1L415.1 165.1L415.5 164.6L415.9 164.9L416.3 164.6L416.7 164.8L417.1 165.1L417.5 164.6L417.9 165.6L418.3 165.4L418.7 165.2L419.1 165.4L419.5 165.5L419.9 165.4L420.3 164.9L420.7 164.9L421.1 164.3L421.5 164.4L421.9 164.8L422.3 164.5L422.7 164.5L423.1 165.1L423.5 165.0L423.9 165.1L424.3 164.9L424.7 165.4L425.1 165.1L425.5 165.4L425.9 165.4L426.3 165.5L426.7 165.1L427.1 164.6L427.5 164.1L427.9 164.1L428.3 164.0L428.7 164.6L429.1 164.3L429.5 164.1L429.9 165.0L430.3 165.2L430.7 165.0L431.1 165.4L431.5 164.9L431.9 165.3L432.3 165.2L432.7 165.3L433.1 165.2L433.5 164.9L433.9 165.1L434.3 164.7L434.7 164.8L435.1 165.1L435.5 164.6L435.9 164.9L436.3 165.2L436.7 165.1L437.1 164.5L437.5 164.5L437.9 164.7L438.3 164.4L438.7 164.5L439.1 164.1L439.5 164.5L439.9 164.1L440.3 164.6L440.7 164.8L441.1 164.6L441.5 164.5L441.9 164.5L442.3 164.3L442.7 165.1L443.1 164.3L443.5 164.6L443.9 165.1L444.3 165.1L444.7 165.3L445.1 165.4L445.5 165.1L445.9 164.9L446.3 164.5L446.7 164.1L447.1 163.7L447.5 163.3L447.9 163.6L448.3 163.4L448.7 163.7L449.1 163.7L449.5 163.7L449.9 163.6L450.3 163.9L450.7 164.0L451.1 164.2L451.5 163.7L451.9 163.7L452.3 163.7L452.7 163.6L453.1 163.4L453.5 163.8L453.9 163.4L454.3 164.0L454.7 163.8L455.1 164.4L455.5 163.9L455.9 163.8L456.3 163.9L456.7 163.6L457.1 163.9L457.5 163.9L457.9 164.5L458.3 163.7L458.7 163.7L459.1 163.9L459.5 163.6L459.9 163.7L460.3 163.5L460.7 163.9L461.1 163.7L461.5 163.9L461.9 163.3L462.3 163.7L462.7 163.8L463.1 164.1L463.5 164.0L463.9 164.5L464.3 163.9"/><use href="#c-teal" y="0.25"/><use href="#c-teal" y="-0.25"/></g>
<path d="M48.4 164.9V157.8" stroke="#128c94" style="stroke-width:3.0;stroke-linecap:round"/>
<g stroke="#0f6eb4"><path id="c-steel" d="M20.3 -8.0L20.5 117.3L20.7 121.1L21.1 124.3L21.4 124.7L21.5 124.9L21.9 126.4L22.3 127.0L22.7 128.1L23.1 128.9L23.4 129.3L23.5 129.6L23.9 130.0L24.3 130.4L24.7 130.9L25.1 130.7L25.5 130.9L25.9 131.0L26.3 131.5L26.7 131.6L26.9 131.7L27.1 132.0L27.5 131.5L27.9 131.3L28.3 131.6L28.7 131.9L29.1 131.4L29.5 131.6L29.9 131.3L30.3 131.6L30.7 131.6L31.1 131.7L31.5 131.5L31.9 132.1L32.3 131.5L32.7 132.0L33.1 131.4L33.5 131.7L33.9 131.6L34.3 131.6L34.7 131.0L35.0 130.5L35.1 131.1L35.5 130.8L35.9 130.8L36.3 131.1L36.7 131.0L37.1 131.4L37.5 131.3L37.9 131.5L38.3 131.5L38.7 131.3L39.1 131.6L39.5 131.7L39.9 131.9L40.3 131.5L40.7 131.3L41.1 131.1L41.5 131.2L41.9 131.3L42.3 131.3L42.7 130.9L43.1 131.1L43.5 131.2L43.9 131.2L44.3 131.4L44.7 131.8L45.1 131.6L45.5 131.8L45.9 131.3L46.3 131.3L46.7 130.9L47.1 131.4L47.5 131.3L47.9 131.5L48.3 131.2L48.7 131.2L49.1 131.2L49.5 131.5L49.9 131.8L50.3 131.8L50.7 131.7L51.1 131.2L51.5 131.5L51.9 131.2L52.3 130.8L52.7 130.3L53.1 130.7L53.5 131.1L53.9 131.6L54.3 131.5L54.7 131.4L55.1 131.7L55.5 131.6L55.9 131.3L56.3 131.5L56.7 131.8L57.1 131.6L57.5 131.8L57.9 131.5L58.3 131.3L58.7 131.5L59.1 131.8L59.5 132.3L59.9 132.4L60.3 132.6L60.7 132.2L61.1 131.6L61.5 131.3L61.9 131.2L62.3 130.9L62.7 131.5L63.1 131.5L63.5 131.3L63.9 131.7L64.3 131.5L64.7 131.6L65.1 131.1L65.5 131.2L65.9 130.8L66.3 130.8L66.7 131.0L67.1 131.2L67.5 131.0L67.9 131.2L68.3 131.0L68.7 131.2L69.1 131.3L69.5 131.0L69.9 131.3L70.3 131.3L70.7 131.7L71.1 131.7L71.5 131.5L71.9 131.2L72.3 131.0L72.7 130.8L73.1 131.2L73.5 131.6L73.9 131.3L74.3 131.5L74.7 131.5L75.1 131.5L75.5 132.0L75.9 131.9L76.3 131.5L76.7 131.6L77.1 132.3L77.5 132.0L77.9 132.2L78.3 132.0L78.7 132.2L79.1 131.9L79.5 131.9L79.9 131.7L80.3 132.2L80.7 132.2L81.1 131.6L81.5 131.5L81.9 131.4L82.3 131.2L82.7 131.2L83.1 131.2L83.5 131.7L83.9 131.5L84.3 131.8L84.7 132.2L85.1 131.7L85.5 132.2L85.9 131.6L86.3 131.6L86.7 131.7L87.1 131.5L87.5 131.6L87.9 131.5L88.3 131.9L88.7 132.1L89.1 131.7L89.5 131.9L89.9 131.7L90.3 131.0L90.7 130.1L91.1 129.9L91.5 129.4L91.9 128.5L92.3 127.9L92.7 128.0L93.1 128.0L93.5 128.2L93.9 128.1L94.3 128.1L94.7 127.8L95.1 128.3L95.5 128.3L95.9 128.2L96.3 128.1L96.7 128.6L97.1 127.8L97.5 128.0L97.9 127.6L98.3 126.6L98.7 125.9L99.1 125.5L99.5 125.2L99.9 125.3L100.3 125.6L100.7 125.6L101.1 126.2L101.5 126.8L101.9 128.0L102.3 128.7L102.7 129.0L103.1 129.7L103.5 130.2L103.9 130.0L104.3 130.4L104.7 130.8L105.1 130.6L105.5 131.0L105.9 130.9L106.3 130.8L106.7 131.1L107.1 130.8L107.5 131.2L107.9 131.3L108.3 131.7L108.7 131.4L109.1 131.6L109.5 131.5L109.9 131.6L110.3 131.7L110.7 131.1L111.1 131.5L111.5 131.3L111.9 131.6L112.3 131.5L112.7 130.9L113.1 130.9L113.5 131.0L113.9 130.8L114.3 130.8L114.7 130.7L115.1 131.1L115.5 131.5L115.9 131.0L116.3 131.3L116.7 131.2L117.1 131.2L117.5 131.3L117.9 131.0L118.3 131.5L118.7 131.1L119.1 131.4L119.5 131.1L119.9 131.4L120.0 131.5L120.3 132.1L120.7 131.5L121.1 131.6L121.5 131.9L121.9 131.6L122.3 131.2L122.7 131.0L123.1 130.7L123.5 130.9L123.9 131.0L124.3 131.2L124.7 131.1L125.1 131.2L125.5 131.0L125.9 130.8L126.3 130.9L126.7 131.3L127.1 131.1L127.5 131.5L127.9 131.0L128.3 131.3L128.7 131.3L129.1 131.5L129.5 131.3L129.9 131.1L130.3 131.4L130.7 131.0L131.1 131.4L131.5 131.7L131.9 131.5L132.3 131.9L132.7 131.8L133.1 131.9L133.5 132.0L133.9 131.8L134.3 131.6L134.7 131.2L135.1 131.5L135.5 131.2L135.9 130.9L136.3 131.3L136.7 130.9L137.1 131.5L137.5 131.3L137.9 131.1L138.3 131.1L138.7 131.1L139.1 131.1L139.5 131.3L139.9 131.7L140.3 131.5L140.7 131.4L141.1 131.4L141.5 131.2L141.9 130.9L142.3 130.8L142.7 131.4L143.1 131.0L143.5 131.5L143.9 131.6L144.3 131.3L144.7 131.5L145.1 131.2L145.5 131.2L145.9 131.1L146.3 130.9L146.7 131.2L147.1 130.7L147.5 130.9L147.9 130.9L148.3 131.2L148.7 131.6L149.1 130.9L149.5 131.5L149.9 131.0L150.0 131.0L150.3 130.7L150.7 130.6L151.1 130.5L151.5 130.3L151.9 131.5L152.3 131.4L152.7 131.2L153.1 131.0L153.5 131.6L153.9 131.8L154.3 131.5L154.7 130.8L155.1 130.9L155.5 130.9L155.9 130.7L156.3 131.0L156.7 130.6L157.1 130.7L157.5 130.3L157.9 131.1L158.3 130.9L158.7 130.4L159.1 129.9L159.5 130.4L159.9 129.8L160.3 129.8L160.7 129.7L161.1 130.0L161.5 130.3L161.9 130.5L162.3 131.2L162.7 131.2L163.1 131.1L163.5 130.9L163.9 130.9L164.3 130.4L164.7 130.6L165.1 130.1L165.5 130.1L165.9 130.2L166.3 129.8L166.7 129.7L167.0 130.3L167.1 129.7L167.5 129.9L167.9 130.0L168.3 130.2L168.7 130.4L169.1 129.8L169.5 130.5L169.9 131.1L170.3 131.1L170.7 130.8L171.1 130.3L171.5 129.9L171.9 129.3L172.3 128.9L172.7 129.4L173.1 129.7L173.5 129.8L173.9 129.9L174.3 130.3L174.7 130.2L175.1 130.4L175.5 130.0L175.9 129.7L176.3 130.3L176.7 130.5L177.1 130.2L177.5 130.5L177.9 130.6L178.3 129.7L178.7 130.7L179.1 130.2L179.5 129.8L179.9 129.4L180.3 129.2L180.6 130.2L180.7 129.4L181.1 129.6L181.5 129.3L181.9 129.4L182.3 129.7L182.7 129.4L183.1 129.5L183.5 129.3L183.9 129.3L184.3 129.1L184.7 128.5L185.1 128.5L185.5 127.8L185.8 127.7L185.9 127.8L186.3 127.7L186.7 127.9L187.1 126.9L187.5 126.7L187.9 126.1L188.3 126.4L188.7 125.8L189.1 125.0L189.5 124.8L189.9 123.8L190.3 123.4L190.7 123.0L191.1 121.9L191.3 121.7L191.5 120.6L191.9 119.6L192.2 118.7L192.3 118.8L192.7 118.4L193.1 118.1L193.5 117.9L193.9 117.3L194.3 117.1L194.7 116.7L195.0 116.4L195.1 115.8L195.2 115.8L195.4 115.3L195.5 114.9L195.6 114.7L195.8 114.4L195.9 114.3L196.0 114.2L196.1 114.3L196.2 114.7L196.3 114.6L196.4 114.2L196.6 114.1L196.7 114.6L196.8 114.5L197.0 114.0L197.1 114.1L197.2 113.3L197.4 113.3L197.5 113.0L197.6 113.7L197.8 113.0L197.9 112.7L198.0 112.3L198.2 111.6L198.3 111.3L198.4 110.6L198.6 110.7L198.7 110.7L198.8 111.2L199.0 111.3L199.1 111.1L199.2 110.9L199.4 110.7L199.5 111.2L199.6 110.8L199.8 110.6L199.9 110.2L200.0 110.2L200.2 109.8L200.3 109.7L200.4 109.1L200.6 108.9L200.7 108.4L200.8 108.6L201.0 108.4L201.1 108.3L201.2 108.5L201.3 107.9L201.4 108.3L201.5 107.7L201.6 107.5L201.8 106.9L201.9 106.4L202.0 106.1L202.2 106.0L202.3 105.6L202.4 105.5L202.6 104.9L202.7 105.0L202.8 104.7L203.0 103.7L203.1 104.1L203.2 103.4L203.4 102.7L203.5 102.2L203.6 101.9L203.8 101.6L203.9 101.9L204.0 101.2L204.2 100.5L204.3 100.5L204.4 100.2L204.6 99.6L204.7 98.7L204.8 98.5L205.0 97.7L205.1 97.5L205.2 97.1L205.4 95.8L205.5 95.3L205.6 94.3L205.8 93.1L205.9 92.0L206.0 91.7L206.2 90.3L206.3 89.9L206.4 89.0L206.6 87.1L206.7 86.6L206.8 85.7L206.9 85.0L207.0 84.0L207.1 83.2L207.2 82.9L207.4 80.8L207.5 80.3L207.6 79.0L207.8 77.0L207.9 75.9L208.0 74.5L208.2 72.3L208.3 70.4L208.4 69.2L208.6 65.3L208.7 64.0L208.8 61.8L209.0 58.0L209.1 55.9L209.2 52.8L209.4 46.8L209.5 43.1L209.6 39.4L209.7 35.2L209.8 29.9L209.9 23.9L210.0 17.8L210.2 4.0L210.3 -3.2L210.4 -8.0L210.5 -8.0L210.6 -8.0L210.7 -8.0L210.8 -8.0L211.0 -8.0L211.1 -8.0L211.2 -8.0L211.4 -8.0L211.5 -8.0L211.6 -8.0L211.8 -8.0L211.9 -8.0L212.0 -8.0L212.2 -8.0L212.3 -8.0L212.4 -8.0L212.6 -8.0L212.7 -8.0L212.8 -8.0L213.0 -8.0L213.1 -8.0L213.2 -8.0L213.4 -8.0L213.5 -8.0L213.6 -8.0L213.8 -8.0L213.9 -8.0L214.0 -8.0L214.2 -8.0L214.3 -8.0L214.4 -8.0L214.6 -8.0L214.7 -8.0L214.8 -8.0L215.0 -8.0L215.1 -8.0L215.2 -8.0L215.4 -8.0L215.5 -8.0L215.6 -8.0L215.8 -8.0L215.9 -8.0L216.0 -8.0L216.2 -8.0L216.3 -8.0L216.4 -8.0L216.6 -8.0L216.7 -8.0L216.8 -8.0L217.0 -8.0L217.1 -8.0L217.2 -8.0L217.4 -8.0L217.5 -8.0L217.6 -8.0L217.8 -8.0L217.9 -8.0L218.0 -8.0L218.2 -8.0L218.3 -8.0L218.4 -8.0L218.6 -8.0L218.7 -8.0L218.8 -8.0L219.0 -8.0L219.1 -8.0L219.2 -8.0L219.4 -8.0L219.5 -8.0L219.6 -8.0L219.8 -8.0L219.9 -8.0L220.0 -8.0L220.2 -8.0L220.3 -8.0L220.4 -8.0L220.6 -8.0L220.7 -8.0L220.8 -8.0L221.0 -8.0L221.1 -8.0L221.2 -8.0L221.4 -8.0L221.5 -8.0L221.6 -8.0L221.8 -8.0L221.9 -8.0L222.0 -8.0L222.2 -8.0L222.3 -8.0L222.4 -8.0L222.6 -8.0L222.7 -8.0L222.8 -8.0L223.0 -8.0L223.1 -8.0L223.2 -8.0L223.4 -8.0L223.5 -8.0L223.6 -8.0L223.8 -8.0L223.9 -8.0L224.0 -8.0L224.2 -8.0L224.3 -8.0L224.4 -8.0L224.6 -8.0L224.7 -8.0L224.8 -8.0L225.0 -8.0L225.1 -8.0L225.2 -2.1L225.4 14.2L225.5 18.0L225.6 20.2L225.8 23.5L225.9 25.4L226.0 25.9L226.2 28.7L226.3 28.8L226.4 30.3L226.6 31.5L226.7 31.7L226.8 32.9L227.0 34.4L227.1 35.0L227.2 36.4L227.4 38.5L227.5 39.9L227.6 40.8L227.8 43.6L227.9 45.0L228.0 46.7L228.2 49.6L228.3 51.1L228.4 53.2L228.6 56.2L228.7 58.3L228.8 60.0L229.0 63.9L229.1 66.0L229.2 69.1L229.4 74.7L229.5 77.7L229.6 80.3L229.8 85.6L229.9 87.8L230.0 90.0L230.2 95.5L230.3 97.5L230.4 99.3L230.6 104.0L230.7 105.7L230.8 106.7L231.0 109.3L231.1 110.3L231.2 111.5L231.4 113.1L231.5 113.4L231.6 114.0L231.8 114.7L231.9 115.0L232.0 115.3L232.2 115.4L232.3 115.8L232.4 116.0L232.5 116.2L232.6 116.5L232.7 117.5L232.8 118.0L233.0 118.7L233.1 118.5L233.2 119.4L233.4 120.4L233.5 120.1L233.6 120.0L233.8 120.6L233.9 120.5L234.0 120.6L234.2 120.9L234.3 121.1L234.4 121.0L234.5 121.1L234.6 121.0L234.7 121.3L234.8 121.5L235.0 121.5L235.1 121.4L235.2 121.1L235.4 121.8L235.5 121.3L235.6 121.9L235.8 121.9L235.9 122.4L236.0 122.7L236.2 122.6L236.3 122.0L236.4 122.2L236.6 122.5L236.7 122.5L236.8 122.9L237.0 123.4L237.1 123.1L237.2 123.0L237.4 123.2L237.5 122.8L237.6 122.8L237.8 122.6L237.9 121.9L238.0 122.5L238.2 122.6L238.3 122.2L238.4 122.5L238.6 122.6L238.7 122.5L238.8 122.5L239.0 122.7L239.1 122.2L239.2 122.0L239.4 122.2L239.5 122.1L239.6 122.3L239.8 121.9L239.9 121.8L240.3 122.3L240.7 121.6L241.0 121.8L241.1 121.8L241.5 122.2L241.9 121.8L242.3 121.5L242.7 121.7L243.1 121.9L243.5 121.0L243.9 121.0L244.3 121.5L244.7 121.4L245.0 121.3L245.1 121.6L245.5 121.8L245.9 121.6L246.3 121.8L246.7 122.4L247.1 122.3L247.5 122.7L247.9 122.7L248.3 123.0L248.7 123.6L249.0 123.7L249.1 124.3L249.5 124.6L249.9 125.1L250.3 125.4L250.7 125.6L251.1 126.3L251.5 125.8L251.9 126.3L252.3 126.0L252.7 126.6L253.1 126.4L253.4 126.6L253.5 126.8L253.9 126.8L254.3 126.8L254.7 126.8L255.1 126.8L255.5 126.7L255.9 127.0L256.3 127.2L256.7 127.2L257.1 127.2L257.5 127.5L257.9 126.7L258.3 127.2L258.7 126.5L259.1 126.6L259.5 126.4L259.9 126.5L260.3 126.8L260.7 127.3L261.1 127.1L261.5 127.2L261.9 127.1L262.0 127.6L262.3 127.4L262.7 127.3L263.1 127.0L263.5 126.5L263.9 126.9L264.3 126.3L264.7 126.5L265.1 126.8L265.5 126.3L265.9 126.2L266.3 125.8L266.7 126.3L267.1 126.1L267.5 125.7L267.9 125.7L268.0 125.1L268.3 125.0L268.7 124.9L269.1 124.5L269.5 123.9L269.9 123.7L270.3 124.5L270.7 125.4L271.1 125.3L271.5 125.5L271.9 125.3L272.0 124.8L272.3 124.7L272.7 124.1L273.1 124.1L273.5 124.1L273.9 124.0L274.3 124.0L274.7 123.6L275.1 123.9L275.5 124.1L275.9 124.4L276.3 124.9L276.7 125.3L277.1 125.4L277.5 125.2L277.9 126.0L278.3 125.3L278.7 125.5L279.0 125.4L279.1 126.2L279.5 125.2L279.9 125.8L280.3 126.0L280.7 126.3L281.1 126.1L281.5 126.1L281.9 126.9L282.3 126.9L282.7 127.0L283.1 127.3L283.5 127.5L283.9 127.7L284.3 127.4L284.7 128.0L285.0 128.0L285.1 128.2L285.5 128.3L285.9 128.1L286.3 128.7L286.7 128.6L287.1 128.3L287.5 128.3L287.9 128.5L288.3 128.8L288.7 129.1L289.1 128.8L289.5 129.0L289.9 129.5L290.3 129.4L290.5 129.4L290.7 129.2L291.1 129.1L291.5 129.5L291.9 129.4L292.3 129.3L292.7 129.7L293.1 130.0L293.5 129.7L293.9 129.7L294.3 129.5L294.7 129.6L295.0 129.6L295.1 129.8L295.5 129.2L295.9 129.0L296.3 129.3L296.7 129.4L297.1 128.8L297.5 129.1L297.9 128.8L298.3 128.5L298.7 128.6L299.1 128.7L299.5 127.9L299.9 128.0L300.3 127.6L300.7 127.5L301.1 127.2L301.5 127.0L301.9 127.3L302.3 127.3L302.7 127.1L303.1 127.0L303.5 127.4L303.9 127.8L304.3 128.2L304.7 128.2L305.1 128.6L305.5 128.6L305.9 129.1L306.3 129.5L306.7 129.5L307.1 129.8L307.5 129.7L307.9 129.7L308.3 130.1L308.7 129.8L309.1 130.3L309.5 130.6L309.9 130.3L310.3 130.3L310.7 130.1L311.1 129.8L311.5 129.8L311.9 129.6L312.3 129.7L312.7 129.6L313.1 129.4L313.5 129.5L313.9 129.6L314.3 129.4L314.7 129.0L315.1 128.9L315.5 128.4L315.9 128.3L316.3 128.3L316.7 128.2L317.1 128.2L317.5 127.5L317.9 128.1L318.3 127.9L318.7 128.2L319.1 128.1L319.5 128.7L319.9 128.9L320.3 129.1L320.7 129.8L321.1 129.9L321.5 130.2L321.9 130.4L322.3 130.5L322.7 130.4L323.1 130.5L323.5 129.9L323.9 130.5L324.3 130.0L324.7 130.1L325.1 130.1L325.5 130.1L325.9 130.7L326.3 130.4L326.7 130.6L327.1 131.0L327.5 130.1L327.9 130.1L328.3 130.6L328.7 130.2L329.1 130.5L329.5 130.3L329.9 130.2L330.0 130.4L330.3 130.0L330.7 130.0L331.1 130.2L331.5 130.1L331.9 130.2L332.3 130.3L332.7 130.9L333.1 131.1L333.5 130.8L333.9 130.4L334.3 130.6L334.7 130.7L335.1 131.1L335.5 131.5L335.9 131.3L336.3 131.3L336.7 130.6L337.1 131.4L337.5 131.0L337.9 131.2L338.3 131.2L338.7 131.0L339.1 130.9L339.5 130.9L339.9 130.0L340.3 130.2L340.7 130.9L341.1 130.6L341.5 130.3L341.9 130.4L342.3 130.5L342.7 130.7L343.1 130.5L343.5 130.8L343.9 130.7L344.3 131.6L344.7 131.5L345.1 131.3L345.5 130.9L345.9 131.0L346.3 130.9L346.7 131.0L347.1 130.8L347.5 130.3L347.9 130.4L348.3 130.4L348.7 130.7L349.1 130.4L349.5 130.7L349.9 130.6L350.3 130.7L350.7 130.6L351.1 131.4L351.5 131.3L351.9 131.2L352.3 131.4L352.7 131.4L353.1 131.2L353.5 131.2L353.9 131.1L354.3 131.2L354.7 130.8L355.1 131.3L355.5 130.6L355.9 131.7L356.3 131.2L356.7 131.3L357.1 130.7L357.5 130.8L357.9 130.9L358.3 130.7L358.7 130.8L359.1 130.4L359.5 131.2L359.9 131.1L360.3 131.0L360.7 131.2L361.1 130.9L361.5 130.7L361.9 130.0L362.3 130.3L362.7 130.2L363.1 130.5L363.5 130.2L363.9 130.1L364.3 130.4L364.7 130.9L365.1 130.3L365.5 130.8L365.9 130.5L366.3 130.1L366.7 130.7L367.1 131.1L367.5 130.7L367.9 130.4L368.3 130.7L368.7 130.7L369.1 131.6L369.5 131.2L369.9 130.5L370.3 131.1L370.7 130.8L371.1 130.3L371.5 130.4L371.9 130.7L372.3 131.4L372.7 131.1L373.1 131.2L373.5 131.5L373.9 131.1L374.3 130.9L374.7 131.0L375.1 131.2L375.5 131.0L375.9 130.9L376.3 131.4L376.7 131.5L377.1 130.9L377.5 131.0L377.9 131.1L378.3 131.2L378.7 131.2L379.1 131.2L379.5 131.3L379.9 131.5L380.3 131.2L380.7 131.0L381.1 131.4L381.5 131.3L381.9 130.9L382.3 130.6L382.7 130.6L383.1 130.1L383.5 129.7L383.9 129.7L384.3 129.7L384.7 129.3L385.1 129.1L385.5 128.6L385.9 128.5L386.3 128.4L386.7 127.9L387.1 127.9L387.5 128.4L387.9 128.2L388.3 128.0L388.7 128.1L389.1 128.5L389.5 128.3L389.9 128.7L390.3 128.5L390.7 128.7L391.1 129.2L391.5 129.2L391.9 129.9L392.3 129.8L392.7 129.8L393.1 130.0L393.5 129.8L393.9 129.7L394.3 129.8L394.7 130.2L395.1 130.0L395.5 129.7L395.9 129.5L396.3 128.8L396.7 128.6L397.1 128.8L397.5 128.0L397.9 128.5L398.3 128.0L398.7 128.1L399.1 128.0L399.5 127.9L399.9 128.0L400.3 128.3L400.7 128.2L401.1 128.3L401.5 128.9L401.9 128.9L402.3 129.2L402.7 129.4L403.1 129.6L403.5 129.5L403.9 130.2L404.3 130.3L404.7 130.3L405.1 130.5L405.5 130.6L405.9 130.8L406.3 130.3L406.7 130.7L407.1 130.4L407.5 130.8L407.9 130.8L408.3 131.1L408.7 131.1L409.1 131.1L409.5 130.9L409.9 131.5L410.3 130.8L410.7 130.8L411.1 131.2L411.5 130.7L411.9 130.7L412.3 130.7L412.7 130.8L413.1 130.8L413.5 131.0L413.9 130.8L414.3 130.7L414.7 130.9L415.1 130.9L415.5 130.8L415.9 130.9L416.3 131.1L416.7 131.0L417.1 130.6L417.5 130.4L417.9 130.9L418.3 130.7L418.7 130.8L419.1 130.5L419.5 130.7L419.9 130.2L420.3 130.5L420.7 130.1L421.1 130.9L421.5 130.4L421.9 130.0L422.3 130.8L422.7 130.8L423.1 131.0L423.5 130.6L423.9 130.9L424.3 131.2L424.7 130.9L425.1 131.0L425.5 130.9L425.9 130.9L426.3 131.5L426.7 131.1L427.1 131.3L427.5 131.4L427.9 131.1L428.3 131.2L428.7 130.5L429.1 131.1L429.5 130.6L429.9 130.9L430.3 130.9L430.7 131.0L431.1 130.9L431.5 130.8L431.9 131.0L432.3 131.2L432.7 130.6L433.1 130.5L433.5 130.6L433.9 130.4L434.3 130.5L434.7 130.7L435.1 131.0L435.5 130.7L435.9 130.6L436.3 130.8L436.7 130.6L437.1 131.5L437.5 131.4L437.9 131.2L438.3 130.9L438.7 131.2L439.1 130.9L439.5 130.8L439.9 130.4L440.3 130.6L440.7 130.6L441.1 130.5L441.5 130.3L441.9 130.6L442.3 130.4L442.7 130.1L443.1 130.4L443.5 130.9L443.9 131.0L444.3 130.5L444.7 130.7L445.1 130.8L445.5 130.9L445.9 130.5L446.3 130.5L446.7 129.9L447.1 128.8L447.5 129.0L447.9 129.0L448.3 129.5L448.7 129.6L449.1 129.8L449.5 130.0L449.9 130.3L450.3 129.9L450.7 130.5L451.1 130.6L451.5 129.6L451.9 130.3L452.3 130.1L452.7 130.4L453.1 130.3L453.5 130.2L453.9 130.4L454.3 130.1L454.7 130.3L455.1 130.1L455.5 129.7L455.9 130.1L456.3 130.2L456.7 130.0L457.1 129.9L457.5 130.5L457.9 130.0L458.3 130.0L458.7 129.6L459.1 130.1L459.5 129.9L459.9 130.0L460.3 130.1L460.7 129.6L461.1 129.7L461.5 130.1L461.9 130.1L462.3 129.9L462.7 129.9L463.1 129.6L463.5 129.6L463.9 129.6L464.3 129.0"/><use href="#c-steel" y="0.25"/><use href="#c-steel" y="-0.25"/></g>
<path d="M48.4 131.3V123.3" stroke="#0f6eb4" style="stroke-width:3.0;stroke-linecap:round"/>
<g stroke="#0a14c8"><path id="c-blue" d="M20.3 -8.0L20.5 80.7L20.7 83.7L21.1 87.2L21.4 87.8L21.5 88.3L21.9 89.3L22.3 90.0L22.7 91.3L23.1 91.7L23.4 91.8L23.5 92.6L23.9 92.8L24.3 93.7L24.7 94.3L25.1 94.3L25.5 94.6L25.9 94.4L26.3 94.5L26.7 94.5L26.9 95.0L27.1 94.3L27.5 94.5L27.9 94.1L28.3 94.6L28.7 95.0L29.1 95.1L29.5 95.3L29.9 95.6L30.3 95.7L30.7 95.2L31.1 95.0L31.5 95.3L31.9 95.2L32.3 94.7L32.7 95.2L33.1 94.8L33.5 95.2L33.9 95.6L34.3 94.8L34.7 95.1L35.0 94.9L35.1 94.6L35.5 95.0L35.9 94.6L36.3 94.7L36.7 94.7L37.1 95.1L37.5 95.3L37.9 95.6L38.3 95.4L38.7 95.5L39.1 96.3L39.5 95.8L39.9 96.0L40.3 96.1L40.7 95.8L41.1 95.1L41.5 95.2L41.9 95.3L42.3 95.7L42.7 95.2L43.1 95.5L43.5 95.3L43.9 95.2L44.3 95.2L44.7 95.1L45.1 95.6L45.5 95.3L45.9 95.7L46.3 95.0L46.7 94.8L47.1 95.5L47.5 94.9L47.9 95.4L48.3 95.5L48.7 95.6L49.1 95.6L49.5 95.4L49.9 95.3L50.3 95.5L50.7 95.2L51.1 95.8L51.5 95.4L51.9 95.6L52.3 95.1L52.7 95.3L53.1 94.8L53.5 94.6L53.9 94.7L54.3 94.7L54.7 95.5L55.1 94.7L55.5 95.1L55.9 95.7L56.3 95.6L56.7 95.8L57.1 96.0L57.5 95.8L57.9 95.7L58.3 95.5L58.7 95.7L59.1 95.7L59.5 95.4L59.9 95.5L60.3 95.1L60.7 95.3L61.1 95.1L61.5 94.9L61.9 95.5L62.3 95.3L62.7 95.6L63.1 95.3L63.5 95.2L63.9 95.5L64.3 95.6L64.7 95.4L65.1 95.3L65.5 95.3L65.9 95.1L66.3 95.4L66.7 95.5L67.1 95.6L67.5 95.6L67.9 95.2L68.3 95.6L68.7 95.4L69.1 94.7L69.5 94.7L69.9 94.8L70.3 95.1L70.7 95.2L71.1 95.2L71.5 95.4L71.9 95.1L72.3 95.4L72.7 95.2L73.1 95.2L73.5 94.7L73.9 94.7L74.3 94.8L74.7 95.6L75.1 94.9L75.5 95.5L75.9 94.8L76.3 95.2L76.7 95.1L77.1 95.9L77.5 95.8L77.9 95.9L78.3 96.1L78.7 95.9L79.1 95.1L79.5 95.1L79.9 94.7L80.3 95.1L80.7 94.2L81.1 95.3L81.5 94.8L81.9 94.4L82.3 95.0L82.7 94.8L83.1 95.1L83.5 95.1L83.9 95.5L84.3 94.9L84.7 95.7L85.1 96.0L85.5 95.4L85.9 95.8L86.3 95.7L86.7 95.3L87.1 95.0L87.5 95.6L87.9 95.6L88.3 96.3L88.7 95.9L89.1 96.0L89.5 95.7L89.9 95.4L90.3 94.6L90.7 94.2L91.1 93.7L91.5 93.0L91.9 92.2L92.3 91.6L92.7 90.6L93.1 90.0L93.5 89.3L93.9 89.0L94.3 88.9L94.7 89.0L95.1 90.1L95.5 90.8L95.9 91.4L96.3 91.5L96.7 92.2L97.1 91.7L97.5 91.0L97.9 89.9L98.3 88.9L98.7 88.0L99.1 87.6L99.5 87.0L99.9 87.2L100.3 87.3L100.7 87.7L101.1 88.9L101.5 90.0L101.9 91.2L102.3 91.6L102.7 93.6L103.1 94.1L103.5 94.4L103.9 95.4L104.3 95.1L104.7 95.4L105.1 95.4L105.5 95.0L105.9 96.1L106.3 95.7L106.7 96.2L107.1 95.8L107.5 95.6L107.9 95.1L108.3 95.7L108.7 95.5L109.1 95.8L109.5 95.3L109.9 95.6L110.3 95.2L110.7 95.1L111.1 95.7L111.5 95.4L111.9 95.0L112.3 95.1L112.7 94.6L113.1 94.9L113.5 95.2L113.9 95.2L114.3 95.4L114.7 95.9L115.1 95.7L115.5 95.6L115.9 95.5L116.3 95.3L116.7 95.5L117.1 95.2L117.5 94.6L117.9 95.4L118.3 95.5L118.7 95.4L119.1 95.3L119.5 95.5L119.9 95.2L120.0 95.4L120.3 95.1L120.7 95.3L121.1 94.4L121.5 94.6L121.9 94.8L122.3 94.6L122.7 94.8L123.1 94.7L123.5 95.6L123.9 95.1L124.3 95.3L124.7 95.0L125.1 95.0L125.5 95.0L125.9 95.4L126.3 95.2L126.7 95.3L127.1 95.2L127.5 95.3L127.9 95.0L128.3 95.0L128.7 95.5L129.1 95.0L129.5 95.2L129.9 94.9L130.3 94.7L130.7 95.0L131.1 94.8L131.5 95.0L131.9 95.4L132.3 95.1L132.7 95.4L133.1 94.9L133.5 94.9L133.9 94.4L134.3 94.8L134.7 93.9L135.1 94.6L135.5 94.8L135.9 94.1L136.3 94.3L136.7 94.3L137.1 94.6L137.5 94.5L137.9 94.4L138.3 94.7L138.7 95.2L139.1 94.6L139.5 95.1L139.9 95.1L140.3 95.4L140.7 94.5L141.1 94.5L141.5 94.5L141.9 94.3L142.3 94.4L142.7 94.0L143.1 93.3L143.5 93.4L143.9 93.0L144.3 93.2L144.7 93.5L145.1 93.6L145.5 94.4L145.9 94.8L146.3 94.5L146.7 94.1L147.1 94.8L147.5 95.0L147.9 94.3L148.3 94.3L148.7 94.4L149.1 94.1L149.5 94.5L149.9 94.4L150.0 94.2L150.3 94.2L150.7 94.2L151.1 94.0L151.5 94.5L151.9 94.3L152.3 94.2L152.7 94.5L153.1 94.4L153.5 94.7L153.9 94.9L154.3 94.6L154.7 94.3L155.1 94.1L155.5 94.6L155.9 94.0L156.3 93.5L156.7 93.4L157.1 93.0L157.5 93.6L157.9 93.5L158.3 93.5L158.7 93.4L159.1 94.3L159.5 93.8L159.9 93.0L160.3 93.2L160.7 93.3L161.1 93.4L161.5 93.2L161.9 93.8L162.3 93.7L162.7 93.5L163.1 93.2L163.5 92.9L163.9 93.2L164.3 93.3L164.7 93.1L165.1 93.5L165.5 93.5L165.9 93.1L166.3 92.9L166.7 92.8L167.1 93.1L167.5 93.0L167.9 92.4L168.3 92.8L168.7 93.6L169.1 93.0L169.5 93.5L169.9 93.2L170.0 93.3L170.3 92.8L170.7 92.8L171.1 92.9L171.5 92.8L171.9 92.9L172.3 93.3L172.7 93.0L173.1 93.4L173.5 93.0L173.9 93.2L174.3 93.5L174.7 93.4L175.1 93.5L175.5 93.1L175.9 93.0L176.3 92.7L176.7 92.4L177.1 92.8L177.5 93.3L177.9 93.1L178.3 93.3L178.7 93.7L179.1 93.1L179.4 93.2L179.5 92.7L179.9 92.9L180.3 92.0L180.7 92.2L181.1 92.1L181.5 92.3L181.9 92.4L182.3 93.1L182.7 92.4L183.1 92.2L183.5 91.5L183.9 91.2L184.0 91.1L184.3 90.8L184.7 91.2L185.1 91.0L185.5 91.0L185.9 90.9L186.3 90.5L186.7 90.0L186.9 89.8L187.1 89.7L187.5 89.3L187.9 89.0L188.3 89.4L188.7 88.8L189.1 88.6L189.5 88.3L189.9 87.1L190.2 87.0L190.3 86.6L190.7 86.1L191.1 85.1L191.5 84.7L191.6 84.9L191.9 84.1L192.3 83.2L192.5 82.2L192.7 81.9L193.1 80.6L193.5 79.3L193.9 78.5L194.3 77.7L194.7 77.2L195.0 76.5L195.1 75.9L195.2 75.9L195.4 75.9L195.5 75.7L195.6 76.2L195.8 75.4L195.9 74.9L196.0 74.5L196.2 74.0L196.3 74.1L196.4 73.5L196.6 74.0L196.7 74.0L196.8 74.5L197.0 73.5L197.1 74.1L197.2 73.6L197.4 73.6L197.5 73.0L197.6 73.0L197.8 72.8L197.9 73.0L198.0 71.9L198.2 71.7L198.3 71.5L198.4 71.2L198.6 71.2L198.7 71.2L198.8 71.2L199.0 70.7L199.1 71.1L199.2 70.5L199.4 70.5L199.5 70.5L199.6 69.9L199.8 69.9L199.9 70.0L200.0 69.9L200.2 69.7L200.3 69.8L200.4 69.8L200.6 69.0L200.7 69.0L200.8 68.9L201.0 68.1L201.1 67.6L201.2 67.9L201.4 67.5L201.5 67.5L201.6 67.2L201.8 66.8L201.9 67.3L202.0 67.2L202.2 66.9L202.3 66.5L202.4 66.4L202.6 65.6L202.7 65.2L202.8 65.1L203.0 64.6L203.1 64.4L203.2 64.1L203.4 64.3L203.5 63.4L203.6 63.7L203.8 63.0L203.9 63.2L204.0 62.6L204.2 63.1L204.3 62.8L204.4 61.9L204.6 61.9L204.7 61.2L204.8 60.9L205.0 60.1L205.1 59.9L205.2 59.5L205.4 59.5L205.5 59.5L205.6 58.9L205.8 58.6L205.9 58.7L206.0 58.6L206.2 57.8L206.3 58.0L206.4 57.3L206.6 56.9L206.7 56.8L206.8 55.9L207.0 55.7L207.1 55.0L207.2 54.5L207.4 54.4L207.5 54.1L207.6 53.3L207.8 52.7L207.9 52.1L208.0 51.2L208.2 50.5L208.3 49.2L208.4 48.4L208.5 47.9L208.6 47.1L208.7 45.8L208.8 44.4L209.0 40.8L209.1 39.4L209.2 37.1L209.4 33.1L209.5 30.5L209.6 27.8L209.8 23.5L209.9 21.2L210.0 18.3L210.2 3.0L210.3 -5.8L210.4 -8.0L210.6 -8.0L210.7 -8.0L210.8 -8.0L211.0 -8.0L211.1 -8.0L211.2 -8.0L211.4 -8.0L211.5 -8.0L211.6 -8.0L211.8 -8.0L211.9 -8.0L212.0 -8.0L212.2 -8.0L212.3 -8.0L212.4 -8.0L212.6 -8.0L212.7 -8.0L212.8 -8.0L213.0 -8.0L213.1 -8.0L213.2 -8.0L213.4 -8.0L213.5 -8.0L213.6 -8.0L213.8 -8.0L213.9 -8.0L214.0 -8.0L214.2 -8.0L214.3 -8.0L214.4 -8.0L214.6 -8.0L214.7 -8.0L214.8 -8.0L215.0 -8.0L215.1 -8.0L215.2 -8.0L215.4 -8.0L215.5 -8.0L215.6 -8.0L215.8 -8.0L215.9 -8.0L216.0 -8.0L216.2 -8.0L216.3 -8.0L216.4 -8.0L216.6 -8.0L216.7 -8.0L216.8 -8.0L217.0 -8.0L217.1 -8.0L217.2 -8.0L217.4 -8.0L217.5 -8.0L217.6 -8.0L217.8 -8.0L217.9 -8.0L218.0 -8.0L218.2 -8.0L218.3 -8.0L218.4 -8.0L218.6 -8.0L218.7 -8.0L218.8 -8.0L219.0 -8.0L219.1 -8.0L219.2 -8.0L219.4 -8.0L219.5 -8.0L219.6 -8.0L219.8 -8.0L219.9 -8.0L220.0 -8.0L220.2 -8.0L220.3 -8.0L220.4 -8.0L220.6 -8.0L220.7 -8.0L220.8 -8.0L221.0 -8.0L221.1 -8.0L221.2 -8.0L221.4 -8.0L221.5 -8.0L221.6 -8.0L221.8 -8.0L221.9 -8.0L222.0 -8.0L222.2 -8.0L222.3 -8.0L222.4 -8.0L222.6 -8.0L222.7 -8.0L222.8 -8.0L223.0 -8.0L223.1 -8.0L223.2 -8.0L223.4 -8.0L223.5 -8.0L223.6 -8.0L223.8 -8.0L223.9 -8.0L224.0 -8.0L224.2 -8.0L224.3 -8.0L224.4 -8.0L224.6 -8.0L224.7 -8.0L224.8 -8.0L225.0 -8.0L225.1 -8.0L225.2 -8.0L225.4 -8.0L225.5 -8.0L225.6 -8.0L225.8 -8.0L225.9 -8.0L226.0 -8.0L226.2 -8.0L226.3 -8.0L226.4 -8.0L226.6 -8.0L226.7 -8.0L226.8 -8.0L227.0 -8.0L227.1 -8.0L227.2 -8.0L227.4 -8.0L227.5 -8.0L227.6 -8.0L227.8 -8.0L227.9 -8.0L228.0 -8.0L228.2 -8.0L228.3 -8.0L228.4 -8.0L228.6 -2.7L228.7 5.7L228.8 13.0L228.9 18.3L229.0 21.5L229.1 25.0L229.2 26.9L229.4 32.1L229.5 34.6L229.6 36.3L229.8 39.8L229.9 40.9L230.0 42.4L230.2 45.4L230.3 46.5L230.4 47.2L230.6 50.0L230.7 50.4L230.8 51.8L231.0 53.4L231.1 54.3L231.2 55.3L231.4 56.4L231.5 57.7L231.6 58.5L231.8 60.2L231.9 61.2L232.0 62.0L232.2 63.6L232.3 64.2L232.4 64.4L232.6 65.8L232.7 66.0L232.8 66.3L233.0 67.9L233.1 68.5L233.2 68.6L233.4 70.0L233.5 70.2L233.6 70.7L233.8 71.6L233.9 72.3L234.0 72.7L234.2 73.0L234.3 74.1L234.4 74.6L234.5 75.1L234.6 75.7L234.7 76.0L234.8 76.7L235.0 77.3L235.1 77.2L235.2 77.3L235.4 78.3L235.5 78.5L235.6 78.2L235.8 79.2L235.9 80.2L236.0 80.4L236.2 80.5L236.3 81.2L236.4 81.4L236.6 81.5L236.7 81.4L236.8 81.5L237.0 81.7L237.1 82.0L237.2 82.4L237.4 83.3L237.5 83.6L237.6 83.2L237.7 83.0L237.8 83.4L237.9 83.3L238.0 83.2L238.2 82.7L238.3 83.1L238.4 82.9L238.6 83.0L238.7 82.6L238.8 82.9L239.0 82.3L239.1 82.2L239.2 82.0L239.4 81.8L239.5 81.6L239.6 81.4L239.8 81.2L239.9 81.1L240.3 81.1L240.7 81.2L241.0 82.0L241.1 82.1L241.5 81.8L241.9 81.6L242.3 82.0L242.7 81.5L243.1 81.5L243.5 81.7L243.9 80.9L244.3 81.2L244.7 81.3L245.1 81.4L245.5 80.9L245.7 80.9L245.9 80.9L246.3 81.1L246.7 81.4L247.1 81.6L247.5 81.9L247.9 82.5L248.3 83.3L248.7 84.0L249.1 84.2L249.5 84.4L249.9 85.0L250.0 84.7L250.3 84.8L250.7 84.9L251.1 85.1L251.5 85.6L251.9 85.8L252.3 86.6L252.7 86.5L253.1 87.2L253.5 87.5L253.9 87.5L254.3 87.8L254.5 87.4L254.7 87.4L255.1 87.2L255.5 87.8L255.9 86.8L256.3 87.2L256.7 87.0L257.1 87.3L257.5 87.2L257.9 87.2L258.3 87.9L258.7 88.0L259.1 87.3L259.5 87.6L259.9 87.4L260.3 87.0L260.7 87.4L261.1 87.5L261.5 87.4L261.9 87.4L262.0 87.7L262.3 87.2L262.7 87.7L263.1 88.0L263.5 86.7L263.9 87.3L264.3 87.4L264.7 87.0L265.1 86.7L265.5 87.2L265.9 87.1L266.3 86.6L266.7 87.3L267.1 87.1L267.5 87.3L267.9 87.0L268.0 87.5L268.3 87.2L268.7 86.2L269.1 85.4L269.5 85.0L269.9 85.0L270.3 84.9L270.7 86.1L271.1 86.4L271.5 86.4L271.9 86.5L272.0 86.7L272.3 86.2L272.7 85.5L273.1 85.5L273.5 85.4L273.9 85.5L274.3 85.1L274.7 85.0L275.1 84.8L275.5 84.7L275.9 83.9L276.3 84.8L276.7 84.6L277.1 84.8L277.5 84.8L277.9 85.4L278.3 86.0L278.7 85.5L279.1 85.3L279.5 86.0L279.9 86.1L280.3 86.4L280.7 86.5L281.0 87.3L281.1 87.6L281.5 86.7L281.9 88.0L282.3 88.4L282.7 88.2L283.1 88.1L283.5 88.9L283.9 89.7L284.3 89.5L284.7 90.3L285.1 90.0L285.5 90.0L285.9 90.0L286.3 90.8L286.7 90.3L287.1 90.8L287.5 91.0L287.9 91.4L288.3 91.4L288.7 91.1L289.1 91.2L289.5 92.0L289.9 91.7L290.3 91.6L290.7 91.4L291.1 91.5L291.5 91.2L291.9 91.7L292.3 91.7L292.7 91.7L293.1 92.2L293.5 92.0L293.9 92.0L294.0 92.3L294.3 92.0L294.7 91.8L295.1 92.5L295.5 92.1L295.9 92.2L296.3 92.4L296.7 91.4L297.1 91.4L297.5 91.5L297.9 90.9L298.3 90.5L298.7 90.1L299.1 89.6L299.5 89.1L299.9 88.8L300.3 88.4L300.7 88.7L301.1 88.4L301.5 88.8L301.9 88.6L302.3 89.2L302.7 89.0L303.1 89.6L303.5 89.7L303.9 90.4L304.3 90.1L304.7 90.5L305.1 91.0L305.5 91.1L305.9 92.1L306.3 92.1L306.7 92.6L307.1 92.9L307.5 92.9L307.9 92.7L308.0 92.5L308.3 92.5L308.7 92.8L309.1 93.0L309.5 93.0L309.9 93.4L310.3 92.9L310.7 92.8L311.1 93.1L311.5 93.4L311.9 92.6L312.3 92.8L312.7 92.8L313.1 92.9L313.5 92.6L313.9 92.0L314.3 91.9L314.7 91.2L315.1 91.0L315.5 90.8L315.9 89.2L316.3 88.9L316.7 88.5L317.1 88.3L317.5 88.7L317.9 89.0L318.3 89.8L318.7 90.2L319.1 90.4L319.5 90.8L319.9 91.5L320.3 91.8L320.7 92.0L321.1 92.5L321.5 92.4L321.9 92.7L322.3 92.9L322.7 93.1L323.1 93.5L323.5 94.0L323.9 94.3L324.3 94.2L324.7 95.1L325.1 95.2L325.5 95.2L325.9 95.0L326.3 94.5L326.7 94.2L327.1 94.0L327.5 93.8L327.9 94.2L328.3 93.9L328.7 94.4L329.1 94.5L329.5 94.2L329.9 94.0L330.0 93.9L330.3 93.8L330.7 93.6L331.1 94.2L331.5 93.8L331.9 94.2L332.3 94.5L332.7 94.7L333.1 95.0L333.5 95.1L333.9 95.0L334.3 95.5L334.7 94.6L335.1 95.0L335.5 94.9L335.9 94.4L336.3 94.2L336.7 94.5L337.1 94.7L337.5 94.6L337.9 94.6L338.3 94.6L338.7 94.4L339.1 94.2L339.5 94.0L339.9 93.8L340.3 93.5L340.7 93.1L341.1 93.4L341.5 93.5L341.9 92.9L342.3 93.5L342.7 93.5L343.1 93.9L343.5 93.6L343.9 93.6L344.3 93.7L344.7 93.5L345.1 93.5L345.5 93.5L345.9 94.1L346.3 94.4L346.7 93.9L347.1 94.1L347.5 93.7L347.9 93.8L348.3 94.0L348.7 93.9L349.1 94.0L349.5 94.1L349.9 94.9L350.3 95.3L350.7 94.6L351.1 95.3L351.5 95.1L351.9 94.7L352.3 95.3L352.7 94.9L353.1 95.1L353.5 94.3L353.9 94.3L354.3 94.1L354.7 94.5L355.1 94.1L355.5 94.5L355.9 95.0L356.3 94.9L356.7 95.1L357.1 94.8L357.5 94.9L357.9 94.5L358.3 94.0L358.7 94.3L359.1 94.3L359.5 94.3L359.9 94.5L360.3 95.2L360.7 94.5L361.1 94.7L361.5 94.9L361.9 94.9L362.3 94.7L362.7 94.3L363.1 94.9L363.5 94.6L363.9 94.2L364.3 94.8L364.7 94.5L365.1 94.0L365.5 93.8L365.9 94.5L366.3 94.5L366.7 94.9L367.1 94.9L367.5 94.7L367.9 95.0L368.3 94.9L368.7 94.6L369.1 95.0L369.5 94.7L369.9 94.5L370.3 94.4L370.7 94.1L371.1 94.1L371.5 94.3L371.9 94.2L372.3 94.9L372.7 94.6L373.1 94.8L373.5 95.3L373.9 95.3L374.3 95.5L374.7 94.8L375.1 95.2L375.5 94.5L375.9 94.2L376.3 94.1L376.7 94.1L377.1 94.2L377.5 94.5L377.9 95.1L378.3 94.4L378.7 94.5L379.1 94.3L379.5 94.4L379.9 94.1L380.3 94.0L380.7 94.3L381.1 93.7L381.5 93.2L381.9 93.4L382.3 93.6L382.7 93.5L383.1 92.7L383.5 92.5L383.9 92.2L384.3 91.7L384.7 91.0L385.1 90.4L385.5 90.5L385.9 90.2L386.3 89.6L386.7 89.3L387.1 89.2L387.5 89.1L387.9 89.1L388.3 89.4L388.7 89.4L389.1 89.9L389.5 90.0L389.9 90.2L390.3 90.7L390.7 90.7L391.1 91.9L391.5 92.3L391.9 93.2L392.3 93.2L392.7 93.6L393.1 93.6L393.5 94.3L393.9 93.8L394.3 93.7L394.7 93.0L395.1 93.0L395.5 92.5L395.9 92.4L396.3 92.3L396.7 91.8L397.1 91.7L397.5 91.2L397.9 90.8L398.3 89.9L398.7 89.7L399.1 89.7L399.5 89.7L399.9 89.2L400.3 89.4L400.7 89.7L401.1 89.6L401.5 89.8L401.9 89.9L402.3 90.4L402.7 91.1L403.1 91.6L403.5 91.5L403.9 92.7L404.3 93.1L404.7 93.5L405.1 94.5L405.5 94.3L405.9 93.8L406.3 93.6L406.7 93.7L407.1 93.3L407.5 93.8L407.9 94.2L408.3 93.9L408.7 94.4L409.1 94.5L409.5 94.2L409.9 94.4L410.3 94.6L410.7 94.7L411.1 94.6L411.5 95.1L411.9 94.9L412.3 95.0L412.7 94.8L413.1 94.7L413.5 94.1L413.9 94.7L414.3 94.5L414.7 94.4L415.1 94.5L415.5 94.2L415.9 94.3L416.3 94.4L416.7 93.6L417.1 93.9L417.5 94.0L417.9 94.2L418.3 94.4L418.7 94.6L419.1 94.9L419.5 95.1L419.9 95.1L420.3 95.3L420.7 95.2L421.1 95.4L421.5 95.4L421.9 94.8L422.3 94.6L422.7 94.5L423.1 94.5L423.5 94.7L423.9 94.6L424.3 94.5L424.7 94.1L425.1 94.0L425.5 94.0L425.9 94.0L426.3 93.2L426.7 94.0L427.1 94.0L427.5 93.7L427.9 94.2L428.3 94.2L428.7 94.3L429.1 93.9L429.5 94.6L429.9 94.4L430.3 94.4L430.7 93.7L431.1 93.8L431.5 94.1L431.9 93.8L432.3 94.5L432.7 93.9L433.1 94.3L433.5 94.3L433.9 94.9L434.3 94.2L434.7 94.4L435.1 93.8L435.5 93.6L435.9 94.0L436.3 94.3L436.7 94.0L437.1 94.4L437.5 94.3L437.9 94.1L438.3 94.2L438.7 94.2L439.1 94.0L439.5 94.2L439.9 94.3L440.3 94.1L440.7 93.7L441.1 94.5L441.5 94.3L441.9 94.7L442.3 94.5L442.7 94.9L443.1 94.8L443.5 94.7L443.9 94.7L444.3 94.6L444.7 93.9L445.1 94.7L445.5 94.6L445.9 94.3L446.3 93.6L446.7 93.6L447.1 92.6L447.5 92.6L447.9 92.3L448.3 92.7L448.7 93.2L449.1 92.6L449.5 93.2L449.9 93.4L450.3 93.0L450.7 93.3L451.1 93.6L451.5 93.7L451.9 94.2L452.3 94.1L452.7 93.6L453.1 94.1L453.5 93.9L453.9 93.6L454.3 93.2L454.7 93.9L455.1 94.0L455.5 93.7L455.9 93.5L456.3 93.5L456.7 93.4L457.1 93.9L457.5 93.2L457.9 93.9L458.3 93.6L458.7 93.7L459.1 93.7L459.5 93.9L459.9 93.4L460.3 93.1L460.7 93.3L461.1 93.4L461.5 93.6L461.9 93.8L462.3 93.6L462.7 94.0L463.1 93.5L463.5 94.0L463.9 93.5L464.3 93.3"/><use href="#c-blue" y="0.25"/><use href="#c-blue" y="-0.25"/></g>
<path d="M48.4 95.2V83.4" stroke="#0a14c8" style="stroke-width:3.0;stroke-linecap:round"/>
</g>
<g id="axis" transform="scale(1,1)">
<path d="M18.2 457.5H466" stroke="#000" stroke-width="1.8" fill="none"/>
<path d="M19.1 456.6V467.1M31.8 456.6V462.4M44.6 456.6V462.4M57.3 456.6V462.4M70.1 456.6V462.4M82.8 456.6V467.1M95.6 456.6V462.4M108.3 456.6V462.4M121.1 456.6V462.4M133.8 456.6V462.4M146.6 456.6V467.1M159.3 456.6V462.4M172.0 456.6V462.4M184.8 456.6V462.4M197.5 456.6V462.4M210.3 456.6V467.1M223.0 456.6V462.4M235.8 456.6V462.4M248.5 456.6V462.4M261.3 456.6V462.4M274.0 456.6V467.1M286.7 456.6V462.4M299.5 456.6V462.4M312.2 456.6V462.4M325.0 456.6V462.4M337.7 456.6V467.1M350.5 456.6V462.4M363.2 456.6V462.4M376.0 456.6V462.4M388.7 456.6V462.4M401.5 456.6V467.1M414.2 456.6V462.4M426.9 456.6V462.4M439.7 456.6V462.4M452.4 456.6V462.4M465.2 456.6V467.1" stroke="#000" stroke-width="1.8" fill="none"/>
<text transform="translate(19.3 491.7) scale(1.02 1)" text-anchor="middle">6.0</text>
<text transform="translate(83.0 491.7) scale(1.02 1)" text-anchor="middle">5.5</text>
<text transform="translate(146.8 491.7) scale(1.02 1)" text-anchor="middle">5.0</text>
<text transform="translate(210.5 491.7) scale(1.02 1)" text-anchor="middle">4.5</text>
<text transform="translate(274.2 491.7) scale(1.02 1)" text-anchor="middle">4.0</text>
<text transform="translate(337.9 491.7) scale(1.02 1)" text-anchor="middle">3.5</text>
<text transform="translate(401.7 491.7) scale(1.02 1)" text-anchor="middle">3.0</text>
<text transform="translate(465.4 491.7) scale(1.02 1)" text-anchor="middle">2.5</text>
<text transform="translate(246.7 523.4) scale(1.017 1)" text-anchor="middle">Chemical shift (ppm)</text>
</g>
<g id="temps">
<text x="532.5" y="99.8" text-anchor="end">25°C</text>
<text x="532.5" y="135.8" text-anchor="end">40°C</text>
<text x="532.5" y="170.8" text-anchor="end">50°C</text>
<text x="532.5" y="206.8" text-anchor="end">60°C</text>
<text x="532.5" y="242.8" text-anchor="end">70°C</text>
<text x="532.5" y="278.4" text-anchor="end">80°C</text>
<text x="534.4" y="313.5" text-anchor="end">120°C</text>
<text x="532.5" y="354.2" text-anchor="end">80°C</text>
<text x="532.5" y="394.4" text-anchor="end">40°C</text>
<text x="532.5" y="437.2" text-anchor="end">25°C</text>
<path d="M541.9 427.3V94" stroke="#000" stroke-width="1.7" fill="none"/>
<path d="M541.9 82.6L545.2 95.2H538.6Z" fill="#000"/>
</g>
<g id="labels">
<text transform="translate(20.8 17.6) scale(0.95 0.8)" text-anchor="middle" style="font-size:20px;font-weight:bold">*</text>
<text x="90.0" y="65.0">H<tspan class="sub" dy="6.5">f</tspan></text>
<text x="250.5" y="49.4">H<tspan class="sub" dy="6.6">c</tspan></text>
<text x="287.2" y="19.8">H<tspan class="sub" dy="6.1">g,<tspan class="it">endo</tspan></tspan></text>
<text x="287.2" y="52.9">H<tspan class="sub" dy="6.3">h,<tspan class="it">endo</tspan></tspan></text>
<text x="373.6" y="19.8">H<tspan class="sub" dy="6.1">g,<tspan class="it">exo</tspan></tspan></text>
<text x="373.6" y="52.9">H<tspan class="sub" dy="6.3">h,<tspan class="it">exo</tspan></tspan></text>
<path d="M240.3 66.2C240.5 64.6 241.4 64.2 243 64.2H257.6C259.6 64.2 260.3 63.4 260.6 61.3C260.9 63.4 261.6 64.2 263.6 64.2H278C279.6 64.2 280.4 64.6 280.6 66.2" stroke="#000" stroke-width="1.1" fill="none"/>
<path d="M293 78.1C293.2 76.5 294.1 76.1 295.7 76.1H308.3C310.3 76.1 311 75.3 311.3 73.2C311.6 75.3 312.3 76.1 314.3 76.1H326.3C327.9 76.1 328.8 76.5 329 78.1" stroke="#000" stroke-width="1.1" fill="none"/>
<path d="M375.5 76.7C375.7 75.1 376.6 74.7 378.2 74.7H390.9C392.9 74.7 393.6 73.9 393.9 71.8C394.2 73.9 394.9 74.7 396.9 74.7H409C410.6 74.7 411.4 75.1 411.6 76.7" stroke="#000" stroke-width="1.1" fill="none"/>
</g>
</svg>
</body>
</html>
